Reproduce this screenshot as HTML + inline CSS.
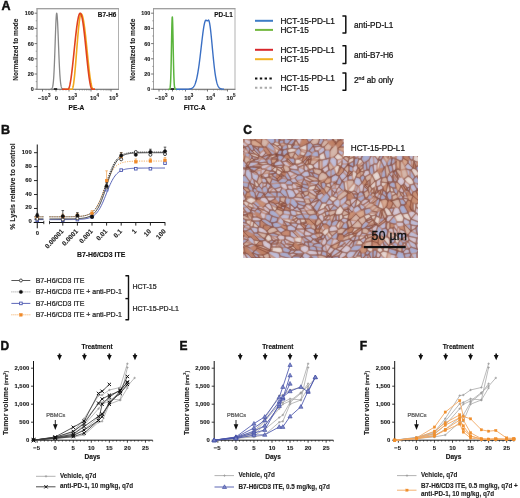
<!DOCTYPE html>
<html><head><meta charset="utf-8"><title>Figure</title>
<style>
html,body{margin:0;padding:0;background:#fff;}
body{width:520px;height:498px;overflow:hidden;}
svg{display:block;font-family:'Liberation Sans', sans-serif;}
</style></head>
<body>
<svg width="520" height="498" viewBox="0 0 520 498">
<rect width="520" height="498" fill="#fff"/>
<text x="1.5" y="10.3" font-size="12.5" font-weight="bold" text-anchor="start" fill="#111" stroke="#111" stroke-width="0.45">A</text>
<text x="1" y="133.8" font-size="12.5" font-weight="bold" text-anchor="start" fill="#111" stroke="#111" stroke-width="0.45">B</text>
<text x="243.3" y="133.6" font-size="12" font-weight="bold" text-anchor="start" fill="#111" stroke="#111" stroke-width="0.45">C</text>
<text x="0.4" y="350.2" font-size="12" font-weight="bold" text-anchor="start" fill="#111" stroke="#111" stroke-width="0.45">D</text>
<text x="179.4" y="350.2" font-size="12" font-weight="bold" text-anchor="start" fill="#111" stroke="#111" stroke-width="0.45">E</text>
<text x="359.8" y="350.2" font-size="12" font-weight="bold" text-anchor="start" fill="#111" stroke="#111" stroke-width="0.45">F</text>
<rect x="37" y="8.7" width="81.5" height="80.6" fill="none" stroke="#a8a8a8" stroke-width="0.9"/>
<line x1="36.6" y1="8.7" x2="118.9" y2="8.7" stroke="#a0a0a0" stroke-width="1.2" />
<line x1="37" y1="8.3" x2="37" y2="89.7" stroke="#999" stroke-width="0.8" />
<line x1="36.6" y1="89.3" x2="118.9" y2="89.3" stroke="#777" stroke-width="1.0" />
<line x1="34.6" y1="89.2" x2="37" y2="89.2" stroke="#555" stroke-width="0.8" />
<text x="33.8" y="91.15" font-size="5.4" font-weight="bold" text-anchor="end" fill="#222"  stroke="#222" stroke-width="0.12">0</text>
<line x1="34.6" y1="74" x2="37" y2="74" stroke="#555" stroke-width="0.8" />
<text x="33.8" y="75.95" font-size="5.4" font-weight="bold" text-anchor="end" fill="#222"  stroke="#222" stroke-width="0.12">20</text>
<line x1="34.6" y1="58.8" x2="37" y2="58.8" stroke="#555" stroke-width="0.8" />
<text x="33.8" y="60.75" font-size="5.4" font-weight="bold" text-anchor="end" fill="#222"  stroke="#222" stroke-width="0.12">40</text>
<line x1="34.6" y1="43.6" x2="37" y2="43.6" stroke="#555" stroke-width="0.8" />
<text x="33.8" y="45.55" font-size="5.4" font-weight="bold" text-anchor="end" fill="#222"  stroke="#222" stroke-width="0.12">60</text>
<line x1="34.6" y1="28.4" x2="37" y2="28.4" stroke="#555" stroke-width="0.8" />
<text x="33.8" y="30.35" font-size="5.4" font-weight="bold" text-anchor="end" fill="#222"  stroke="#222" stroke-width="0.12">80</text>
<line x1="34.6" y1="13.2" x2="37" y2="13.2" stroke="#555" stroke-width="0.8" />
<text x="33.8" y="15.15" font-size="5.4" font-weight="bold" text-anchor="end" fill="#222"  stroke="#222" stroke-width="0.12">100</text>
<line x1="35.7" y1="81.6" x2="37" y2="81.6" stroke="#777" stroke-width="0.6" />
<line x1="35.7" y1="66.4" x2="37" y2="66.4" stroke="#777" stroke-width="0.6" />
<line x1="35.7" y1="51.2" x2="37" y2="51.2" stroke="#777" stroke-width="0.6" />
<line x1="35.7" y1="36" x2="37" y2="36" stroke="#777" stroke-width="0.6" />
<line x1="35.7" y1="20.8" x2="37" y2="20.8" stroke="#777" stroke-width="0.6" />
<line x1="42.5" y1="89.3" x2="42.5" y2="91.5" stroke="#555" stroke-width="0.8" />
<line x1="56" y1="89.3" x2="56" y2="91.5" stroke="#555" stroke-width="0.8" />
<line x1="69" y1="89.3" x2="69" y2="91.5" stroke="#555" stroke-width="0.8" />
<line x1="91" y1="89.3" x2="91" y2="91.5" stroke="#555" stroke-width="0.8" />
<line x1="111" y1="89.3" x2="111" y2="91.5" stroke="#555" stroke-width="0.8" />
<line x1="46" y1="89.3" x2="46" y2="90.5" stroke="#777" stroke-width="0.6" />
<line x1="49" y1="89.3" x2="49" y2="90.5" stroke="#777" stroke-width="0.6" />
<line x1="52" y1="89.3" x2="52" y2="90.5" stroke="#777" stroke-width="0.6" />
<line x1="60" y1="89.3" x2="60" y2="90.5" stroke="#777" stroke-width="0.6" />
<line x1="63" y1="89.3" x2="63" y2="90.5" stroke="#777" stroke-width="0.6" />
<line x1="66" y1="89.3" x2="66" y2="90.5" stroke="#777" stroke-width="0.6" />
<line x1="75.6" y1="89.3" x2="75.6" y2="90.5" stroke="#777" stroke-width="0.6" />
<line x1="79.5" y1="89.3" x2="79.5" y2="90.5" stroke="#777" stroke-width="0.6" />
<line x1="82.3" y1="89.3" x2="82.3" y2="90.5" stroke="#777" stroke-width="0.6" />
<line x1="84.5" y1="89.3" x2="84.5" y2="90.5" stroke="#777" stroke-width="0.6" />
<line x1="86.5" y1="89.3" x2="86.5" y2="90.5" stroke="#777" stroke-width="0.6" />
<line x1="88.2" y1="89.3" x2="88.2" y2="90.5" stroke="#777" stroke-width="0.6" />
<line x1="89.7" y1="89.3" x2="89.7" y2="90.5" stroke="#777" stroke-width="0.6" />
<line x1="97" y1="89.3" x2="97" y2="90.5" stroke="#777" stroke-width="0.6" />
<line x1="101" y1="89.3" x2="101" y2="90.5" stroke="#777" stroke-width="0.6" />
<line x1="103.4" y1="89.3" x2="103.4" y2="90.5" stroke="#777" stroke-width="0.6" />
<line x1="105.2" y1="89.3" x2="105.2" y2="90.5" stroke="#777" stroke-width="0.6" />
<line x1="106.6" y1="89.3" x2="106.6" y2="90.5" stroke="#777" stroke-width="0.6" />
<line x1="107.9" y1="89.3" x2="107.9" y2="90.5" stroke="#777" stroke-width="0.6" />
<line x1="109" y1="89.3" x2="109" y2="90.5" stroke="#777" stroke-width="0.6" />
<line x1="110" y1="89.3" x2="110" y2="90.5" stroke="#777" stroke-width="0.6" />
<text x="37.9" y="99.7" font-size="5.9" font-weight="bold" fill="#222" stroke="#222" stroke-width="0.12">−10<tspan dy="-2.9" font-size="4.5">3</tspan></text>
<text x="56.3" y="99.7" font-size="5.9" font-weight="bold" text-anchor="middle" fill="#222"  stroke="#222" stroke-width="0.12">0</text>
<text x="67.9" y="99.7" font-size="5.9" font-weight="bold" fill="#222" stroke="#222" stroke-width="0.12">10<tspan dy="-2.9" font-size="4.5">3</tspan></text>
<text x="89.9" y="99.7" font-size="5.9" font-weight="bold" fill="#222" stroke="#222" stroke-width="0.12">10<tspan dy="-2.9" font-size="4.5">4</tspan></text>
<text x="109.1" y="99.7" font-size="5.9" font-weight="bold" fill="#222" stroke="#222" stroke-width="0.12">10<tspan dy="-2.9" font-size="4.5">5</tspan></text>
<text x="116.3" y="16.8" font-size="6.4" font-weight="bold" text-anchor="end" fill="#111"  stroke="#111" stroke-width="0.12">B7-H6</text>
<text transform="translate(17.9,49.6) rotate(-90)" font-size="6.5" font-weight="bold" text-anchor="middle" fill="#222" stroke="#222" stroke-width="0.12">Normalized to mode</text>
<text x="68.6" y="109.7" font-size="6.6" font-weight="bold" text-anchor="start" fill="#111"  stroke="#111" stroke-width="0.12">PE-A</text>
<rect x="153.5" y="8.7" width="81.5" height="80.6" fill="none" stroke="#a8a8a8" stroke-width="0.9"/>
<line x1="153.1" y1="8.7" x2="235.4" y2="8.7" stroke="#a0a0a0" stroke-width="1.2" />
<line x1="153.5" y1="8.3" x2="153.5" y2="89.7" stroke="#999" stroke-width="0.8" />
<line x1="153.1" y1="89.3" x2="235.4" y2="89.3" stroke="#777" stroke-width="1.0" />
<line x1="151.1" y1="89.2" x2="153.5" y2="89.2" stroke="#555" stroke-width="0.8" />
<text x="150.3" y="91.15" font-size="5.4" font-weight="bold" text-anchor="end" fill="#222"  stroke="#222" stroke-width="0.12">0</text>
<line x1="151.1" y1="74" x2="153.5" y2="74" stroke="#555" stroke-width="0.8" />
<text x="150.3" y="75.95" font-size="5.4" font-weight="bold" text-anchor="end" fill="#222"  stroke="#222" stroke-width="0.12">20</text>
<line x1="151.1" y1="58.8" x2="153.5" y2="58.8" stroke="#555" stroke-width="0.8" />
<text x="150.3" y="60.75" font-size="5.4" font-weight="bold" text-anchor="end" fill="#222"  stroke="#222" stroke-width="0.12">40</text>
<line x1="151.1" y1="43.6" x2="153.5" y2="43.6" stroke="#555" stroke-width="0.8" />
<text x="150.3" y="45.55" font-size="5.4" font-weight="bold" text-anchor="end" fill="#222"  stroke="#222" stroke-width="0.12">60</text>
<line x1="151.1" y1="28.4" x2="153.5" y2="28.4" stroke="#555" stroke-width="0.8" />
<text x="150.3" y="30.35" font-size="5.4" font-weight="bold" text-anchor="end" fill="#222"  stroke="#222" stroke-width="0.12">80</text>
<line x1="151.1" y1="13.2" x2="153.5" y2="13.2" stroke="#555" stroke-width="0.8" />
<text x="150.3" y="15.15" font-size="5.4" font-weight="bold" text-anchor="end" fill="#222"  stroke="#222" stroke-width="0.12">100</text>
<line x1="152.2" y1="81.6" x2="153.5" y2="81.6" stroke="#777" stroke-width="0.6" />
<line x1="152.2" y1="66.4" x2="153.5" y2="66.4" stroke="#777" stroke-width="0.6" />
<line x1="152.2" y1="51.2" x2="153.5" y2="51.2" stroke="#777" stroke-width="0.6" />
<line x1="152.2" y1="36" x2="153.5" y2="36" stroke="#777" stroke-width="0.6" />
<line x1="152.2" y1="20.8" x2="153.5" y2="20.8" stroke="#777" stroke-width="0.6" />
<line x1="159" y1="89.3" x2="159" y2="91.5" stroke="#555" stroke-width="0.8" />
<line x1="172.5" y1="89.3" x2="172.5" y2="91.5" stroke="#555" stroke-width="0.8" />
<line x1="185.5" y1="89.3" x2="185.5" y2="91.5" stroke="#555" stroke-width="0.8" />
<line x1="207.5" y1="89.3" x2="207.5" y2="91.5" stroke="#555" stroke-width="0.8" />
<line x1="227.5" y1="89.3" x2="227.5" y2="91.5" stroke="#555" stroke-width="0.8" />
<line x1="162.5" y1="89.3" x2="162.5" y2="90.5" stroke="#777" stroke-width="0.6" />
<line x1="165.5" y1="89.3" x2="165.5" y2="90.5" stroke="#777" stroke-width="0.6" />
<line x1="168.5" y1="89.3" x2="168.5" y2="90.5" stroke="#777" stroke-width="0.6" />
<line x1="176.5" y1="89.3" x2="176.5" y2="90.5" stroke="#777" stroke-width="0.6" />
<line x1="179.5" y1="89.3" x2="179.5" y2="90.5" stroke="#777" stroke-width="0.6" />
<line x1="182.5" y1="89.3" x2="182.5" y2="90.5" stroke="#777" stroke-width="0.6" />
<line x1="192.1" y1="89.3" x2="192.1" y2="90.5" stroke="#777" stroke-width="0.6" />
<line x1="196" y1="89.3" x2="196" y2="90.5" stroke="#777" stroke-width="0.6" />
<line x1="198.8" y1="89.3" x2="198.8" y2="90.5" stroke="#777" stroke-width="0.6" />
<line x1="201" y1="89.3" x2="201" y2="90.5" stroke="#777" stroke-width="0.6" />
<line x1="203" y1="89.3" x2="203" y2="90.5" stroke="#777" stroke-width="0.6" />
<line x1="204.7" y1="89.3" x2="204.7" y2="90.5" stroke="#777" stroke-width="0.6" />
<line x1="206.2" y1="89.3" x2="206.2" y2="90.5" stroke="#777" stroke-width="0.6" />
<line x1="213.5" y1="89.3" x2="213.5" y2="90.5" stroke="#777" stroke-width="0.6" />
<line x1="217.5" y1="89.3" x2="217.5" y2="90.5" stroke="#777" stroke-width="0.6" />
<line x1="219.9" y1="89.3" x2="219.9" y2="90.5" stroke="#777" stroke-width="0.6" />
<line x1="221.7" y1="89.3" x2="221.7" y2="90.5" stroke="#777" stroke-width="0.6" />
<line x1="223.1" y1="89.3" x2="223.1" y2="90.5" stroke="#777" stroke-width="0.6" />
<line x1="224.4" y1="89.3" x2="224.4" y2="90.5" stroke="#777" stroke-width="0.6" />
<line x1="225.5" y1="89.3" x2="225.5" y2="90.5" stroke="#777" stroke-width="0.6" />
<line x1="226.5" y1="89.3" x2="226.5" y2="90.5" stroke="#777" stroke-width="0.6" />
<text x="154.9" y="99.7" font-size="5.9" font-weight="bold" fill="#222" stroke="#222" stroke-width="0.12">−10<tspan dy="-2.9" font-size="4.5">3</tspan></text>
<text x="172.3" y="99.7" font-size="5.9" font-weight="bold" text-anchor="middle" fill="#222"  stroke="#222" stroke-width="0.12">0</text>
<text x="184.3" y="99.7" font-size="5.9" font-weight="bold" fill="#222" stroke="#222" stroke-width="0.12">10<tspan dy="-2.9" font-size="4.5">3</tspan></text>
<text x="206" y="99.7" font-size="5.9" font-weight="bold" fill="#222" stroke="#222" stroke-width="0.12">10<tspan dy="-2.9" font-size="4.5">4</tspan></text>
<text x="226.4" y="99.7" font-size="5.9" font-weight="bold" fill="#222" stroke="#222" stroke-width="0.12">10<tspan dy="-2.9" font-size="4.5">5</tspan></text>
<text x="232.8" y="16.8" font-size="6.4" font-weight="bold" text-anchor="end" fill="#111"  stroke="#111" stroke-width="0.12">PD-L1</text>
<text transform="translate(135.3,49.6) rotate(-90)" font-size="6.5" font-weight="bold" text-anchor="middle" fill="#222" stroke="#222" stroke-width="0.12">Normalized to mode</text>
<text x="183.8" y="109.7" font-size="6.6" font-weight="bold" text-anchor="start" fill="#111"  stroke="#111" stroke-width="0.12">FITC-A</text>
<line x1="53.8" y1="89" x2="57.2" y2="89" stroke="#111" stroke-width="1.6" />
<polyline points="50.5,89.17 50.59,89.17 50.67,89.16 50.76,89.15 50.85,89.14 50.94,89.12 51.02,89.11 51.11,89.09 51.2,89.06 51.29,89.03 51.38,88.99 51.46,88.95 51.55,88.9 51.64,88.83 51.73,88.76 51.81,88.67 51.9,88.57 51.99,88.45 52.08,88.31 52.16,88.15 52.25,87.97 52.34,87.75 52.42,87.51 52.51,87.22 52.6,86.9 52.69,86.54 52.77,86.12 52.86,85.65 52.95,85.13 53.04,84.54 53.12,83.88 53.21,83.15 53.3,82.35 53.39,81.45 53.48,80.48 53.56,79.4 53.65,78.23 53.74,76.97 53.83,75.59 53.91,74.12 54,72.53 54.09,70.84 54.17,69.04 54.26,67.13 54.35,65.12 54.44,63.01 54.52,60.81 54.61,58.51 54.7,56.14 54.79,53.7 54.88,51.2 54.96,48.65 55.05,46.07 55.14,43.48 55.23,40.87 55.31,38.29 55.4,35.74 55.49,33.23 55.58,30.8 55.66,28.45 55.75,26.21 55.84,24.1 55.92,22.13 56.01,20.32 56.1,18.69 56.19,17.24 56.27,16 56.36,14.98 56.45,14.18 56.54,13.62 56.62,13.29 56.71,13.2 56.8,13.32 56.89,13.63 56.98,14.13 57.06,14.81 57.15,15.67 57.24,16.7 57.33,17.9 57.41,19.25 57.5,20.74 57.59,22.37 57.67,24.13 57.76,25.99 57.85,27.96 57.94,30.01 58.02,32.14 58.11,34.33 58.2,36.56 58.29,38.84 58.38,41.13 58.46,43.43 58.55,45.73 58.64,48.02 58.73,50.29 58.81,52.52 58.9,54.71 58.99,56.86 59.08,58.94 59.16,60.96 59.25,62.91 59.34,64.79 59.42,66.59 59.51,68.31 59.6,69.95 59.69,71.5 59.77,72.97 59.86,74.35 59.95,75.65 60.04,76.87 60.12,78 60.21,79.06 60.3,80.04 60.39,80.95 60.48,81.78 60.56,82.55 60.65,83.25 60.74,83.89 60.83,84.48 60.91,85.01 61,85.49 61.09,85.92 61.17,86.31 61.26,86.66 61.35,86.97 61.44,87.25 61.52,87.5 61.61,87.72 61.7,87.92 61.79,88.09 61.88,88.24 61.96,88.37 62.05,88.49 62.14,88.59 62.23,88.68 62.31,88.76 62.4,88.82 62.49,88.88 62.58,88.93 62.66,88.97 62.75,89.01 62.84,89.04 62.92,89.06 63.01,89.09 63.1,89.11 63.19,89.12 63.27,89.13 63.36,89.15 63.45,89.16 63.54,89.16 63.62,89.17 63.71,89.18 63.8,89.18 63.89,89.18 63.98,89.19 64.06,89.19 64.15,89.19 64.24,89.19 64.33,89.19 64.41,89.2 64.5,89.2" fill="none" stroke="#888" stroke-width="1.3" stroke-linejoin="round" />
<polyline points="64,89.2 64.19,89.2 64.39,89.2 64.58,89.2 64.78,89.2 64.97,89.2 65.16,89.2 65.36,89.2 65.55,89.2 65.74,89.2 65.94,89.2 66.13,89.2 66.33,89.2 66.52,89.2 66.71,89.2 66.91,89.2 67.1,89.2 67.29,89.2 67.49,89.2 67.68,89.2 67.88,89.2 68.07,89.2 68.26,89.2 68.46,89.2 68.65,89.2 68.84,89.2 69.04,89.2 69.23,89.2 69.42,89.2 69.62,89.2 69.81,89.2 70.01,89.2 70.2,89.2 70.39,89.2 70.59,89.2 70.78,89.2 70.97,89.2 71.17,89.2 71.36,89.2 71.56,89.2 71.75,89.2 71.94,89.2 72.14,89.16 72.33,88.96 72.53,88.6 72.72,88.07 72.91,87.39 73.11,86.55 73.3,85.55 73.49,84.41 73.69,83.12 73.88,81.7 74.08,80.14 74.27,78.46 74.46,76.67 74.66,74.76 74.85,72.75 75.04,70.64 75.24,68.46 75.43,66.2 75.62,63.88 75.82,61.5 76.01,59.08 76.21,56.62 76.4,54.15 76.59,51.66 76.79,49.17 76.98,46.7 77.17,44.24 77.37,41.82 77.56,39.44 77.76,37.11 77.95,34.85 78.14,32.65 78.34,30.55 78.53,28.53 78.72,26.61 78.92,24.81 79.11,23.12 79.31,21.56 79.5,20.12 79.69,18.83 79.89,17.68 80.08,16.67 80.28,15.82 80.47,15.13 80.66,14.59 80.86,14.22 81.05,14.01 81.24,13.96 81.44,14.03 81.63,14.2 81.83,14.46 82.02,14.82 82.21,15.27 82.41,15.82 82.6,16.46 82.79,17.19 82.99,18 83.18,18.91 83.38,19.9 83.57,20.96 83.76,22.11 83.96,23.34 84.15,24.63 84.34,26 84.54,27.43 84.73,28.92 84.92,30.48 85.12,32.08 85.31,33.74 85.51,35.44 85.7,37.18 85.89,38.96 86.09,40.78 86.28,42.62 86.47,44.48 86.67,46.36 86.86,48.26 87.06,50.16 87.25,52.07 87.44,53.98 87.64,55.88 87.83,57.77 88.03,59.64 88.22,61.5 88.41,63.32 88.61,65.12 88.8,66.88 88.99,68.6 89.19,70.28 89.38,71.91 89.58,73.49 89.77,75.02 89.96,76.48 90.16,77.87 90.35,79.21 90.54,80.46 90.74,81.65 90.93,82.76 91.12,83.78 91.32,84.73 91.51,85.59 91.71,86.36 91.9,87.04 92.09,87.63 92.29,88.13 92.48,88.54 92.67,88.85 92.87,89.06 93.06,89.18 93.26,89.2 93.45,89.2 93.64,89.2 93.84,89.2 94.03,89.2 94.22,89.2 94.42,89.2 94.61,89.2 94.81,89.2 95,89.2" fill="none" stroke="#f2a81d" stroke-width="1.6" stroke-linejoin="round" />
<polyline points="62,89.2 62.21,89.2 62.41,89.2 62.62,89.2 62.83,89.2 63.03,89.2 63.24,89.2 63.44,89.2 63.65,89.2 63.86,89.2 64.06,89.2 64.27,89.2 64.47,89.2 64.68,89.2 64.89,89.2 65.09,89.2 65.3,89.2 65.51,89.2 65.71,89.2 65.92,89.2 66.12,89.2 66.33,89.2 66.54,89.2 66.74,89.2 66.95,89.2 67.16,89.2 67.36,89.2 67.57,89.2 67.78,89.2 67.98,89.2 68.19,89.16 68.39,89 68.6,88.75 68.81,88.38 69.01,87.92 69.22,87.34 69.42,86.67 69.63,85.9 69.84,85.02 70.04,84.06 70.25,83 70.46,81.85 70.66,80.61 70.87,79.29 71.08,77.9 71.28,76.42 71.49,74.88 71.69,73.27 71.9,71.59 72.11,69.86 72.31,68.08 72.52,66.25 72.72,64.38 72.93,62.46 73.14,60.52 73.34,58.55 73.55,56.56 73.76,54.56 73.96,52.55 74.17,50.53 74.38,48.51 74.58,46.5 74.79,44.51 74.99,42.53 75.2,40.58 75.41,38.66 75.61,36.77 75.82,34.93 76.03,33.13 76.23,31.38 76.44,29.68 76.64,28.05 76.85,26.48 77.06,24.99 77.26,23.56 77.47,22.22 77.67,20.95 77.88,19.78 78.09,18.69 78.29,17.69 78.5,16.78 78.71,15.98 78.91,15.27 79.12,14.66 79.33,14.16 79.53,13.76 79.74,13.47 79.94,13.28 80.15,13.2 80.36,13.23 80.56,13.37 80.77,13.62 80.97,13.98 81.18,14.45 81.39,15.02 81.59,15.7 81.8,16.49 82.01,17.37 82.21,18.35 82.42,19.43 82.62,20.6 82.83,21.87 83.04,23.21 83.24,24.64 83.45,26.14 83.66,27.72 83.86,29.37 84.07,31.08 84.28,32.85 84.48,34.67 84.69,36.54 84.89,38.46 85.1,40.41 85.31,42.39 85.51,44.4 85.72,46.42 85.92,48.47 86.13,50.52 86.34,52.57 86.54,54.62 86.75,56.65 86.96,58.67 87.16,60.67 87.37,62.65 87.58,64.59 87.78,66.49 87.99,68.34 88.19,70.15 88.4,71.9 88.61,73.59 88.81,75.21 89.02,76.77 89.22,78.25 89.43,79.65 89.64,80.96 89.84,82.2 90.05,83.34 90.26,84.39 90.46,85.34 90.67,86.19 90.88,86.94 91.08,87.58 91.29,88.12 91.49,88.55 91.7,88.87 91.91,89.09 92.11,89.19 92.32,89.2 92.53,89.2 92.73,89.2 92.94,89.2 93.14,89.2 93.35,89.2 93.56,89.2 93.76,89.2 93.97,89.2 94.17,89.2 94.38,89.2 94.59,89.2 94.79,89.2 95,89.2" fill="none" stroke="#e0421f" stroke-width="1.6" stroke-linejoin="round" />
<line x1="170.5" y1="89" x2="174" y2="89" stroke="#111" stroke-width="1.6" />
<polyline points="168.5,89.2 168.55,89.2 168.6,89.2 168.65,89.2 168.7,89.2 168.75,89.2 168.8,89.19 168.85,89.19 168.9,89.19 168.95,89.19 169,89.19 169.05,89.18 169.1,89.18 169.15,89.17 169.2,89.16 169.25,89.15 169.3,89.14 169.35,89.12 169.4,89.1 169.45,89.07 169.5,89.04 169.55,89 169.6,88.96 169.65,88.9 169.7,88.83 169.75,88.75 169.8,88.65 169.85,88.54 169.9,88.4 169.95,88.23 170,88.04 170.05,87.82 170.1,87.55 170.15,87.25 170.2,86.9 170.25,86.49 170.3,86.03 170.35,85.5 170.4,84.9 170.45,84.22 170.5,83.46 170.55,82.6 170.6,81.65 170.65,80.59 170.7,79.43 170.75,78.15 170.8,76.75 170.85,75.23 170.9,73.59 170.95,71.81 171,69.92 171.05,67.9 171.1,65.76 171.15,63.51 171.2,61.15 171.25,58.69 171.3,56.14 171.35,53.53 171.4,50.85 171.45,48.14 171.5,45.41 171.55,42.68 171.6,39.96 171.65,37.3 171.7,34.7 171.75,32.2 171.8,29.81 171.85,27.56 171.9,25.48 171.95,23.59 172,21.9 172.05,20.44 172.1,19.22 172.15,18.26 172.2,17.56 172.25,17.14 172.3,17 172.35,17.12 172.4,17.5 172.45,18.12 172.5,18.97 172.55,20.06 172.6,21.36 172.65,22.87 172.7,24.57 172.75,26.44 172.8,28.47 172.85,30.64 172.9,32.92 172.95,35.3 173,37.76 173.05,40.28 173.1,42.84 173.15,45.41 173.2,47.98 173.25,50.54 173.3,53.06 173.35,55.53 173.4,57.95 173.45,60.29 173.5,62.55 173.55,64.71 173.6,66.78 173.65,68.75 173.7,70.6 173.75,72.35 173.8,73.98 173.85,75.51 173.9,76.92 173.95,78.23 174,79.43 174.05,80.53 174.1,81.53 174.15,82.44 174.2,83.26 174.25,84 174.3,84.67 174.35,85.26 174.4,85.79 174.45,86.25 174.5,86.67 174.55,87.03 174.6,87.34 174.65,87.62 174.7,87.86 174.75,88.07 174.8,88.24 174.85,88.4 174.9,88.53 174.95,88.64 175,88.73 175.05,88.81 175.1,88.88 175.15,88.94 175.2,88.99 175.25,89.03 175.3,89.06 175.35,89.08 175.4,89.11 175.45,89.12 175.5,89.14 175.55,89.15 175.6,89.16 175.65,89.17 175.7,89.18 175.75,89.18 175.8,89.18 175.85,89.19 175.9,89.19 175.95,89.19 176,89.19 176.05,89.2 176.1,89.2 176.15,89.2 176.2,89.2 176.25,89.2 176.3,89.2 176.35,89.2 176.4,89.2 176.45,89.2 176.5,89.2" fill="none" stroke="#5ab43c" stroke-width="1.5" stroke-linejoin="round" />
<polyline points="176,89.2 176.24,89.2 176.48,89.2 176.72,89.2 176.96,89.2 177.2,89.2 177.44,89.2 177.68,89.2 177.92,89.2 178.16,89.2 178.4,89.2 178.64,89.2 178.88,89.2 179.12,89.2 179.36,89.2 179.6,89.2 179.84,89.2 180.08,89.2 180.32,89.2 180.56,89.2 180.8,89.2 181.04,89.2 181.28,89.2 181.52,89.2 181.76,89.2 182,89.2 182.24,89.2 182.48,89.2 182.72,89.2 182.96,89.2 183.2,89.2 183.44,89.2 183.68,89.2 183.92,89.2 184.16,89.2 184.4,89.2 184.64,89.2 184.88,89.2 185.12,89.19 185.36,89.19 185.6,89.19 185.84,89.19 186.08,89.19 186.32,89.18 186.56,89.18 186.8,89.18 187.04,89.17 187.28,89.17 187.52,89.16 187.76,89.15 188,89.14 188.24,89.13 188.48,89.11 188.72,89.09 188.96,89.07 189.2,89.05 189.44,89.02 189.68,88.99 189.92,88.95 190.16,88.9 190.4,88.85 190.64,88.79 190.88,88.72 191.12,88.63 191.36,88.54 191.6,88.43 191.84,88.31 192.08,88.17 192.32,88.01 192.56,87.83 192.8,87.62 193.04,87.39 193.28,87.13 193.52,86.85 193.76,86.52 194,86.16 194.24,85.76 194.48,85.32 194.72,84.83 194.96,84.29 195.2,83.7 195.44,83.05 195.68,82.34 195.92,81.58 196.16,80.74 196.4,79.84 196.64,78.87 196.88,77.82 197.12,76.71 197.36,75.51 197.6,74.24 197.84,72.9 198.08,71.47 198.32,69.97 198.56,68.4 198.8,66.75 199.04,65.03 199.28,63.24 199.52,61.4 199.76,59.49 200,57.54 200.24,55.54 200.48,53.5 200.72,51.43 200.96,49.35 201.2,47.25 201.44,45.16 201.68,43.07 201.92,41.01 202.16,38.98 202.4,37 202.64,35.07 202.88,33.21 203.12,31.43 203.36,29.75 203.6,28.17 203.84,26.7 204.08,25.36 204.32,24.15 204.56,23.08 204.8,22.17 205.04,21.41 205.28,20.81 205.52,20.38 205.76,20.13 206,20.04 206.24,20.27 206.48,20.49 206.72,20.65 206.96,20.76 207.2,20.8 207.44,20.76 207.68,20.65 207.92,20.49 208.16,20.27 208.4,20.04 208.64,20.17 208.88,20.56 209.12,21.21 209.36,22.1 209.6,23.24 209.84,24.6 210.08,26.17 210.32,27.93 210.56,29.87 210.8,31.97 211.04,34.2 211.28,36.55 211.52,38.98 211.76,41.48 212,44.03 212.24,46.61 212.48,49.19 212.72,51.75 212.96,54.29 213.2,56.77 213.44,59.19 213.68,61.54 213.92,63.8 214.16,65.96 214.4,68.02 214.64,69.97 214.88,71.81 215.12,73.53 215.36,75.13 215.6,76.62 215.84,77.99 216.08,79.25 216.32,80.4 216.56,81.45 216.8,82.4 217.04,83.26 217.28,84.02 217.52,84.71 217.76,85.32 218,85.86 218.24,86.33 218.48,86.75 218.72,87.11 218.96,87.43 219.2,87.71 219.44,87.94 219.68,88.14 219.92,88.32 220.16,88.47 220.4,88.59 220.64,88.7 220.88,88.79 221.12,88.86 221.36,88.92 221.6,88.97 221.84,89.02 222.08,89.05 222.32,89.08 222.56,89.11 222.8,89.12 223.04,89.14 223.28,89.15 223.52,89.16 223.76,89.17 224,89.18" fill="none" stroke="#3a6fc4" stroke-width="1.4" stroke-linejoin="round" />
<line x1="255" y1="20.8" x2="273" y2="20.8" stroke="#3d7cc6" stroke-width="2.0" />
<text x="280.4" y="23.6" font-size="8.25" font-weight="normal" text-anchor="start" fill="#111"  stroke="#111" stroke-width="0.22">HCT-15-PD-L1</text>
<line x1="255" y1="29.9" x2="273" y2="29.9" stroke="#74b840" stroke-width="2.0" />
<text x="280.4" y="32.7" font-size="8.25" font-weight="normal" text-anchor="start" fill="#111"  stroke="#111" stroke-width="0.22">HCT-15</text>
<line x1="255" y1="49.8" x2="273" y2="49.8" stroke="#d8262b" stroke-width="2.0" />
<text x="280.4" y="52.6" font-size="8.25" font-weight="normal" text-anchor="start" fill="#111"  stroke="#111" stroke-width="0.22">HCT-15-PD-L1</text>
<line x1="255" y1="59.2" x2="273" y2="59.2" stroke="#f2b322" stroke-width="2.0" />
<text x="280.4" y="62" font-size="8.25" font-weight="normal" text-anchor="start" fill="#111"  stroke="#111" stroke-width="0.22">HCT-15</text>
<line x1="255" y1="78.4" x2="273" y2="78.4" stroke="#111" stroke-width="2.0" stroke-dasharray="2.4 2.4"/>
<text x="280.4" y="81.2" font-size="8.25" font-weight="normal" text-anchor="start" fill="#111"  stroke="#111" stroke-width="0.22">HCT-15-PD-L1</text>
<line x1="255" y1="87.8" x2="273" y2="87.8" stroke="#aaa" stroke-width="2.0" stroke-dasharray="2.4 2.4"/>
<text x="280.4" y="90.6" font-size="8.25" font-weight="normal" text-anchor="start" fill="#111"  stroke="#111" stroke-width="0.22">HCT-15</text>
<polyline points="342.4,15.9 345.8,15.9 345.8,33 342.4,33" fill="none" stroke="#111" stroke-width="1.5" stroke-linejoin="round" stroke-linejoin="miter"/>
<polyline points="342.4,45.8 345.8,45.8 345.8,63.4 342.4,63.4" fill="none" stroke="#111" stroke-width="1.5" stroke-linejoin="round" stroke-linejoin="miter"/>
<polyline points="342.4,72.9 345.8,72.9 345.8,90.3 342.4,90.3" fill="none" stroke="#111" stroke-width="1.5" stroke-linejoin="round" stroke-linejoin="miter"/>
<text x="354" y="28.4" font-size="8.25" font-weight="normal" text-anchor="start" fill="#111"  stroke="#111" stroke-width="0.22">anti-PD-L1</text>
<text x="354" y="57.9" font-size="8.25" font-weight="normal" text-anchor="start" fill="#111"  stroke="#111" stroke-width="0.22">anti-B7-H6</text>
<text x="354" y="83.2" font-size="8.25" fill="#111" stroke="#111" stroke-width="0.22">2<tspan dy="-2.8" font-size="5.2">nd</tspan><tspan dy="2.8"> ab only</tspan></text>
<line x1="37.25" y1="144.5" x2="37.25" y2="228.3" stroke="#111" stroke-width="1.0" />
<line x1="33.7" y1="222.5" x2="43.8" y2="222.5" stroke="#111" stroke-width="1.0" />
<line x1="43.8" y1="220.8" x2="43.8" y2="224.2" stroke="#111" stroke-width="0.8" />
<line x1="49.5" y1="222.5" x2="165.2" y2="222.5" stroke="#111" stroke-width="1.0" />
<line x1="49.5" y1="220.8" x2="49.5" y2="224.2" stroke="#111" stroke-width="0.8" />
<line x1="62.8" y1="222.5" x2="62.8" y2="225.6" stroke="#111" stroke-width="0.9" />
<line x1="77.4" y1="222.5" x2="77.4" y2="225.6" stroke="#111" stroke-width="0.9" />
<line x1="92" y1="222.5" x2="92" y2="225.6" stroke="#111" stroke-width="0.9" />
<line x1="106.6" y1="222.5" x2="106.6" y2="225.6" stroke="#111" stroke-width="0.9" />
<line x1="121.2" y1="222.5" x2="121.2" y2="225.6" stroke="#111" stroke-width="0.9" />
<line x1="135.8" y1="222.5" x2="135.8" y2="225.6" stroke="#111" stroke-width="0.9" />
<line x1="150.4" y1="222.5" x2="150.4" y2="225.6" stroke="#111" stroke-width="0.9" />
<line x1="165" y1="222.5" x2="165" y2="225.6" stroke="#111" stroke-width="0.9" />
<line x1="34" y1="222.4" x2="37.25" y2="222.4" stroke="#111" stroke-width="0.9" />
<text x="31.7" y="223.4" font-size="5.9" font-weight="bold" text-anchor="end" fill="#222"  stroke="#222" stroke-width="0.12">0</text>
<line x1="34" y1="208.46" x2="37.25" y2="208.46" stroke="#111" stroke-width="0.9" />
<text x="31.7" y="209.46" font-size="5.9" font-weight="bold" text-anchor="end" fill="#222"  stroke="#222" stroke-width="0.12">20</text>
<line x1="34" y1="194.52" x2="37.25" y2="194.52" stroke="#111" stroke-width="0.9" />
<text x="31.7" y="195.52" font-size="5.9" font-weight="bold" text-anchor="end" fill="#222"  stroke="#222" stroke-width="0.12">40</text>
<line x1="34" y1="180.58" x2="37.25" y2="180.58" stroke="#111" stroke-width="0.9" />
<text x="31.7" y="181.58" font-size="5.9" font-weight="bold" text-anchor="end" fill="#222"  stroke="#222" stroke-width="0.12">60</text>
<line x1="34" y1="166.64" x2="37.25" y2="166.64" stroke="#111" stroke-width="0.9" />
<text x="31.7" y="167.64" font-size="5.9" font-weight="bold" text-anchor="end" fill="#222"  stroke="#222" stroke-width="0.12">80</text>
<line x1="34" y1="152.7" x2="37.25" y2="152.7" stroke="#111" stroke-width="0.9" />
<text x="31.7" y="153.7" font-size="5.9" font-weight="bold" text-anchor="end" fill="#222"  stroke="#222" stroke-width="0.12">100</text>
<text x="37.3" y="235" font-size="5.9" font-weight="bold" text-anchor="middle" fill="#222"  stroke="#222" stroke-width="0.12">0</text>
<text transform="translate(64,231.6) rotate(-47)" font-size="6.6" font-weight="bold" text-anchor="end" fill="#222" stroke="#222" stroke-width="0.12">0.00001</text>
<text transform="translate(78.6,231.6) rotate(-47)" font-size="6.6" font-weight="bold" text-anchor="end" fill="#222" stroke="#222" stroke-width="0.12">0.0001</text>
<text transform="translate(93.2,231.6) rotate(-47)" font-size="6.6" font-weight="bold" text-anchor="end" fill="#222" stroke="#222" stroke-width="0.12">0.001</text>
<text transform="translate(107.8,231.6) rotate(-47)" font-size="6.6" font-weight="bold" text-anchor="end" fill="#222" stroke="#222" stroke-width="0.12">0.01</text>
<text transform="translate(122.4,231.6) rotate(-47)" font-size="6.6" font-weight="bold" text-anchor="end" fill="#222" stroke="#222" stroke-width="0.12">0.1</text>
<text transform="translate(137,231.6) rotate(-47)" font-size="6.6" font-weight="bold" text-anchor="end" fill="#222" stroke="#222" stroke-width="0.12">1</text>
<text transform="translate(151.6,231.6) rotate(-47)" font-size="6.6" font-weight="bold" text-anchor="end" fill="#222" stroke="#222" stroke-width="0.12">10</text>
<text transform="translate(166.2,231.6) rotate(-47)" font-size="6.6" font-weight="bold" text-anchor="end" fill="#222" stroke="#222" stroke-width="0.12">100</text>
<text transform="translate(15.3,186.6) rotate(-90)" font-size="7" font-weight="bold" text-anchor="middle" fill="#222" stroke="#222" stroke-width="0.12">% Lysis relative to control</text>
<text x="77" y="256.6" font-size="6.9" font-weight="bold" text-anchor="start" fill="#111"  stroke="#111" stroke-width="0.12">B7-H6/CD3 ITE</text>
<polyline points="49.5,216.82 50.46,216.82 51.42,216.82 52.39,216.82 53.35,216.82 54.31,216.82 55.28,216.82 56.24,216.82 57.2,216.82 58.16,216.82 59.12,216.82 60.09,216.82 61.05,216.81 62.01,216.81 62.97,216.81 63.94,216.8 64.9,216.8 65.86,216.8 66.83,216.79 67.79,216.78 68.75,216.77 69.71,216.76 70.68,216.75 71.64,216.74 72.6,216.72 73.56,216.7 74.53,216.67 75.49,216.64 76.45,216.6 77.41,216.55 78.38,216.5 79.34,216.43 80.3,216.35 81.26,216.25 82.22,216.13 83.19,215.99 84.15,215.82 85.11,215.61 86.08,215.36 87.04,215.07 88,214.71 88.96,214.29 89.93,213.79 90.89,213.2 91.85,212.5 92.81,211.68 93.78,210.72 94.74,209.61 95.7,208.33 96.66,206.88 97.62,205.23 98.59,203.39 99.55,201.36 100.51,199.16 101.47,196.79 102.44,194.3 103.4,191.71 104.36,189.07 105.33,186.44 106.29,183.84 107.25,181.34 108.21,178.96 109.17,176.73 110.14,174.69 111.1,172.83 112.06,171.16 113.02,169.69 113.99,168.39 114.95,167.27 115.91,166.3 116.87,165.46 117.84,164.75 118.8,164.15 119.76,163.64 120.73,163.21 121.69,162.85 122.65,162.55 123.61,162.3 124.58,162.09 125.54,161.92 126.5,161.77 127.46,161.65 128.43,161.55 129.39,161.47 130.35,161.4 131.31,161.34 132.28,161.29 133.24,161.25 134.2,161.22 135.16,161.19 136.12,161.17 137.09,161.15 138.05,161.14 139.01,161.12 139.98,161.11 140.94,161.11 141.9,161.1 142.86,161.09 143.82,161.09 144.79,161.08 145.75,161.08 146.71,161.08 147.68,161.08 148.64,161.07 149.6,161.07 150.56,161.07 151.53,161.07 152.49,161.07 153.45,161.07 154.41,161.07 155.38,161.07 156.34,161.07 157.3,161.07 158.26,161.07 159.23,161.07 160.19,161.06 161.15,161.06 162.11,161.06 163.07,161.06 164.04,161.06 165,161.06" fill="none" stroke="#f0a04a" stroke-width="0.9" stroke-linejoin="round" stroke-dasharray="1.2 1.2"/>
<line x1="34.5" y1="216.82" x2="43.5" y2="216.82" stroke="#f0a04a" stroke-width="0.9" stroke-dasharray="1.2 1.2"/>
<polyline points="49.5,219.61 50.46,219.61 51.42,219.61 52.39,219.61 53.35,219.61 54.31,219.61 55.28,219.61 56.24,219.61 57.2,219.61 58.16,219.61 59.12,219.61 60.09,219.61 61.05,219.61 62.01,219.6 62.97,219.6 63.94,219.6 64.9,219.6 65.86,219.59 66.83,219.59 67.79,219.59 68.75,219.58 69.71,219.57 70.68,219.57 71.64,219.56 72.6,219.55 73.56,219.53 74.53,219.51 75.49,219.49 76.45,219.47 77.41,219.44 78.38,219.4 79.34,219.36 80.3,219.31 81.26,219.24 82.22,219.17 83.19,219.08 84.15,218.97 85.11,218.83 86.08,218.67 87.04,218.48 88,218.25 88.96,217.98 89.93,217.65 90.89,217.26 91.85,216.79 92.81,216.24 93.78,215.59 94.74,214.83 95.7,213.94 96.66,212.91 97.62,211.72 98.59,210.37 99.55,208.84 100.51,207.14 101.47,205.26 102.44,203.21 103.4,201.02 104.36,198.71 105.33,196.31 106.29,193.88 107.25,191.44 108.21,189.04 109.17,186.72 110.14,184.53 111.1,182.47 112.06,180.59 113.02,178.87 113.99,177.34 114.95,175.98 115.91,174.78 116.87,173.75 117.84,172.85 118.8,172.08 119.76,171.43 120.73,170.88 121.69,170.41 122.65,170.01 123.61,169.68 124.58,169.4 125.54,169.17 126.5,168.98 127.46,168.82 128.43,168.68 129.39,168.57 130.35,168.48 131.31,168.4 132.28,168.34 133.24,168.29 134.2,168.24 135.16,168.21 136.12,168.18 137.09,168.15 138.05,168.13 139.01,168.12 139.98,168.1 140.94,168.09 141.9,168.08 142.86,168.07 143.82,168.07 144.79,168.06 145.75,168.06 146.71,168.05 147.68,168.05 148.64,168.05 149.6,168.04 150.56,168.04 151.53,168.04 152.49,168.04 153.45,168.04 154.41,168.04 155.38,168.04 156.34,168.04 157.3,168.04 158.26,168.04 159.23,168.04 160.19,168.04 161.15,168.04 162.11,168.03 163.07,168.03 164.04,168.03 165,168.03" fill="none" stroke="#4a56b0" stroke-width="0.9" stroke-linejoin="round" />
<line x1="34.5" y1="219.61" x2="43.5" y2="219.61" stroke="#4a56b0" stroke-width="0.9" />
<polyline points="49.5,218.91 50.46,218.91 51.42,218.91 52.39,218.91 53.35,218.91 54.31,218.91 55.28,218.91 56.24,218.91 57.2,218.91 58.16,218.91 59.12,218.91 60.09,218.91 61.05,218.9 62.01,218.9 62.97,218.9 63.94,218.89 64.9,218.89 65.86,218.89 66.83,218.88 67.79,218.87 68.75,218.86 69.71,218.85 70.68,218.84 71.64,218.83 72.6,218.81 73.56,218.79 74.53,218.76 75.49,218.73 76.45,218.7 77.41,218.65 78.38,218.6 79.34,218.54 80.3,218.46 81.26,218.37 82.22,218.26 83.19,218.14 84.15,217.98 85.11,217.8 86.08,217.58 87.04,217.32 88,217.01 88.96,216.64 89.93,216.21 90.89,215.69 91.85,215.09 92.81,214.38 93.78,213.54 94.74,212.57 95.7,211.45 96.66,210.15 97.62,208.67 98.59,207 99.55,205.11 100.51,203.02 101.47,200.71 102.44,198.21 103.4,195.54 104.36,192.71 105.33,189.78 106.29,186.79 107.25,183.77 108.21,180.79 109.17,177.9 110.14,175.12 111.1,172.5 112.06,170.07 113.02,167.84 113.99,165.82 114.95,164.01 115.91,162.4 116.87,160.99 117.84,159.75 118.8,158.69 119.76,157.76 120.73,156.98 121.69,156.3 122.65,155.73 123.61,155.24 124.58,154.83 125.54,154.49 126.5,154.2 127.46,153.95 128.43,153.75 129.39,153.58 130.35,153.43 131.31,153.31 132.28,153.21 133.24,153.13 134.2,153.05 135.16,153 136.12,152.95 137.09,152.91 138.05,152.87 139.01,152.84 139.98,152.82 140.94,152.8 141.9,152.78 142.86,152.77 143.82,152.76 144.79,152.75 145.75,152.74 146.71,152.73 147.68,152.73 148.64,152.72 149.6,152.72 150.56,152.72 151.53,152.71 152.49,152.71 153.45,152.71 154.41,152.71 155.38,152.71 156.34,152.71 157.3,152.7 158.26,152.7 159.23,152.7 160.19,152.7 161.15,152.7 162.11,152.7 163.07,152.7 164.04,152.7 165,152.7" fill="none" stroke="#333" stroke-width="0.9" stroke-linejoin="round" />
<line x1="34.5" y1="218.91" x2="43.5" y2="218.91" stroke="#333" stroke-width="0.9" />
<polyline points="49.5,216.82 50.46,216.82 51.42,216.82 52.39,216.82 53.35,216.82 54.31,216.82 55.28,216.82 56.24,216.82 57.2,216.82 58.16,216.82 59.12,216.81 60.09,216.81 61.05,216.81 62.01,216.81 62.97,216.8 63.94,216.8 64.9,216.8 65.86,216.79 66.83,216.78 67.79,216.78 68.75,216.77 69.71,216.75 70.68,216.74 71.64,216.72 72.6,216.7 73.56,216.68 74.53,216.65 75.49,216.62 76.45,216.58 77.41,216.53 78.38,216.47 79.34,216.4 80.3,216.32 81.26,216.21 82.22,216.09 83.19,215.95 84.15,215.78 85.11,215.57 86.08,215.33 87.04,215.04 88,214.69 88.96,214.28 89.93,213.8 90.89,213.23 91.85,212.56 92.81,211.77 93.78,210.86 94.74,209.8 95.7,208.57 96.66,207.17 97.62,205.57 98.59,203.78 99.55,201.77 100.51,199.57 101.47,197.17 102.44,194.59 103.4,191.85 104.36,189.01 105.33,186.08 106.29,183.13 107.25,180.21 108.21,177.34 109.17,174.6 110.14,171.99 111.1,169.57 112.06,167.33 113.02,165.3 113.99,163.48 114.95,161.86 115.91,160.43 116.87,159.18 117.84,158.1 118.8,157.17 119.76,156.36 120.73,155.68 121.69,155.1 122.65,154.6 123.61,154.18 124.58,153.83 125.54,153.53 126.5,153.28 127.46,153.07 128.43,152.9 129.39,152.75 130.35,152.63 131.31,152.52 132.28,152.44 133.24,152.37 134.2,152.31 135.16,152.26 136.12,152.21 137.09,152.18 138.05,152.15 139.01,152.13 139.98,152.1 140.94,152.09 141.9,152.07 142.86,152.06 143.82,152.05 144.79,152.04 145.75,152.04 146.71,152.03 147.68,152.03 148.64,152.02 149.6,152.02 150.56,152.02 151.53,152.01 152.49,152.01 153.45,152.01 154.41,152.01 155.38,152.01 156.34,152.01 157.3,152.01 158.26,152.01 159.23,152.01 160.19,152.01 161.15,152 162.11,152 163.07,152 164.04,152 165,152" fill="none" stroke="#111" stroke-width="0.9" stroke-linejoin="round" stroke-dasharray="1 1"/>
<line x1="34.5" y1="216.82" x2="43.5" y2="216.82" stroke="#111" stroke-width="0.9" stroke-dasharray="1 1"/>
<line x1="37.25" y1="215.43" x2="37.25" y2="218.22" stroke="#f0a04a" stroke-width="0.7" />
<line x1="35.95" y1="215.43" x2="38.55" y2="215.43" stroke="#f0a04a" stroke-width="0.7" />
<line x1="37.25" y1="213.34" x2="37.25" y2="215.43" stroke="#222" stroke-width="0.7" />
<line x1="35.95" y1="213.34" x2="38.55" y2="213.34" stroke="#222" stroke-width="0.7" />
<line x1="62.8" y1="214.04" x2="62.8" y2="216.82" stroke="#f0a04a" stroke-width="0.7" />
<line x1="61.5" y1="214.04" x2="64.1" y2="214.04" stroke="#f0a04a" stroke-width="0.7" />
<line x1="62.8" y1="210.55" x2="62.8" y2="216.13" stroke="#222" stroke-width="0.7" />
<line x1="61.5" y1="210.55" x2="64.1" y2="210.55" stroke="#222" stroke-width="0.7" />
<line x1="77.4" y1="213.34" x2="77.4" y2="216.13" stroke="#f0a04a" stroke-width="0.7" />
<line x1="76.1" y1="213.34" x2="78.7" y2="213.34" stroke="#f0a04a" stroke-width="0.7" />
<line x1="77.4" y1="212.64" x2="77.4" y2="215.43" stroke="#222" stroke-width="0.7" />
<line x1="76.1" y1="212.64" x2="78.7" y2="212.64" stroke="#222" stroke-width="0.7" />
<line x1="92" y1="210.55" x2="92" y2="213.34" stroke="#f0a04a" stroke-width="0.7" />
<line x1="90.7" y1="210.55" x2="93.3" y2="210.55" stroke="#f0a04a" stroke-width="0.7" />
<line x1="92" y1="214.73" x2="92" y2="216.82" stroke="#222" stroke-width="0.7" />
<line x1="90.7" y1="214.73" x2="93.3" y2="214.73" stroke="#222" stroke-width="0.7" />
<line x1="106.6" y1="170.82" x2="106.6" y2="180.58" stroke="#f0a04a" stroke-width="0.7" />
<line x1="105.3" y1="170.82" x2="107.9" y2="170.82" stroke="#f0a04a" stroke-width="0.7" />
<line x1="106.6" y1="182.67" x2="106.6" y2="186.16" stroke="#222" stroke-width="0.7" />
<line x1="105.3" y1="182.67" x2="107.9" y2="182.67" stroke="#222" stroke-width="0.7" />
<line x1="121.2" y1="152.7" x2="121.2" y2="158.28" stroke="#f0a04a" stroke-width="0.7" />
<line x1="119.9" y1="152.7" x2="122.5" y2="152.7" stroke="#f0a04a" stroke-width="0.7" />
<line x1="121.2" y1="152.7" x2="121.2" y2="155.49" stroke="#222" stroke-width="0.7" />
<line x1="119.9" y1="152.7" x2="122.5" y2="152.7" stroke="#222" stroke-width="0.7" />
<line x1="135.8" y1="158.97" x2="135.8" y2="161.76" stroke="#f0a04a" stroke-width="0.7" />
<line x1="134.5" y1="158.97" x2="137.1" y2="158.97" stroke="#f0a04a" stroke-width="0.7" />
<line x1="135.8" y1="151.31" x2="135.8" y2="154.79" stroke="#222" stroke-width="0.7" />
<line x1="134.5" y1="151.31" x2="137.1" y2="151.31" stroke="#222" stroke-width="0.7" />
<line x1="150.4" y1="158.28" x2="150.4" y2="161.06" stroke="#f0a04a" stroke-width="0.7" />
<line x1="149.1" y1="158.28" x2="151.7" y2="158.28" stroke="#f0a04a" stroke-width="0.7" />
<line x1="150.4" y1="149.22" x2="150.4" y2="152" stroke="#222" stroke-width="0.7" />
<line x1="149.1" y1="149.22" x2="151.7" y2="149.22" stroke="#222" stroke-width="0.7" />
<line x1="165" y1="157.58" x2="165" y2="160.37" stroke="#f0a04a" stroke-width="0.7" />
<line x1="163.7" y1="157.58" x2="166.3" y2="157.58" stroke="#f0a04a" stroke-width="0.7" />
<line x1="165" y1="147.12" x2="165" y2="151.31" stroke="#222" stroke-width="0.7" />
<line x1="163.7" y1="147.12" x2="166.3" y2="147.12" stroke="#222" stroke-width="0.7" />
<rect x="35.95" y="219.01" width="2.6" height="2.6" fill="#fff" stroke="#4a56b0" stroke-width="0.9"/>
<rect x="61.5" y="219.01" width="2.6" height="2.6" fill="#fff" stroke="#4a56b0" stroke-width="0.9"/>
<rect x="76.1" y="218.31" width="2.6" height="2.6" fill="#fff" stroke="#4a56b0" stroke-width="0.9"/>
<rect x="90.7" y="215.52" width="2.6" height="2.6" fill="#fff" stroke="#4a56b0" stroke-width="0.9"/>
<rect x="105.3" y="188.34" width="2.6" height="2.6" fill="#fff" stroke="#4a56b0" stroke-width="0.9"/>
<rect x="119.9" y="168.82" width="2.6" height="2.6" fill="#fff" stroke="#4a56b0" stroke-width="0.9"/>
<rect x="134.5" y="167.43" width="2.6" height="2.6" fill="#fff" stroke="#4a56b0" stroke-width="0.9"/>
<rect x="149.1" y="167.43" width="2.6" height="2.6" fill="#fff" stroke="#4a56b0" stroke-width="0.9"/>
<rect x="163.7" y="161.85" width="2.6" height="2.6" fill="#fff" stroke="#4a56b0" stroke-width="0.9"/>
<rect x="35.85" y="216.82" width="2.8" height="2.8" fill="#f08a2a" stroke="#f08a2a" stroke-width="0.4"/>
<rect x="61.4" y="215.42" width="2.8" height="2.8" fill="#f08a2a" stroke="#f08a2a" stroke-width="0.4"/>
<rect x="76" y="214.73" width="2.8" height="2.8" fill="#f08a2a" stroke="#f08a2a" stroke-width="0.4"/>
<rect x="90.6" y="211.94" width="2.8" height="2.8" fill="#f08a2a" stroke="#f08a2a" stroke-width="0.4"/>
<rect x="105.2" y="179.18" width="2.8" height="2.8" fill="#f08a2a" stroke="#f08a2a" stroke-width="0.4"/>
<rect x="119.8" y="156.88" width="2.8" height="2.8" fill="#f08a2a" stroke="#f08a2a" stroke-width="0.4"/>
<rect x="134.4" y="160.36" width="2.8" height="2.8" fill="#f08a2a" stroke="#f08a2a" stroke-width="0.4"/>
<rect x="149" y="159.66" width="2.8" height="2.8" fill="#f08a2a" stroke="#f08a2a" stroke-width="0.4"/>
<rect x="163.6" y="158.97" width="2.8" height="2.8" fill="#f08a2a" stroke="#f08a2a" stroke-width="0.4"/>
<circle cx="37.25" cy="218.91" r="1.5" fill="#fff" stroke="#333" stroke-width="0.9"/>
<circle cx="62.8" cy="219.61" r="1.5" fill="#fff" stroke="#333" stroke-width="0.9"/>
<circle cx="77.4" cy="218.22" r="1.5" fill="#fff" stroke="#333" stroke-width="0.9"/>
<circle cx="92" cy="216.82" r="1.5" fill="#fff" stroke="#333" stroke-width="0.9"/>
<circle cx="106.6" cy="187.55" r="1.5" fill="#fff" stroke="#333" stroke-width="0.9"/>
<circle cx="121.2" cy="159.32" r="1.5" fill="#fff" stroke="#333" stroke-width="0.9"/>
<circle cx="135.8" cy="152" r="1.5" fill="#fff" stroke="#333" stroke-width="0.9"/>
<circle cx="150.4" cy="154.79" r="1.5" fill="#fff" stroke="#333" stroke-width="0.9"/>
<circle cx="165" cy="154.09" r="1.5" fill="#fff" stroke="#333" stroke-width="0.9"/>
<circle cx="37.25" cy="215.43" r="1.7" fill="#111" stroke="#111" stroke-width="0.4"/>
<circle cx="62.8" cy="216.13" r="1.7" fill="#111" stroke="#111" stroke-width="0.4"/>
<circle cx="77.4" cy="215.43" r="1.7" fill="#111" stroke="#111" stroke-width="0.4"/>
<circle cx="92" cy="216.82" r="1.7" fill="#111" stroke="#111" stroke-width="0.4"/>
<circle cx="106.6" cy="186.16" r="1.7" fill="#111" stroke="#111" stroke-width="0.4"/>
<circle cx="121.2" cy="155.49" r="1.7" fill="#111" stroke="#111" stroke-width="0.4"/>
<circle cx="135.8" cy="154.79" r="1.7" fill="#111" stroke="#111" stroke-width="0.4"/>
<circle cx="150.4" cy="152" r="1.7" fill="#111" stroke="#111" stroke-width="0.4"/>
<circle cx="165" cy="151.31" r="1.7" fill="#111" stroke="#111" stroke-width="0.4"/>
<line x1="11.4" y1="280.5" x2="30.3" y2="280.5" stroke="#444" stroke-width="0.9" />
<circle cx="20.9" cy="280.5" r="1.5" fill="#fff" stroke="#333" stroke-width="0.9"/>
<line x1="11.4" y1="291.9" x2="30.3" y2="291.9" stroke="#888" stroke-width="0.9" stroke-dasharray="1 1"/>
<circle cx="20.9" cy="291.9" r="1.7" fill="#111" stroke="#111" stroke-width="0.4"/>
<line x1="11.4" y1="303.4" x2="30.3" y2="303.4" stroke="#4a56b0" stroke-width="0.9" />
<rect x="19.6" y="302.1" width="2.6" height="2.6" fill="#fff" stroke="#4a56b0" stroke-width="0.9"/>
<line x1="11.4" y1="314.8" x2="30.3" y2="314.8" stroke="#f0a04a" stroke-width="0.9" stroke-dasharray="1 1"/>
<rect x="19.5" y="313.4" width="2.8" height="2.8" fill="#f08a2a" stroke="#f08a2a" stroke-width="0.4"/>
<text x="35.7" y="282.9" font-size="7.0" font-weight="normal" text-anchor="start" fill="#222"  stroke="#222" stroke-width="0.22">B7-H6/CD3 ITE</text>
<text x="35.7" y="294.3" font-size="7.0" font-weight="normal" text-anchor="start" fill="#222"  stroke="#222" stroke-width="0.22">B7-H6/CD3 ITE + anti-PD-1</text>
<text x="35.7" y="305.8" font-size="7.0" font-weight="normal" text-anchor="start" fill="#222"  stroke="#222" stroke-width="0.22">B7-H6/CD3 ITE</text>
<text x="35.7" y="317.2" font-size="7.0" font-weight="normal" text-anchor="start" fill="#222"  stroke="#222" stroke-width="0.22">B7-H6/CD3 ITE + anti-PD-1</text>
<polyline points="125.4,275.8 128.5,275.8 128.5,319.7 125.4,319.7" fill="none" stroke="#111" stroke-width="1.4" stroke-linejoin="round" stroke-linejoin="miter"/>
<line x1="125.4" y1="298.6" x2="128.5" y2="298.6" stroke="#111" stroke-width="1.4" />
<text x="132.5" y="288.8" font-size="7.0" font-weight="normal" text-anchor="start" fill="#222"  stroke="#222" stroke-width="0.22">HCT-15</text>
<text x="132.5" y="311.3" font-size="7.0" font-weight="normal" text-anchor="start" fill="#222"  stroke="#222" stroke-width="0.22">HCT-15-PD-L1</text>
<defs><filter id="cblur" x="-2%" y="-2%" width="104%" height="104%"><feGaussianBlur in="SourceGraphic" stdDeviation="0.8" result="b"/><feComposite in="SourceGraphic" in2="b" operator="arithmetic" k1="0" k2="0.5" k3="0.5" k4="0"/></filter></defs>
<clipPath id="cclip"><path d="M243,139 H343.8 V156 H418 V258 H243 Z"/></clipPath>
<g clip-path="url(#cclip)"><g filter="url(#cblur)">
<rect x="240.0" y="136.0" width="181.0" height="125.0" fill="#d0a48c"/>
<polygon points="391,141 392,144 389,146 388,146 388,141" fill="#d6b8ac"/>
<polygon points="364,171 367,170 366,162 364,163 363,165 363,168" fill="#aab0d4"/>
<polygon points="353,180 348,180 347,181 348,190 354,183 354,181" fill="#d6b8ac"/>
<polygon points="392,165 391,165 392,158 395,158 396,161 396,162" fill="#aab0d4"/>
<polygon points="395,147 397,149 399,148 400,146 402,142 397,138 397,139 395,144" fill="#e8dad6"/>
<polygon points="381,190 383,189 383,190 382,194 381,195 380,194" fill="#d6b8ac"/>
<polygon points="378,191 381,190 380,194 379,194 378,192" fill="#c88c74"/>
<polygon points="389,184 390,188 390,191 387,194 386,192 388,183 388,183" fill="#e8dad6"/>
<polygon points="356,192 354,191 356,185 358,186" fill="#aab0d4"/>
<polygon points="388,183 381,182 382,178 386,177 387,178" fill="#d6b8ac"/>
<polygon points="362,183 359,186 358,186 356,185 354,183 354,181 356,177 360,178" fill="#c0c0dc"/>
<polygon points="360,172 361,176 360,178 356,177 357,174" fill="#d8aa92"/>
<polygon points="370,186 375,181 372,175 372,176 370,180 370,186 370,186" fill="#d6b8ac"/>
<polygon points="373,154 374,164 377,164 379,160 378,160 373,154 373,154" fill="#c0c0dc"/>
<polygon points="389,152 391,156 391,158 389,159 388,158 389,152" fill="#d6b8ac"/>
<polygon points="357,165 357,165 354,166 354,161 354,158 357,158 359,159" fill="#aab0d4"/>
<polygon points="392,165 391,165 391,165 388,166 390,173 393,171" fill="#aab0d4"/>
<polygon points="363,193 368,190 364,186 363,192" fill="#c0c0dc"/>
<polygon points="392,158 391,158 389,159 387,163 387,165 388,166 391,165" fill="#aab0d4"/>
<polygon points="360,170 359,168 358,168 356,172 357,174 360,172 360,171" fill="#c88c74"/>
<polygon points="357,165 359,159 361,159 363,162 359,165" fill="#e8dad6"/>
<polygon points="384,168 384,167 381,161 379,169" fill="#aab0d4"/>
<polygon points="373,165 370,166 369,170 370,174 372,176 372,175 374,173" fill="#aab0d4"/>
<polygon points="391,136 391,136 392,134 398,136 397,138 397,139 391,137" fill="#aab0d4"/>
<polygon points="367,182 365,178 362,183 364,185 365,185" fill="#cc9478"/>
<polygon points="374,188 374,193 375,194 377,188 377,187 376,186" fill="#d6b8ac"/>
<polygon points="392,158 391,165 391,165 392,158" fill="#d6b8ac"/>
<polygon points="377,164 377,170 377,171 374,173 373,165 374,164" fill="#d6cad8"/>
<polygon points="386,152 389,148 390,150 389,152 389,152 386,152" fill="#d6cad8"/>
<polygon points="356,172 353,171 353,167 354,166 357,165 358,168" fill="#d6cad8"/>
<polygon points="379,173 377,171 377,170 379,169 384,168 382,172" fill="#c28468"/>
<polygon points="369,186 370,186 370,186 368,184 365,185" fill="#d8aa92"/>
<polygon points="368,181 370,180 372,176 370,174 365,177 365,178 367,182" fill="#d6b8ac"/>
<polygon points="352,192 354,191 356,185 354,183 348,190 348,191 351,192" fill="#e8dad6"/>
<polygon points="382,153 381,152 384,146 385,147 385,149 382,153" fill="#d6b8ac"/>
<polygon points="385,149 386,152 389,148 389,146 388,146 385,147" fill="#e8dad6"/>
<polygon points="348,176 348,180 347,181 344,182 342,181 347,176 347,176 348,176" fill="#c0c0dc"/>
<polygon points="347,181 348,190 348,191 347,192 345,191 344,182" fill="#e8dad6"/>
<polygon points="359,168 361,166 359,165 357,165 357,165 358,168" fill="#cc9478"/>
<polygon points="348,173 347,176 348,176 352,172 349,171" fill="#c28468"/>
<polygon points="378,191 377,188 377,187 381,185 383,187 383,189 381,190" fill="#d6cad8"/>
<polygon points="389,148 389,146 392,144 395,144 395,147 393,150 390,150" fill="#c28468"/>
<polygon points="368,188 368,190 369,193 371,191 372,189 370,186 370,186 369,186" fill="#d6b8ac"/>
<polygon points="371,191 372,193 374,193 374,188 372,189" fill="#d6b8ac"/>
<polygon points="352,172 352,175 348,176 348,176 352,172" fill="#aab0d4"/>
<polygon points="381,178 376,181 375,181 372,175 374,173 377,171 379,173" fill="#e8dad6"/>
<polygon points="391,136 387,138 387,140 388,141 391,141 391,137" fill="#d6cad8"/>
<polygon points="370,186 375,181 376,181 376,186 374,188 372,189" fill="#e8dad6"/>
<polygon points="365,185 365,185 367,182 368,181 368,184 365,185" fill="#cc9478"/>
<polygon points="347,176 342,181 342,181 339,176 343,172" fill="#c0c0dc"/>
<polygon points="388,183 388,183 388,183 383,187 381,185 381,182" fill="#e8dad6"/>
<polygon points="381,152 379,148 380,147 380,146 382,145 383,145 384,146" fill="#c88c74"/>
<polygon points="387,178 389,174 390,173 388,166 387,165 385,167 386,177" fill="#d6b8ac"/>
<polygon points="373,154 371,156 369,160 370,166 373,165 374,164 373,154" fill="#c0c0dc"/>
<polygon points="404,133 403,132 400,131 398,136 397,138 402,142 404,141" fill="#e8dad6"/>
<polygon points="381,178 379,173 382,172 381,177" fill="#aab0d4"/>
<polygon points="388,183 388,183 389,184 393,181 392,177 389,174 387,178" fill="#c0c0dc"/>
<polygon points="391,137 397,139 395,144 392,144 391,141" fill="#aab0d4"/>
<polygon points="357,195 356,192 358,186 359,186 360,192" fill="#c0c0dc"/>
<polygon points="381,177 382,178 386,177 385,167 384,167 384,168 382,172" fill="#aab0d4"/>
<polygon points="379,160 381,160 381,161 379,169 377,170 377,164" fill="#e8dad6"/>
<polygon points="348,173 347,176 347,176 343,172 344,170 344,169" fill="#c0c0dc"/>
<polygon points="363,162 364,163 366,162 369,160 371,156 364,151 361,159" fill="#aab0d4"/>
<polygon points="349,171 352,172 352,172 353,171 353,167 349,165" fill="#aab0d4"/>
<polygon points="348,176 348,180 353,180 352,175" fill="#c0c0dc"/>
<polygon points="368,188 368,190 368,190 364,186 364,185 365,185 365,185" fill="#c0c0dc"/>
<polygon points="373,154 373,154 375,153 379,148 380,147 377,144 376,144" fill="#c0c0dc"/>
<polygon points="364,194 363,193 368,190 368,190 369,193 369,195 367,198 365,198" fill="#d6b8ac"/>
<polygon points="348,164 348,165 349,165 349,171 348,173 344,169 348,164" fill="#d6b8ac"/>
<polygon points="392,158 395,158 397,153 397,149 395,147 393,150 391,156 391,158 392,158" fill="#e8dad6"/>
<polygon points="381,178 376,181 376,186 377,187 381,185 381,182 382,178 381,177" fill="#d6cad8"/>
<polygon points="360,170 363,168 363,165 361,166 359,168" fill="#d6b8ac"/>
<polygon points="366,162 369,160 370,166 369,170 367,170" fill="#aab0d4"/>
<polygon points="378,192 375,194 375,196 377,198 379,194" fill="#d6cad8"/>
<polygon points="368,181 370,180 370,186 368,184" fill="#aab0d4"/>
<polygon points="364,171 367,170 369,170 370,174 365,177 363,175 364,172" fill="#d6cad8"/>
<polygon points="394,172 393,171 390,173 389,174 392,177 393,175 394,172" fill="#c0c0dc"/>
<polygon points="383,190 386,192 388,183 383,187 383,189" fill="#cc9478"/>
<polygon points="359,165 361,166 363,165 364,163 363,162" fill="#d6cad8"/>
<polygon points="380,194 381,195 380,199 377,198 377,198 379,194" fill="#c0c0dc"/>
<polygon points="384,146 383,145 387,140 388,141 388,146 385,147" fill="#aab0d4"/>
<polygon points="378,191 377,188 375,194 375,194 378,192" fill="#aab0d4"/>
<polygon points="357,174 356,177 354,181 353,180 352,175 352,172 353,171 356,172" fill="#e8dad6"/>
<polygon points="360,170 363,168 364,171 364,172 360,171" fill="#e8dad6"/>
<polygon points="389,152 391,156 393,150 390,150" fill="#d6cad8"/>
<polygon points="383,190 386,192 387,194 386,197 382,194" fill="#aab0d4"/>
<polygon points="363,192 364,186 364,185 362,183 362,183 359,186 360,192" fill="#d6cad8"/>
<polygon points="369,193 369,195 371,195 372,193 371,191" fill="#aab0d4"/>
<polygon points="383,157 381,160 381,161 384,167 385,167 387,165 387,163" fill="#c0c0dc"/>
<polygon points="389,159 387,163 383,157 383,156 385,155 388,158" fill="#d6b8ac"/>
<polygon points="360,171 364,172 363,175 361,176 360,172" fill="#d6b8ac"/>
<polygon points="368,188 365,185 365,185 369,186" fill="#aab0d4"/>
<polygon points="386,152 385,155 388,158 389,152" fill="#d6cad8"/>
<polygon points="396,169 396,162 392,165 393,171 394,172" fill="#d6cad8"/>
<polygon points="382,153 381,154 375,153 379,148 381,152" fill="#c88c74"/>
<polygon points="362,183 365,178 365,177 363,175 361,176 360,178 362,183" fill="#aab0d4"/>
<polygon points="371,195 373,197 374,196 375,196 375,194 375,194 374,193 372,193" fill="#d6b8ac"/>
<polygon points="382,153 381,154 378,160 379,160 381,160 383,157 383,156 382,153" fill="#aab0d4"/>
<polygon points="382,153 383,156 385,155 386,152 386,152 385,149" fill="#d6b8ac"/>
<polygon points="375,153 373,154 378,160 381,154" fill="#e8dad6"/>
<polygon points="371,195 373,197 369,201 369,201 369,200 367,198 369,195" fill="#aab0d4"/>
<polygon points="382,194 386,197 386,199 381,200 380,200 380,199 381,195" fill="#aab0d4"/>
<polygon points="396,256 393,262 392,264 391,264 391,264 391,254 396,255" fill="#d6cad8"/>
<polygon points="372,238 372,241 372,241 378,243 379,237 375,234 373,235 373,237" fill="#c28468"/>
<polygon points="396,255 397,252 397,250 389,248 388,252 388,252 391,254" fill="#aab0d4"/>
<polygon points="370,260 367,265 363,261 364,260 368,258" fill="#aab0d4"/>
<polygon points="384,218 385,219 386,219 387,217 384,209 384,209 382,210 382,213" fill="#d6b8ac"/>
<polygon points="384,218 382,213 381,218" fill="#c0c0dc"/>
<polygon points="381,200 380,200 378,207 379,208 381,210 382,210 384,209" fill="#e8dad6"/>
<polygon points="386,269 387,264 387,262 391,264 391,264 390,268" fill="#aab0d4"/>
<polygon points="389,248 389,248 384,245 383,250 383,251 388,252" fill="#e8dad6"/>
<polygon points="382,229 379,226 378,226 378,226 375,234 379,237 382,236" fill="#aab0d4"/>
<polygon points="383,250 380,245 379,245 377,250 377,251 380,253 383,251" fill="#e8dad6"/>
<polygon points="363,261 367,265 367,266 361,277 361,262 362,261" fill="#e8dad6"/>
<polygon points="385,259 381,255 379,258 379,259 381,261" fill="#c0c0dc"/>
<polygon points="391,254 388,252 386,260 386,261 387,262 391,264" fill="#d6b8ac"/>
<polygon points="371,259 373,259 373,258 373,251 370,252 369,254" fill="#aab0d4"/>
<polygon points="374,225 373,226 372,227 373,234 373,235 375,234 378,226 375,224" fill="#d6cad8"/>
<polygon points="379,245 377,250 373,250 372,246 372,241 378,243" fill="#c88c74"/>
<polygon points="379,259 377,264 374,266 374,264 378,258 379,258" fill="#c0c0dc"/>
<polygon points="368,258 364,260 365,255 368,255" fill="#aab0d4"/>
<polygon points="372,241 372,241 372,246 366,247 364,245 366,242" fill="#d6b8ac"/>
<polygon points="384,218 385,219 379,224 380,218 381,218" fill="#aab0d4"/>
<polygon points="381,218 380,218 379,217 381,210 382,210 382,213" fill="#d6b8ac"/>
<polygon points="386,260 388,252 388,252 383,251 380,253 381,255 385,259" fill="#e8dad6"/>
<polygon points="372,227 373,234 369,229" fill="#c0c0dc"/>
<polygon points="371,259 373,259 374,264 374,266 374,268 367,266 367,266 367,265 370,260" fill="#aab0d4"/>
<polygon points="374,222 376,216 379,217 380,218 379,224 378,226 378,226 375,224" fill="#e8dad6"/>
<polygon points="386,228 382,229 382,236 384,238 387,236 388,231" fill="#aab0d4"/>
<polygon points="383,250 380,245 383,242 384,245" fill="#d6cad8"/>
<polygon points="377,198 377,198 375,205 376,206 378,207 380,200 380,199" fill="#aab0d4"/>
<polygon points="387,222 386,221 379,226 382,229 386,228" fill="#c0c0dc"/>
<polygon points="386,260 386,261 382,266 381,266 380,265 381,261 385,259" fill="#c0c0dc"/>
<polygon points="368,255 365,255 365,254 367,250 370,252 369,254" fill="#aab0d4"/>
<polygon points="379,258 378,258 376,257 377,251 380,253 381,255" fill="#d6cad8"/>
<polygon points="388,201 386,199 381,200 384,209 384,209 387,206" fill="#d8aa92"/>
<polygon points="376,214 379,208 381,210 379,217 376,216 376,215 376,214" fill="#c0c0dc"/>
<polygon points="378,258 374,264 373,259 373,258 376,257" fill="#d6b8ac"/>
<polygon points="379,224 378,226 379,226 386,221 386,219 385,219" fill="#d8aa92"/>
<polygon points="376,257 377,251 377,250 373,250 373,251 373,258" fill="#aab0d4"/>
<polygon points="387,264 387,262 386,261 382,266 383,269" fill="#c28468"/>
<polygon points="384,238 384,240 389,246 390,244 390,239 387,236" fill="#e8dad6"/>
<polygon points="380,265 377,264 379,259 381,261" fill="#aab0d4"/>
<polygon points="384,238 384,240 383,242 380,245 379,245 378,243 379,237 382,236" fill="#cc9478"/>
<polygon points="367,250 366,247 372,246 373,250 373,251 370,252" fill="#e8dad6"/>
<polygon points="371,259 369,254 368,255 368,258 370,260" fill="#d6cad8"/>
<polygon points="384,245 383,242 384,240 389,246 389,248" fill="#aab0d4"/>
<polygon points="329,136 326,140 328,141 333,140 333,138" fill="#aab0d4"/>
<polygon points="299,159 304,156 300,155 298,156 297,159" fill="#c28468"/>
<polygon points="303,162 303,162 302,161 299,159 297,159 295,160 294,164 297,165" fill="#e8dad6"/>
<polygon points="298,156 295,153 295,152 297,149 299,148 300,149 301,151 300,155" fill="#aab0d4"/>
<polygon points="288,149 292,148 297,149 295,152 288,153 288,153 287,149" fill="#e8dad6"/>
<polygon points="292,145 294,144 295,141 292,145" fill="#c0c0dc"/>
<polygon points="316,137 315,137 310,142 313,145 318,144 320,138" fill="#d6b8ac"/>
<polygon points="299,138 302,139 303,139 302,134 301,135" fill="#d6cad8"/>
<polygon points="299,159 302,161 304,156 304,156" fill="#d6cad8"/>
<polygon points="311,160 312,160 316,157 311,156 311,159" fill="#d6b8ac"/>
<polygon points="279,142 280,144 284,143 284,140 280,140" fill="#aab0d4"/>
<polygon points="293,139 295,140 296,140 299,138 301,135 294,135" fill="#c0c0dc"/>
<polygon points="301,151 306,153 307,151 300,149" fill="#d6cad8"/>
<polygon points="324,152 325,150 324,147 322,147 318,151 319,155" fill="#c0c0dc"/>
<polygon points="324,133 316,136 318,132 322,130" fill="#e8dad6"/>
<polygon points="313,145 310,142 309,143 307,144 307,151 309,151 313,146" fill="#aab0d4"/>
<polygon points="280,130 283,132 278,137 277,137 273,133 279,130" fill="#aab0d4"/>
<polygon points="303,139 306,138 309,143 307,144 300,147 300,145 302,139" fill="#c28468"/>
<polygon points="292,145 292,147 294,145 294,144" fill="#d6b8ac"/>
<polygon points="304,156 306,153 307,151 307,151 309,151 312,153 311,156 310,156 307,157" fill="#aab0d4"/>
<polygon points="305,164 307,160 307,158 303,162 303,162" fill="#aab0d4"/>
<polygon points="305,164 306,165 308,164 309,164 308,160 308,160 307,160 305,164" fill="#d6b8ac"/>
<polygon points="287,149 288,153 284,156 281,155 283,150" fill="#aab0d4"/>
<polygon points="288,139 289,136 293,134 294,135 294,135 293,139 291,140" fill="#c0c0dc"/>
<polygon points="300,149 299,148 300,147 307,144 307,151 307,151" fill="#e8dad6"/>
<polygon points="294,144 294,145 299,145 296,140 295,140 295,141" fill="#d6b8ac"/>
<polygon points="324,133 325,134 322,138 320,138 316,137 316,136" fill="#aab0d4"/>
<polygon points="284,143 286,144 282,147 280,145 280,144" fill="#d6b8ac"/>
<polygon points="290,132 287,130 286,129 283,132 286,135" fill="#d6b8ac"/>
<polygon points="293,134 292,132 293,131 298,130 300,131 300,131 294,135" fill="#d6b8ac"/>
<polygon points="314,168 313,165 319,160 319,169 315,169" fill="#d6cad8"/>
<polygon points="320,138 318,144 321,145 324,140 322,138" fill="#aab0d4"/>
<polygon points="322,169 322,160 326,159 330,158 329,163 328,165" fill="#c0c0dc"/>
<polygon points="309,164 308,164 308,170 309,170 314,168 313,165 310,164" fill="#e8dad6"/>
<polygon points="285,136 279,137 278,137 283,132 283,132 286,135" fill="#d6cad8"/>
<polygon points="304,156 304,156 304,156 306,153 301,151 300,155" fill="#e8dad6"/>
<polygon points="313,145 318,144 321,145 321,146 314,147 313,146" fill="#aab0d4"/>
<polygon points="303,139 306,138 306,137 305,132 303,132 302,134" fill="#aab0d4"/>
<polygon points="297,159 295,160 293,157 295,153 298,156" fill="#d6b8ac"/>
<polygon points="319,160 320,160 320,160 322,160 322,169 322,170 319,169" fill="#d6b8ac"/>
<polygon points="299,138 302,139 300,145 299,145 296,140" fill="#d6cad8"/>
<polygon points="333,147 335,145 336,142 333,140 328,141 328,143" fill="#c28468"/>
<polygon points="314,147 315,151 318,151 322,147 321,146" fill="#d6cad8"/>
<polygon points="280,140 279,137 285,136 285,137 285,138 284,140" fill="#d6cad8"/>
<polygon points="307,157 310,156 308,160 307,160 307,158" fill="#c0c0dc"/>
<polygon points="310,131 311,134 306,137 305,132 307,130" fill="#d6b8ac"/>
<polygon points="321,145 324,140 326,140 328,141 328,143 324,147 322,147 321,146" fill="#d6b8ac"/>
<polygon points="291,140 288,144 292,145 295,141 295,140 293,139" fill="#aab0d4"/>
<polygon points="309,164 308,160 311,159 311,160 310,164" fill="#cc9478"/>
<polygon points="304,156 302,161 303,162 307,158 307,157 304,156" fill="#c88c74"/>
<polygon points="313,146 309,151 312,153 315,151 314,147" fill="#aab0d4"/>
<polygon points="292,145 292,147 292,148 288,149 287,144 288,144 292,145" fill="#e8dad6"/>
<polygon points="311,159 311,156 311,156 310,156 308,160 308,160" fill="#c0c0dc"/>
<polygon points="292,147 294,145 299,145 300,145 300,147 299,148 297,149 292,148" fill="#aab0d4"/>
<polygon points="281,149 283,150 287,149 288,149 287,144 286,144 282,147" fill="#aab0d4"/>
<polygon points="294,135 300,131 303,132 302,134 301,135 294,135" fill="#c0c0dc"/>
<polygon points="329,170 328,165 322,169 322,170 322,172 325,173" fill="#d6cad8"/>
<polygon points="325,150 330,150 333,147 328,143 324,147" fill="#d6b8ac"/>
<polygon points="322,160 320,160 319,157 319,155 324,152 326,159" fill="#e8dad6"/>
<polygon points="315,137 311,134 306,137 306,138 309,143 310,142" fill="#aab0d4"/>
<polygon points="288,139 285,138 285,137 289,136" fill="#aab0d4"/>
<polygon points="310,164 313,165 319,160 320,160 312,160 311,160" fill="#d6b8ac"/>
<polygon points="325,134 328,132 329,134 329,136 326,140 324,140 322,138" fill="#d6cad8"/>
<polygon points="312,160 320,160 320,160 319,157 316,157" fill="#d6b8ac"/>
<polygon points="290,158 288,153 295,152 295,153 293,157" fill="#d6b8ac"/>
<polygon points="311,156 311,156 312,153 315,151 318,151 319,155 319,157 316,157" fill="#aab0d4"/>
<polygon points="288,139 285,138 284,140 284,143 286,144 287,144 288,144 291,140" fill="#aab0d4"/>
<polygon points="326,159 330,158 330,158 330,150 325,150 324,152" fill="#aab0d4"/>
<polygon points="316,136 316,137 315,137 311,134 310,131 312,130 316,130 318,132" fill="#cc9478"/>
<polygon points="293,134 292,132 290,132 286,135 285,136 285,137 289,136" fill="#aab0d4"/>
<polygon points="261,159 258,162 251,162 255,159 260,158" fill="#c0c0dc"/>
<polygon points="270,177 269,177 269,174 273,174 272,177" fill="#d6b8ac"/>
<polygon points="262,178 261,175 263,174 269,173 269,174 269,177 265,178 264,178" fill="#d6cad8"/>
<polygon points="272,159 277,159 278,161 272,164 271,159" fill="#d8aa92"/>
<polygon points="258,164 262,165 261,166 254,166" fill="#c0c0dc"/>
<polygon points="253,167 261,167 261,168 259,168" fill="#d6cad8"/>
<polygon points="253,172 261,170 261,175 255,174 253,172" fill="#c0c0dc"/>
<polygon points="261,168 262,169 265,169 271,165 271,165 268,164 262,165 261,166 261,167" fill="#d6cad8"/>
<polygon points="272,155 270,155 270,156 272,158 278,156 278,155 275,154" fill="#e8dad6"/>
<polygon points="266,170 270,171 269,173 263,174" fill="#d6b8ac"/>
<polygon points="261,175 261,170 262,169 265,169 266,170 263,174 261,175" fill="#d6cad8"/>
<polygon points="253,167 259,168 253,172 253,172 250,171 249,168 250,167" fill="#aab0d4"/>
<polygon points="259,168 261,168 262,169 261,170 253,172" fill="#e8dad6"/>
<polygon points="259,163 267,162 268,164 262,165 258,164" fill="#e8dad6"/>
<polygon points="266,159 267,159 267,162 259,163 258,162 261,159" fill="#c0c0dc"/>
<polygon points="271,159 272,164 271,165 268,164 267,162 267,159" fill="#aab0d4"/>
<polygon points="276,172 271,171 270,171 269,173 269,174 273,174 275,173" fill="#c0c0dc"/>
<polygon points="250,167 254,166 258,164 259,163 258,162 251,162 248,162 247,163 246,166 247,167 249,168" fill="#c0c0dc"/>
<polygon points="275,167 271,171 270,171 266,170 265,169 271,165 275,167" fill="#c0c0dc"/>
<polygon points="272,159 277,159 278,156 272,158" fill="#aab0d4"/>
<polygon points="253,167 261,167 261,166 254,166 250,167" fill="#aab0d4"/>
<polygon points="270,156 272,158 272,159 271,159 267,159 266,159" fill="#c0c0dc"/>
<polygon points="417,136 420,138 419,139 416,138 416,137" fill="#d6b8ac"/>
<polygon points="421,135 425,134 426,133 422,128 417,129 420,134" fill="#c0c0dc"/>
<polygon points="403,198 408,199 407,196 404,196 403,197" fill="#d6cad8"/>
<polygon points="408,150 413,145 411,143 408,143 407,144 408,150" fill="#c0c0dc"/>
<polygon points="412,167 411,160 413,160 414,161 413,168 413,168" fill="#d6b8ac"/>
<polygon points="410,188 410,187 410,185 414,184 417,189 417,190 416,191 413,192" fill="#c0c0dc"/>
<polygon points="410,159 411,160 412,167 408,163 408,161" fill="#c0c0dc"/>
<polygon points="400,192 403,193 404,196 403,197 401,195" fill="#d6b8ac"/>
<polygon points="421,148 420,144 418,143 416,144 414,147 415,150 420,149" fill="#aab0d4"/>
<polygon points="404,184 407,188 407,190 406,190 403,185" fill="#d6cad8"/>
<polygon points="389,186 390,191 391,192 394,192 393,188" fill="#e8dad6"/>
<polygon points="409,191 406,193 407,196 411,195" fill="#c28468"/>
<polygon points="409,157 405,156 403,156 403,158 408,161 410,159" fill="#c28468"/>
<polygon points="406,169 401,170 400,170 400,161 402,161 405,166" fill="#d6b8ac"/>
<polygon points="424,151 424,151 429,158 424,154" fill="#c0c0dc"/>
<polygon points="414,135 415,134 416,128 416,128 413,135" fill="#d8aa92"/>
<polygon points="410,177 413,180 414,183 414,184 410,185 405,181 404,179 408,176" fill="#e8dad6"/>
<polygon points="416,138 416,140 418,143 420,144 420,143 419,139" fill="#d6cad8"/>
<polygon points="416,137 414,135 413,135 411,135 413,139 416,140 416,138" fill="#c0c0dc"/>
<polygon points="403,156 402,155 403,153 404,150 406,150 408,150 408,150 408,151 405,156" fill="#d6b8ac"/>
<polygon points="425,200 421,199 423,195 425,195 427,197 428,199 428,199" fill="#c28468"/>
<polygon points="421,174 424,178 429,177 427,172 424,169" fill="#c0c0dc"/>
<polygon points="416,204 418,203 421,209 419,209 416,207" fill="#e8dad6"/>
<polygon points="406,169 408,176 404,179 402,177 401,170 406,169" fill="#d6b8ac"/>
<polygon points="409,139 408,143 411,143 412,141" fill="#e8dad6"/>
<polygon points="430,188 426,190 422,188 422,188 422,183 424,182 425,182 430,188" fill="#c0c0dc"/>
<polygon points="422,183 422,188 418,184 420,182" fill="#aab0d4"/>
<polygon points="416,140 418,143 416,144 412,140 413,139" fill="#aab0d4"/>
<polygon points="394,182 393,178 393,175 397,181 397,182 395,182" fill="#aab0d4"/>
<polygon points="407,190 409,191 410,188 410,187 407,188" fill="#aab0d4"/>
<polygon points="409,191 409,191 410,188 413,192 412,195 411,195" fill="#c0c0dc"/>
<polygon points="413,139 412,140 412,141 409,139 407,137 407,134 410,134 411,135" fill="#c0c0dc"/>
<polygon points="414,184 414,183 418,184 422,188 422,188 422,188 418,189 417,189" fill="#c0c0dc"/>
<polygon points="396,194 394,192 391,192 392,196" fill="#e8dad6"/>
<polygon points="396,159 400,161 400,170 398,169 395,164 395,159" fill="#d8aa92"/>
<polygon points="423,155 427,161 422,163 421,161 420,158 421,156" fill="#e8dad6"/>
<polygon points="406,169 408,176 410,177 410,170" fill="#c0c0dc"/>
<polygon points="403,198 403,199 406,203 408,200 408,199" fill="#d6cad8"/>
<polygon points="417,190 422,195 422,192 418,189 417,189" fill="#e8dad6"/>
<polygon points="398,191 396,188 393,188 394,192 396,194 397,195" fill="#aab0d4"/>
<polygon points="409,157 409,151 414,153 413,160 411,160 410,159" fill="#c0c0dc"/>
<polygon points="421,135 424,142 425,142 427,141 425,134 421,135" fill="#aab0d4"/>
<polygon points="417,162 417,166 423,167 423,166 422,163 421,161" fill="#d8aa92"/>
<polygon points="398,191 396,188 395,182 397,182 401,186 401,186 399,191" fill="#d8aa92"/>
<polygon points="414,153 414,153 413,160 414,161 414,161 417,162 421,161 420,158" fill="#e8dad6"/>
<polygon points="417,136 417,135 415,134 414,135 416,137" fill="#d6b8ac"/>
<polygon points="389,186 393,188 396,188 395,182 394,182 388,182 388,184" fill="#aab0d4"/>
<polygon points="411,170 415,177 413,180 410,177 410,170" fill="#aab0d4"/>
<polygon points="409,191 409,191 407,190 406,190 405,192 406,193" fill="#aab0d4"/>
<polygon points="402,155 397,151 396,149 396,147 399,147 403,153" fill="#c0c0dc"/>
<polygon points="426,190 422,188 422,188 422,192 425,191" fill="#aab0d4"/>
<polygon points="420,149 415,150 414,153 420,158 421,156" fill="#aab0d4"/>
<polygon points="411,201 408,200 408,199 407,196 407,196 411,195 412,195 413,196" fill="#d8aa92"/>
<polygon points="421,148 425,144 425,142 424,142 420,143 420,144 421,148" fill="#d6b8ac"/>
<polygon points="413,168 413,168 416,169 419,173 418,176 417,176 415,177 411,170" fill="#e8dad6"/>
<polygon points="404,150 399,147 399,147 403,153" fill="#e8dad6"/>
<polygon points="425,195 425,191 422,192 422,192 422,195 423,195" fill="#aab0d4"/>
<polygon points="418,176 424,182 425,182 424,178 421,174 419,173" fill="#d6b8ac"/>
<polygon points="406,150 403,146 401,145 399,147 404,150" fill="#aab0d4"/>
<polygon points="403,156 402,155 397,151 396,159 400,161 402,161 403,158" fill="#c0c0dc"/>
<polygon points="416,207 415,212 415,212 421,218 419,209" fill="#d6cad8"/>
<polygon points="403,158 402,161 405,166 408,163 408,161" fill="#d8aa92"/>
<polygon points="404,184 405,181 404,179 402,177 400,177 398,178 398,179 397,181 397,182 401,186 403,185" fill="#d6cad8"/>
<polygon points="412,140 416,144 414,147 413,145 411,143 412,141" fill="#d8aa92"/>
<polygon points="407,137 406,143 407,144 408,143 409,139" fill="#d6cad8"/>
<polygon points="398,198 398,198 392,201 392,201 392,196 396,194 397,195" fill="#d6b8ac"/>
<polygon points="396,171 396,170 394,171 393,172 398,179 398,178" fill="#aab0d4"/>
<polygon points="416,204 413,203 411,202 411,201 413,196 419,201 418,203" fill="#cc9478"/>
<polygon points="421,148 424,151 424,154 423,155 421,156 420,149 421,148" fill="#c0c0dc"/>
<polygon points="403,185 401,186 401,186 404,191 405,192 406,190" fill="#c28468"/>
<polygon points="404,196 403,193 404,191 405,192 406,193 407,196 407,196" fill="#c0c0dc"/>
<polygon points="408,151 409,151 414,153 414,153 415,150 414,147 413,145 408,150" fill="#e8dad6"/>
<polygon points="428,205 425,206 424,206 420,200 420,200 421,199 425,200" fill="#d6b8ac"/>
<polygon points="411,202 410,207 411,210 413,211 413,203" fill="#c28468"/>
<polygon points="409,157 409,151 408,151 405,156" fill="#aab0d4"/>
<polygon points="393,172 393,172 393,175 397,181 398,179" fill="#d6cad8"/>
<polygon points="396,171 400,177 398,178" fill="#aab0d4"/>
<polygon points="417,176 420,182 418,184 414,183 413,180 415,177" fill="#aab0d4"/>
<polygon points="398,191 397,195 398,198 401,195 400,192 399,191" fill="#d6b8ac"/>
<polygon points="417,136 417,135 420,134 421,135 421,135 420,138" fill="#aab0d4"/>
<polygon points="416,204 413,203 413,211 415,212 416,207" fill="#e8dad6"/>
<polygon points="406,169 410,170 411,170 413,168 412,167 408,163 405,166 406,169" fill="#c0c0dc"/>
<polygon points="399,191 401,186 404,191 403,193 400,192" fill="#d6cad8"/>
<polygon points="421,148 425,144 428,147 429,149 424,151 424,151" fill="#c0c0dc"/>
<polygon points="420,138 421,135 424,142 420,143 419,139" fill="#c88c74"/>
<polygon points="417,166 423,167 424,169 421,174 419,173 416,169 416,167" fill="#aab0d4"/>
<polygon points="408,150 407,144 406,143 405,142 404,142 403,146 406,150" fill="#aab0d4"/>
<polygon points="421,199 420,200 416,191 417,190 422,195 423,195" fill="#c88c74"/>
<polygon points="407,137 406,143 405,142 402,131 402,131 407,134" fill="#c0c0dc"/>
<polygon points="421,209 425,213 425,214 424,217 421,218 421,218 419,209" fill="#c88c74"/>
<polygon points="421,209 425,213 424,206 420,200 419,201 418,203" fill="#d6b8ac"/>
<polygon points="417,176 420,182 422,183 424,182 418,176" fill="#d6b8ac"/>
<polygon points="413,168 416,169 416,167 414,161 414,161" fill="#c28468"/>
<polygon points="413,196 412,195 413,192 416,191 420,200 420,200 419,201" fill="#cc9478"/>
<polygon points="401,195 403,197 403,198 403,199 399,199 398,198 398,198" fill="#c0c0dc"/>
<polygon points="420,134 417,129 416,128 415,134 417,135" fill="#aab0d4"/>
<polygon points="406,203 403,199 399,199 401,205 404,205 406,204" fill="#aab0d4"/>
<polygon points="404,184 405,181 410,185 410,187 407,188" fill="#d6cad8"/>
<polygon points="411,202 410,207 406,204 406,203 408,200 411,201" fill="#cc9478"/>
<polygon points="401,141 404,142 403,146 401,145" fill="#cc9478"/>
<polygon points="398,169 396,170 396,171 400,177 402,177 401,170 400,170" fill="#d6b8ac"/>
<polygon points="418,189 422,188 422,192 422,192" fill="#c28468"/>
<polygon points="414,161 416,167 417,166 417,162" fill="#d6cad8"/>
<polygon points="392,196 391,192 390,191 387,193 386,193 388,199 388,200 392,201" fill="#aab0d4"/>
<polygon points="306,253 304,253 300,250 300,247 305,245 309,247 309,247 309,250" fill="#d6cad8"/>
<polygon points="287,226 283,225 284,222 287,226" fill="#c0c0dc"/>
<polygon points="281,267 281,267 285,266 288,263 288,262 279,261 278,263 279,265" fill="#e8dad6"/>
<polygon points="296,222 293,220 292,220 291,220 291,223 296,223" fill="#d6cad8"/>
<polygon points="293,220 297,218 295,216 294,216 292,220" fill="#e8dad6"/>
<polygon points="312,266 315,266 319,265 319,265 311,262 310,262 308,263" fill="#c28468"/>
<polygon points="318,238 315,234 317,233 319,233 320,237 318,238" fill="#d6b8ac"/>
<polygon points="273,233 278,231 281,233 282,235 279,235" fill="#d6b8ac"/>
<polygon points="293,253 296,250 294,250 291,250 289,253 289,254" fill="#c0c0dc"/>
<polygon points="309,247 313,246 314,244 311,242 311,242 308,242 309,247" fill="#aab0d4"/>
<polygon points="327,257 321,255 322,251 323,251 328,253 331,255 331,255 330,257" fill="#aab0d4"/>
<polygon points="275,211 280,216 283,214 283,211 277,209" fill="#d6b8ac"/>
<polygon points="305,229 296,229 296,229 304,234 305,230 305,229 305,229" fill="#d6cad8"/>
<polygon points="291,220 291,223 290,223 284,221 282,219 289,219" fill="#e8dad6"/>
<polygon points="306,253 304,253 303,254 302,256 305,260 307,260 311,257 311,257 310,255" fill="#c0c0dc"/>
<polygon points="323,239 318,240 317,239 318,238 318,238 321,238 323,239" fill="#aab0d4"/>
<polygon points="320,263 311,257 311,257 311,262 319,265 321,265" fill="#d6cad8"/>
<polygon points="306,253 309,250 317,251 318,255 317,255 310,255" fill="#d6cad8"/>
<polygon points="288,248 285,247 282,248 283,252 289,253 291,250" fill="#aab0d4"/>
<polygon points="317,233 315,234 313,234 305,230 305,229 311,228 315,230" fill="#c0c0dc"/>
<polygon points="300,219 305,219 306,222 301,223" fill="#e8dad6"/>
<polygon points="317,255 321,263 327,257 321,255 318,255" fill="#d6b8ac"/>
<polygon points="301,223 306,222 306,223 303,224 301,225 301,224" fill="#c0c0dc"/>
<polygon points="303,244 301,243 302,238 305,242 304,245" fill="#c0c0dc"/>
<polygon points="287,244 291,242 285,239 284,240 286,244" fill="#d6cad8"/>
<polygon points="318,255 321,255 322,251 317,251 317,251" fill="#d6cad8"/>
<polygon points="300,250 297,250 293,246 293,245 294,243 295,243 298,245 300,247" fill="#c28468"/>
<polygon points="312,206 310,204 307,204 304,206 305,206 310,210 315,210" fill="#d6cad8"/>
<polygon points="316,211 317,213 317,213 316,214 310,215 308,214 306,211 306,211 310,210 315,210" fill="#d6b8ac"/>
<polygon points="305,219 308,219 310,215 308,214 302,214 302,214" fill="#aab0d4"/>
<polygon points="305,245 304,245 305,242 308,242 309,247" fill="#c0c0dc"/>
<polygon points="300,247 298,245 303,244 304,245 305,245" fill="#c88c74"/>
<polygon points="313,246 314,244 319,243 319,243 319,243 321,244 323,245 323,246 322,248 316,247" fill="#aab0d4"/>
<polygon points="277,244 277,244 280,247 282,248 279,243 278,243 277,243" fill="#aab0d4"/>
<polygon points="279,240 282,240 281,243 279,243 278,243 278,240" fill="#d6b8ac"/>
<polygon points="290,211 291,215 290,215 283,214 283,211 284,210 284,210" fill="#c0c0dc"/>
<polygon points="300,219 301,223 301,224 298,224 296,223 296,222 298,219" fill="#d6cad8"/>
<polygon points="310,236 305,236 304,234 305,230 313,234" fill="#d6cad8"/>
<polygon points="311,257 307,260 310,262 311,262" fill="#d6cad8"/>
<polygon points="292,231 298,237 301,237 295,231" fill="#d6b8ac"/>
<polygon points="268,253 269,252 270,251 279,253 280,256 279,261 269,254" fill="#c0c0dc"/>
<polygon points="302,256 297,261 298,262 304,261 305,260 302,256" fill="#aab0d4"/>
<polygon points="306,211 310,210 305,206 304,208" fill="#d6cad8"/>
<polygon points="271,244 277,244 277,243 275,241 271,244" fill="#aab0d4"/>
<polygon points="290,247 294,250 291,250 288,248 290,247" fill="#c0c0dc"/>
<polygon points="294,256 292,257 289,254 293,253 297,254" fill="#d6cad8"/>
<polygon points="300,250 297,250 296,250 293,253 297,254 303,254 304,253" fill="#c0c0dc"/>
<polygon points="268,234 273,233 278,231 276,228 273,227 270,228 267,231 268,234" fill="#d6b8ac"/>
<polygon points="302,256 294,256 297,254 303,254 302,256" fill="#aab0d4"/>
<polygon points="264,266 264,267 258,267 258,266 255,263 257,263" fill="#e8dad6"/>
<polygon points="291,210 293,210 296,211 297,215 295,216 294,216 291,215 290,211" fill="#c0c0dc"/>
<polygon points="293,246 297,250 296,250 294,250 290,247" fill="#e8dad6"/>
<polygon points="300,219 305,219 305,219 302,214 297,215 295,216 297,218 298,219" fill="#aab0d4"/>
<polygon points="299,263 293,266 290,265 288,263 288,262 291,259 292,259 297,261 298,262" fill="#c28468"/>
<polygon points="271,236 272,240 268,242 265,240 265,238 268,234 271,236" fill="#e8dad6"/>
<polygon points="317,251 322,251 323,251 322,248 316,247" fill="#aab0d4"/>
<polygon points="290,209 290,205 290,204 295,208 293,210 291,210" fill="#d6cad8"/>
<polygon points="301,243 295,242 294,238 298,237 301,237 302,237 302,238" fill="#e8dad6"/>
<polygon points="301,211 306,211 306,211 304,208 299,209" fill="#c0c0dc"/>
<polygon points="278,207 281,208 284,210 283,211 277,209 277,207" fill="#c28468"/>
<polygon points="270,258 274,262 268,263 268,263 266,259" fill="#aab0d4"/>
<polygon points="280,217 282,219 284,221 284,222 283,225 282,225 277,222" fill="#c0c0dc"/>
<polygon points="301,224 301,225 305,229 296,229 296,228 298,224" fill="#d6cad8"/>
<polygon points="284,221 284,222 287,226 291,225 290,223" fill="#c0c0dc"/>
<polygon points="301,225 305,229 305,229 306,226 303,224" fill="#c28468"/>
<polygon points="279,261 280,256 291,259 288,262 279,261" fill="#d6cad8"/>
<polygon points="287,226 287,230 286,230 281,227 282,225 283,225" fill="#cc9478"/>
<polygon points="286,244 284,245 281,243 282,240 284,240" fill="#c0c0dc"/>
<polygon points="260,259 260,262 265,263 265,263 262,259" fill="#c0c0dc"/>
<polygon points="321,238 321,237 320,237 318,238" fill="#e8dad6"/>
<polygon points="305,229 305,229 311,228 311,225 308,224 306,226" fill="#aab0d4"/>
<polygon points="276,240 274,241 272,240 271,236" fill="#d6cad8"/>
<polygon points="303,224 306,226 308,224 306,223" fill="#c0c0dc"/>
<polygon points="285,239 285,236 290,236 294,238 295,242 295,243 294,243 291,242" fill="#d6cad8"/>
<polygon points="262,259 265,263 268,263 266,259 264,258" fill="#aab0d4"/>
<polygon points="316,220 309,219 314,224 315,225" fill="#c28468"/>
<polygon points="278,240 278,243 277,243 275,241 274,241 276,240" fill="#c0c0dc"/>
<polygon points="321,233 323,235 321,237 320,237 319,233" fill="#d6cad8"/>
<polygon points="302,256 297,261 292,259 292,257 294,256" fill="#aab0d4"/>
<polygon points="277,237 279,235 273,233 268,234 268,234 271,236" fill="#aab0d4"/>
<polygon points="323,239 321,244 319,243 318,240" fill="#aab0d4"/>
<polygon points="279,240 277,237 271,236 271,236 276,240 278,240" fill="#d6cad8"/>
<polygon points="293,245 287,244 290,247 290,247 293,246" fill="#aab0d4"/>
<polygon points="315,239 317,239 318,238 315,234 313,234 310,236 313,239" fill="#c0c0dc"/>
<polygon points="310,255 311,257 320,263 321,263 317,255" fill="#aab0d4"/>
<polygon points="296,223 291,223 290,223 291,225 296,228 298,224" fill="#c0c0dc"/>
<polygon points="279,240 282,240 284,240 285,239 285,236 282,235 279,235 277,237" fill="#d6cad8"/>
<polygon points="315,239 319,243 319,243 313,239 313,239" fill="#c0c0dc"/>
<polygon points="293,245 294,243 291,242 287,244 287,244" fill="#d6b8ac"/>
<polygon points="265,263 260,262 259,262 257,263 264,266" fill="#d6b8ac"/>
<polygon points="296,211 297,215 302,214 302,214 301,212" fill="#e8dad6"/>
<polygon points="308,263 304,261 305,260 307,260 310,262 308,263" fill="#c0c0dc"/>
<polygon points="316,220 309,219 308,219 310,215 316,214 319,219" fill="#aab0d4"/>
<polygon points="309,250 309,247 313,246 316,247 317,251 317,251" fill="#aab0d4"/>
<polygon points="284,210 284,210 281,208 282,206 285,207" fill="#c0c0dc"/>
<polygon points="271,244 268,242 272,240 274,241 275,241" fill="#aab0d4"/>
<polygon points="290,209 285,206 285,207 284,210 290,211 291,210" fill="#c28468"/>
<polygon points="292,231 290,231 290,236 294,238 298,237" fill="#c0c0dc"/>
<polygon points="301,265 299,263 298,262 304,261 308,263 306,265" fill="#e8dad6"/>
<polygon points="271,244 271,247 276,247 277,244 277,244" fill="#d6cad8"/>
<polygon points="292,231 290,231 287,230 287,226 287,226 291,225 296,228 296,229 296,229 295,231" fill="#c0c0dc"/>
<polygon points="316,228 315,225 315,225 314,224 311,225 311,228 315,230" fill="#d6b8ac"/>
<polygon points="311,242 304,237 305,236 310,236 313,239 313,239 311,242" fill="#c0c0dc"/>
<polygon points="279,243 282,248 282,248 285,247 284,245 281,243" fill="#aab0d4"/>
<polygon points="305,242 308,242 311,242 304,237 302,237 302,238" fill="#aab0d4"/>
<polygon points="275,267 279,265 278,263 274,262 268,263 269,265" fill="#d6b8ac"/>
<polygon points="315,239 317,239 318,240 319,243 319,243" fill="#c0c0dc"/>
<polygon points="264,258 264,258 266,259 270,258 269,254 268,253 263,255" fill="#d6b8ac"/>
<polygon points="303,244 298,245 295,243 295,242 301,243" fill="#e8dad6"/>
<polygon points="281,233 286,230 281,227 276,228 278,231" fill="#c0c0dc"/>
<polygon points="285,266 288,263 290,265 289,267" fill="#c88c74"/>
<polygon points="311,242 313,239 319,243 314,244" fill="#c0c0dc"/>
<polygon points="290,231 287,230 286,230 281,233 282,235 285,236 290,236" fill="#c88c74"/>
<polygon points="270,272 264,267 264,266 265,263 265,263 268,263 268,263 269,265" fill="#c88c74"/>
<polygon points="290,247 288,248 285,247 284,245 286,244 287,244 287,244" fill="#d6cad8"/>
<polygon points="298,219 297,218 293,220 296,222" fill="#e8dad6"/>
<polygon points="301,211 306,211 308,214 302,214 301,212" fill="#c0c0dc"/>
<polygon points="306,265 308,263 308,263 312,266 310,267" fill="#d6cad8"/>
<polygon points="277,244 280,247 276,247" fill="#d6cad8"/>
<polygon points="271,247 270,250 270,251 279,253 283,252 282,248 282,248 280,247 276,247" fill="#e8dad6"/>
<polygon points="291,220 292,220 294,216 291,215 290,215 289,219" fill="#aab0d4"/>
<polygon points="293,210 295,208 297,207 299,209 301,211 301,212 296,211" fill="#c0c0dc"/>
<polygon points="306,222 305,219 305,219 308,219 309,219 314,224 311,225 308,224 306,223" fill="#cc9478"/>
<polygon points="273,227 272,223 277,222 282,225 281,227 276,228 273,227" fill="#aab0d4"/>
<polygon points="292,257 292,259 291,259 280,256 279,253 283,252 289,253 289,254" fill="#aab0d4"/>
<polygon points="280,217 282,219 289,219 290,215 283,214 280,216 280,217" fill="#c0c0dc"/>
<polygon points="269,254 279,261 279,261 278,263 274,262 270,258" fill="#d6b8ac"/>
<polygon points="295,231 296,229 304,234 305,236 304,237 302,237 301,237" fill="#c0c0dc"/>
<polygon points="263,193 264,194 260,199 257,199 256,199 256,198 259,192" fill="#aab0d4"/>
<polygon points="257,191 259,192 256,198 255,193" fill="#c0c0dc"/>
<polygon points="239,197 237,194 235,191 229,193 233,197 239,197" fill="#c88c74"/>
<polygon points="256,189 257,187 255,186 254,185 254,188" fill="#c0c0dc"/>
<polygon points="257,191 259,192 263,193 262,189 259,186 257,187 256,189" fill="#aab0d4"/>
<polygon points="235,169 235,171 237,172 239,171 239,170 237,168 236,169" fill="#d6cad8"/>
<polygon points="257,187 255,186 254,180 257,182 259,185 259,186" fill="#e8dad6"/>
<polygon points="243,188 243,187 248,188 250,191 249,192 247,192" fill="#d8aa92"/>
<polygon points="235,169 235,167 235,165 236,169" fill="#d6b8ac"/>
<polygon points="242,190 243,188 243,187 242,184 237,184 237,188 241,190" fill="#c0c0dc"/>
<polygon points="241,190 237,188 236,188 235,191 237,194" fill="#c0c0dc"/>
<polygon points="253,189 250,183 250,182 249,183 248,188 250,191 253,191" fill="#aab0d4"/>
<polygon points="236,169 237,168 236,162 236,161 235,161 235,165" fill="#cc9478"/>
<polygon points="253,191 250,191 249,192 251,197 255,199 256,199 256,198 255,193" fill="#aab0d4"/>
<polygon points="267,183 267,182 271,185 268,190 266,186" fill="#c0c0dc"/>
<polygon points="239,197 233,197 234,198 239,201 240,200" fill="#d6b8ac"/>
<polygon points="254,180 252,178 251,170 252,170 257,173 259,176 257,182" fill="#c0c0dc"/>
<polygon points="257,191 255,193 253,191 253,189 254,188 256,189" fill="#aab0d4"/>
<polygon points="239,197 237,194 241,190 242,190 243,193" fill="#c0c0dc"/>
<polygon points="236,162 237,168 239,170 242,168" fill="#d6cad8"/>
<polygon points="249,183 250,182 250,182 245,175 242,176 241,179 242,182" fill="#aab0d4"/>
<polygon points="249,183 242,182 242,184 243,187 248,188" fill="#aab0d4"/>
<polygon points="245,197 247,192 249,192 251,197 247,199 246,199" fill="#cc9478"/>
<polygon points="254,185 255,186 254,180 252,178 250,182 250,182 250,183" fill="#c0c0dc"/>
<polygon points="241,179 238,177 237,172 239,171 242,176" fill="#c0c0dc"/>
<polygon points="234,179 234,178 238,177 241,179 242,182 242,184 237,184" fill="#aab0d4"/>
<polygon points="263,183 262,182 261,177 263,176 264,177 266,179 267,182 267,183" fill="#c0c0dc"/>
<polygon points="263,193 264,194 265,195 268,192 268,190 266,186 263,187 262,189" fill="#aab0d4"/>
<polygon points="245,197 247,192 243,188 242,190 243,193" fill="#aab0d4"/>
<polygon points="254,188 254,185 250,183 253,189" fill="#d6cad8"/>
<polygon points="250,182 252,178 251,170 249,168 247,167 246,168 245,175" fill="#c0c0dc"/>
<polygon points="263,183 267,183 266,186 263,187" fill="#d6cad8"/>
<polygon points="257,182 259,176 261,177 262,182 259,185" fill="#d6b8ac"/>
<polygon points="234,198 236,203 239,203 239,201" fill="#d6cad8"/>
<polygon points="262,189 263,187 263,183 262,182 259,185 259,186" fill="#c0c0dc"/>
<polygon points="239,197 243,193 245,197 246,199 244,201 240,200 239,197" fill="#d6cad8"/>
<polygon points="245,175 246,168 242,168 239,170 239,171 242,176" fill="#d6cad8"/>
<polygon points="341,167 341,167 344,169 344,170 343,172 339,176 337,175 338,173" fill="#cc9478"/>
<polygon points="342,156 338,153 338,149 344,152 344,153" fill="#c0c0dc"/>
<polygon points="347,148 346,147 348,143 350,142 350,144 351,148" fill="#c0c0dc"/>
<polygon points="343,132 341,134 342,137 345,137 346,136 344,133" fill="#c0c0dc"/>
<polygon points="329,170 326,173 328,177 331,177 331,177 331,170" fill="#aab0d4"/>
<polygon points="351,136 351,139 354,139 354,133 353,133 351,135" fill="#e8dad6"/>
<polygon points="352,150 354,157 354,157 349,159 349,158 350,152" fill="#d6b8ac"/>
<polygon points="376,139 376,143 376,143 376,144 376,144 379,142 380,139 377,138" fill="#c0c0dc"/>
<polygon points="341,134 338,135 338,141 340,140 342,137" fill="#c0c0dc"/>
<polygon points="346,147 344,152 338,149 338,148 340,147 345,147" fill="#d8aa92"/>
<polygon points="328,164 329,170 331,170 334,168 329,161" fill="#d6b8ac"/>
<polygon points="380,146 376,144 379,142 381,146" fill="#c0c0dc"/>
<polygon points="347,153 346,156 343,158 342,156 344,153 346,153" fill="#e8dad6"/>
<polygon points="349,158 349,159 348,162 343,158 343,158 346,156" fill="#d6b8ac"/>
<polygon points="336,144 338,148 340,147 343,143 342,140 340,140 338,141 336,144" fill="#c28468"/>
<polygon points="386,134 383,134 381,139 381,139 386,137" fill="#d6cad8"/>
<polygon points="368,136 365,140 363,139 362,137 363,135" fill="#c88c74"/>
<polygon points="373,133 373,131 379,132 377,136" fill="#e8dad6"/>
<polygon points="369,135 370,138 370,138 367,140 365,140 365,140 368,136" fill="#d6b8ac"/>
<polygon points="354,139 355,139 356,139 358,133 357,131 355,131 354,133" fill="#e8dad6"/>
<polygon points="348,165 348,164 354,161 354,166 353,167 348,165" fill="#aab0d4"/>
<polygon points="334,168 334,168 336,174 331,177 331,170" fill="#aab0d4"/>
<polygon points="358,133 356,139 361,136" fill="#d6b8ac"/>
<polygon points="330,158 334,157 338,153 338,149 338,148 336,144 332,147 330,151" fill="#d6b8ac"/>
<polygon points="346,147 346,147 348,143 347,142 345,143 345,143 345,147" fill="#c0c0dc"/>
<polygon points="352,150 354,157 357,152 354,148 353,148 352,149" fill="#d6cad8"/>
<polygon points="381,146 379,142 380,139 381,139 381,139 383,145" fill="#c0c0dc"/>
<polygon points="351,139 354,139 355,139 355,141 350,144 350,142 350,140" fill="#aab0d4"/>
<polygon points="375,139 373,134 373,133 377,136 377,138 376,139" fill="#aab0d4"/>
<polygon points="342,164 348,164 348,162 343,158 342,159 342,161" fill="#c0c0dc"/>
<polygon points="345,143 345,139 342,140 343,143 345,143" fill="#d6cad8"/>
<polygon points="349,136 349,139 348,139 346,138 345,137 346,136 348,134 349,135" fill="#d6cad8"/>
<polygon points="349,132 349,130 353,127 355,131 354,133 353,133" fill="#c0c0dc"/>
<polygon points="338,173 337,175 336,174 334,168 337,165 337,165 340,166" fill="#e8dad6"/>
<polygon points="342,156 338,153 334,157 337,160 342,159 343,158 343,158" fill="#e8dad6"/>
<polygon points="376,143 371,147 370,145 371,144 376,143" fill="#aab0d4"/>
<polygon points="354,157 355,158 354,161 348,164 348,164 348,162 349,159" fill="#e8dad6"/>
<polygon points="387,140 387,138 386,137 381,139 383,145 383,145" fill="#d6cad8"/>
<polygon points="377,138 380,139 381,139 383,134 380,130 379,132 377,136" fill="#d6cad8"/>
<polygon points="352,150 350,152 347,153 346,153 347,148 351,148 352,149" fill="#d6cad8"/>
<polygon points="345,143 345,139 346,138 348,139 347,142" fill="#c0c0dc"/>
<polygon points="347,153 346,156 349,158 350,152" fill="#d6b8ac"/>
<polygon points="349,132 349,130 348,130 344,133 346,136 348,134" fill="#e8dad6"/>
<polygon points="343,132 341,134 338,135 338,134 340,129 343,132" fill="#aab0d4"/>
<polygon points="354,157 355,158 358,158 358,152 357,152 354,157" fill="#c0c0dc"/>
<polygon points="341,167 341,167 342,164 342,161 337,165 340,166" fill="#e8dad6"/>
<polygon points="359,159 361,159 364,152 364,150 362,150 358,152 358,158" fill="#d6cad8"/>
<polygon points="349,135 348,134 349,132 353,133 351,135" fill="#e8dad6"/>
<polygon points="349,136 349,139 350,140 351,139 351,136" fill="#d6b8ac"/>
<polygon points="364,152 371,155 373,155 373,155 373,153 373,153 371,147 370,145 368,146 366,146 364,149 364,150" fill="#aab0d4"/>
<polygon points="370,138 371,139 371,144 370,145 368,146 367,140" fill="#aab0d4"/>
<polygon points="345,147 340,147 343,143 345,143" fill="#aab0d4"/>
<polygon points="393,131 393,130 389,130 388,131 389,132" fill="#aab0d4"/>
<polygon points="389,132 388,131 387,131 386,134 386,137 387,138 391,137 391,135" fill="#e8dad6"/>
<polygon points="362,150 360,148 358,143 362,141 364,149 364,150" fill="#cc9478"/>
<polygon points="329,159 329,161 334,168 334,168 337,165 337,160 334,157 330,158" fill="#c0c0dc"/>
<polygon points="369,135 368,136 363,135 365,131 367,131 369,135" fill="#c0c0dc"/>
<polygon points="358,152 357,152 354,148 360,148 362,150" fill="#d6b8ac"/>
<polygon points="365,140 366,146 364,149 362,141 363,139 365,140" fill="#d6b8ac"/>
<polygon points="341,167 340,166 338,173" fill="#e8dad6"/>
<polygon points="341,167 342,164 348,164 348,164 348,165 344,169" fill="#c0c0dc"/>
<polygon points="336,144 338,141 338,135 338,134 336,133 336,134 333,139 333,140" fill="#d6b8ac"/>
<polygon points="393,131 393,130 398,125 400,132 398,136 392,134" fill="#e8dad6"/>
<polygon points="347,148 346,147 346,147 344,152 344,153 346,153" fill="#c0c0dc"/>
<polygon points="345,139 342,140 340,140 342,137 345,137 346,138" fill="#c0c0dc"/>
<polygon points="352,149 353,148 356,143 355,141 350,144 351,148" fill="#c28468"/>
<polygon points="350,140 350,142 348,143 347,142 348,139 349,139" fill="#c0c0dc"/>
<polygon points="367,140 368,146 366,146 365,140" fill="#aab0d4"/>
<polygon points="329,134 333,139 336,134 329,134" fill="#aab0d4"/>
<polygon points="361,136 362,137 363,139 362,141 358,143 356,143 355,141 355,139 356,139" fill="#c0c0dc"/>
<polygon points="365,131 365,129 358,131 357,131 358,133 361,136 362,137 363,135" fill="#aab0d4"/>
<polygon points="373,153 371,147 376,143 376,144" fill="#aab0d4"/>
<polygon points="354,148 353,148 356,143 358,143 360,148" fill="#d8aa92"/>
<polygon points="393,131 389,132 391,135 392,134" fill="#aab0d4"/>
<polygon points="369,135 371,131 367,131" fill="#aab0d4"/>
<polygon points="375,139 371,139 371,144 376,143 376,139" fill="#e8dad6"/>
<polygon points="337,165 337,165 337,160 342,159 342,161" fill="#d6cad8"/>
<polygon points="349,136 351,136 351,135 349,135" fill="#aab0d4"/>
<polygon points="387,131 386,130 381,128 380,130 383,134 386,134" fill="#d6b8ac"/>
<polygon points="370,138 373,134 375,139 371,139 370,138" fill="#aab0d4"/>
<polygon points="369,135 370,138 373,134 373,133 373,131 373,130 371,131 369,135" fill="#aab0d4"/>
<polygon points="394,208 396,207 399,208 401,213 394,216 394,216 393,215 392,214" fill="#d6cad8"/>
<polygon points="405,258 404,254 403,252 402,252 398,251 396,255 397,258 400,260 403,260 405,260" fill="#aab0d4"/>
<polygon points="417,257 422,258 422,261 419,261 417,259" fill="#d6b8ac"/>
<polygon points="402,252 402,246 398,245 397,248 398,251 398,251" fill="#d6b8ac"/>
<polygon points="386,223 387,222 389,222 390,223 390,228 388,230 386,228" fill="#d6b8ac"/>
<polygon points="408,235 408,235 408,236 417,238 420,236 420,236 417,234 411,231 411,231" fill="#c0c0dc"/>
<polygon points="420,236 420,236 420,234 424,232 426,234 421,237" fill="#d6b8ac"/>
<polygon points="388,230 388,231 394,234 393,228 390,228" fill="#d6cad8"/>
<polygon points="411,261 410,262 415,261 415,260 413,260" fill="#d6cad8"/>
<polygon points="394,227 393,228 394,234 396,235 397,234 397,231" fill="#d6cad8"/>
<polygon points="390,223 394,224 396,224 397,222 394,216 394,216 389,222" fill="#aab0d4"/>
<polygon points="406,243 408,242 402,239 400,239 400,240 403,243" fill="#aab0d4"/>
<polygon points="403,252 406,249 409,249 409,249 410,253 404,254" fill="#c0c0dc"/>
<polygon points="408,241 411,247 417,249 416,244 416,244 409,240" fill="#c0c0dc"/>
<polygon points="420,236 417,238 416,244 416,244 423,241 424,241 421,237 421,237" fill="#c0c0dc"/>
<polygon points="413,211 414,211 416,213 411,219 408,213 408,212 412,211" fill="#d6cad8"/>
<polygon points="422,218 420,216 416,213 411,219 411,219 421,223" fill="#d6cad8"/>
<polygon points="391,208 393,203 391,201 391,200 388,200 388,201 386,207 389,209" fill="#c88c74"/>
<polygon points="411,259 410,257 405,258 405,260 410,262 410,262 411,261" fill="#c0c0dc"/>
<polygon points="399,262 400,260 397,258 392,262 397,263" fill="#aab0d4"/>
<polygon points="393,203 391,201 398,199 399,199 401,205 399,208 396,207" fill="#d6b8ac"/>
<polygon points="423,224 421,223 421,224 425,230 428,231 431,229" fill="#d6b8ac"/>
<polygon points="399,233 406,234 405,231 400,229" fill="#d6cad8"/>
<polygon points="417,226 419,225 420,234 420,236 417,234 416,228" fill="#aab0d4"/>
<polygon points="390,223 394,224 394,227 393,228 390,228" fill="#cc9478"/>
<polygon points="405,204 404,205 408,212 412,211 410,207" fill="#c28468"/>
<polygon points="420,234 419,225 421,224 425,230 424,232" fill="#aab0d4"/>
<polygon points="406,245 404,246 403,246 403,243 406,243" fill="#e8dad6"/>
<polygon points="410,262 415,261 415,265 411,265 410,262" fill="#c0c0dc"/>
<polygon points="411,259 410,257 411,255 415,260 415,260 413,260" fill="#aab0d4"/>
<polygon points="424,241 426,242 434,247 424,252 424,252 423,251 423,241" fill="#aab0d4"/>
<polygon points="406,245 409,249 409,249 411,247 408,241 408,242 406,243" fill="#c0c0dc"/>
<polygon points="415,260 415,260 415,261 415,265 417,267 418,266 419,261 417,259" fill="#aab0d4"/>
<polygon points="398,245 397,248 391,244 391,244 395,242 398,244" fill="#aab0d4"/>
<polygon points="406,245 409,249 406,249 404,246" fill="#aab0d4"/>
<polygon points="411,254 410,253 409,249 411,247 417,249 419,250 417,253" fill="#aab0d4"/>
<polygon points="437,226 423,217 422,218 421,223 421,223 423,224" fill="#aab0d4"/>
<polygon points="403,243 400,240 398,244 398,245 402,246 403,246" fill="#aab0d4"/>
<polygon points="421,237 424,241 426,242 428,238 428,236" fill="#d6b8ac"/>
<polygon points="399,208 401,213 402,214 408,213 408,212 404,205 401,205" fill="#aab0d4"/>
<polygon points="394,216 401,213 402,214 404,218 403,222 397,222" fill="#e8dad6"/>
<polygon points="390,245 391,244 397,248 398,251 389,248 389,247" fill="#e8dad6"/>
<polygon points="411,255 415,260 417,259 417,257 417,253 411,254" fill="#c0c0dc"/>
<polygon points="417,226 411,225 411,231 416,228" fill="#d6cad8"/>
<polygon points="396,224 398,227 397,231 394,227 394,224" fill="#d6cad8"/>
<polygon points="402,214 408,213 411,219 411,219 410,221 404,218" fill="#e8dad6"/>
<polygon points="419,261 422,261 425,264 420,266 418,266" fill="#e8dad6"/>
<polygon points="416,228 417,234 411,231 411,231" fill="#c0c0dc"/>
<polygon points="406,234 405,231 404,226 404,224 405,225 411,231 408,235" fill="#d6b8ac"/>
<polygon points="394,208 391,208 389,209 392,214" fill="#c0c0dc"/>
<polygon points="408,242 402,239 408,235 408,236 409,240 408,241" fill="#d6cad8"/>
<polygon points="411,255 410,257 405,258 404,254 410,253 411,254" fill="#aab0d4"/>
<polygon points="416,244 423,241 423,251 419,250 417,249" fill="#d6cad8"/>
<polygon points="404,224 403,222 404,218 410,221 410,224 405,225" fill="#c0c0dc"/>
<polygon points="399,227 404,226 405,231 400,229" fill="#cc9478"/>
<polygon points="396,224 397,222 403,222 404,224 404,226 399,227 398,227" fill="#d6cad8"/>
<polygon points="421,237 421,237 428,236 428,235 428,235 426,234" fill="#d6b8ac"/>
<polygon points="411,259 413,260 411,261" fill="#c0c0dc"/>
<polygon points="398,244 395,242 394,237 396,235 400,239 400,240" fill="#e8dad6"/>
<polygon points="399,233 406,234 408,235 408,235 402,239 400,239 396,235 396,235 397,234" fill="#aab0d4"/>
<polygon points="398,227 399,227 400,229 399,233 397,234 397,231" fill="#d6cad8"/>
<polygon points="396,235 394,237 389,238 387,237 388,231 394,234 396,235" fill="#d6b8ac"/>
<polygon points="392,214 393,215 387,216 383,209 385,208 386,207 389,209" fill="#e8dad6"/>
<polygon points="397,263 392,262 392,262 391,264 392,265 394,267 396,265" fill="#aab0d4"/>
<polygon points="399,262 400,260 403,260 405,266 403,268 401,267 400,266" fill="#e8dad6"/>
<polygon points="417,253 419,250 423,251 424,252 422,258 417,257" fill="#aab0d4"/>
<polygon points="399,262 397,263 396,265 400,266" fill="#e8dad6"/>
<polygon points="410,267 411,265 410,262 405,260 403,260 405,266 408,267 408,268" fill="#e8dad6"/>
<polygon points="421,223 411,219 410,221 410,224 411,225 417,226 419,225 421,224 421,223" fill="#c0c0dc"/>
<polygon points="394,208 396,207 393,203 391,208" fill="#d6b8ac"/>
<polygon points="386,219 386,218 387,216 393,215 394,216 389,222 387,222 386,220" fill="#d6cad8"/>
<polygon points="404,246 406,249 403,252 402,252 402,246 403,246" fill="#aab0d4"/>
<polygon points="409,240 416,244 417,238 408,236" fill="#d6cad8"/>
<polygon points="405,225 410,224 411,225 411,231 411,231 411,231" fill="#aab0d4"/>
<polygon points="425,264 422,261 422,258 424,252 424,252 427,256 426,264" fill="#c0c0dc"/>
<polygon points="394,237 395,242 391,244 389,238" fill="#aab0d4"/>
<polygon points="253,258 252,258 252,261 254,262 256,259" fill="#aab0d4"/>
<polygon points="247,207 247,207 244,204 240,204 242,207 243,208" fill="#aab0d4"/>
<polygon points="279,203 274,203 278,207 278,207 279,204" fill="#d6cad8"/>
<polygon points="258,209 258,208 258,207 253,203 252,204 254,208 257,209" fill="#c0c0dc"/>
<polygon points="248,206 249,203 246,201 243,201 244,204 247,207" fill="#e8dad6"/>
<polygon points="270,251 256,246 256,245 256,245 263,246 270,250" fill="#e8dad6"/>
<polygon points="264,210 261,211 261,212 266,214 269,214 269,213 264,210" fill="#d6cad8"/>
<polygon points="263,246 262,241 260,241 260,241 256,245" fill="#c88c74"/>
<polygon points="236,217 240,219 239,222 238,222 232,217 234,216" fill="#e8dad6"/>
<polygon points="240,258 238,262 239,265 241,265 246,265 244,261" fill="#d6b8ac"/>
<polygon points="259,258 260,258 262,259 264,258 259,257" fill="#aab0d4"/>
<polygon points="248,240 248,240 248,238 244,236 243,237 244,239" fill="#c0c0dc"/>
<polygon points="256,245 256,245 255,245 254,240 260,241 256,245" fill="#e8dad6"/>
<polygon points="252,258 248,254 245,253 244,253 244,253 249,261 252,261" fill="#c0c0dc"/>
<polygon points="235,214 233,210 233,209 239,212 238,213 236,214" fill="#e8dad6"/>
<polygon points="246,212 242,212 239,211 239,208 242,207 243,208" fill="#d6b8ac"/>
<polygon points="250,248 256,245 255,245 252,244 252,244 246,246" fill="#c0c0dc"/>
<polygon points="252,253 248,254 245,253 244,247 245,246" fill="#c28468"/>
<polygon points="256,258 257,258 259,258 259,257 258,255 253,253 253,253 253,254" fill="#aab0d4"/>
<polygon points="257,259 259,262 258,263 255,263 254,263 254,262 256,259" fill="#d6cad8"/>
<polygon points="244,215 243,215 239,212 239,211 242,212 244,215" fill="#c0c0dc"/>
<polygon points="236,217 240,219 242,218 242,218 239,216" fill="#c0c0dc"/>
<polygon points="242,217 243,215 244,215 248,217 250,220 246,220 242,218 242,218" fill="#d6b8ac"/>
<polygon points="265,239 267,234 258,232 257,233 263,238" fill="#d6b8ac"/>
<polygon points="240,222 246,223 246,220 242,218 240,219 239,222" fill="#aab0d4"/>
<polygon points="238,234 233,232 233,230 235,230 240,231 240,233" fill="#c0c0dc"/>
<polygon points="243,231 243,229 237,225 235,226 240,231" fill="#c28468"/>
<polygon points="251,229 250,227 250,226 249,225 244,226 244,227 250,229" fill="#c0c0dc"/>
<polygon points="257,217 256,215 252,213 253,217" fill="#d6cad8"/>
<polygon points="266,214 265,219 262,219 260,214 261,212" fill="#d6cad8"/>
<polygon points="270,251 268,252 268,253 257,248 256,246" fill="#c88c74"/>
<polygon points="265,197 269,201 269,203 266,204 257,199 257,198" fill="#d6cad8"/>
<polygon points="254,233 257,233 258,232 258,228 253,227 250,227 251,229" fill="#c0c0dc"/>
<polygon points="274,203 278,207 277,208 271,205 269,203 269,201 269,201" fill="#aab0d4"/>
<polygon points="240,201 239,203 240,204 244,204 243,201 241,200" fill="#d6cad8"/>
<polygon points="261,220 260,221 253,221 252,221 252,217 253,217 257,217 262,219" fill="#d6cad8"/>
<polygon points="267,225 263,222 261,220 262,219 262,219 265,219 270,222 272,223 273,227 272,227" fill="#aab0d4"/>
<polygon points="240,242 235,242 235,245 235,246 238,247 244,247 245,246 245,246 243,244" fill="#d6cad8"/>
<polygon points="269,214 272,216 270,222 265,219 266,214" fill="#aab0d4"/>
<polygon points="253,268 258,266 255,263 254,263 253,264" fill="#d6b8ac"/>
<polygon points="265,225 264,225 263,228 267,231 270,228" fill="#c28468"/>
<polygon points="267,225 263,222 264,225 265,225" fill="#e8dad6"/>
<polygon points="252,244 246,242 248,240 248,240 252,244" fill="#aab0d4"/>
<polygon points="265,239 266,240 262,241 260,241 255,236 263,238" fill="#aab0d4"/>
<polygon points="259,257 264,258 264,258 263,255 262,255 258,255" fill="#e8dad6"/>
<polygon points="254,235 254,235 255,236 263,238 257,233 254,233" fill="#aab0d4"/>
<polygon points="254,235 246,231 250,229 251,229 254,233" fill="#aab0d4"/>
<polygon points="239,208 234,206 235,203 237,203 239,203 240,204 242,207" fill="#aab0d4"/>
<polygon points="250,229 244,227 243,229 243,231 243,231 246,231" fill="#c0c0dc"/>
<polygon points="252,217 248,214 247,214 248,217 250,220 251,220 252,221" fill="#d6b8ac"/>
<polygon points="247,207 247,207 248,206 252,208 251,210 251,211" fill="#d6b8ac"/>
<polygon points="258,209 261,211 264,210 258,208" fill="#e8dad6"/>
<polygon points="244,253 244,253 240,255 239,254 234,249 234,249 241,251" fill="#cc9478"/>
<polygon points="238,237 238,234 240,233 244,236 243,237 238,237" fill="#cc9478"/>
<polygon points="240,242 243,244 246,242 248,240 244,239 240,241" fill="#aab0d4"/>
<polygon points="273,210 271,205 277,208 277,209 275,211" fill="#e8dad6"/>
<polygon points="261,220 263,222 264,225 263,228 260,227 260,221" fill="#c88c74"/>
<polygon points="240,222 244,226 249,225 246,223" fill="#c0c0dc"/>
<polygon points="240,255 240,258 240,258 244,261 249,261 244,253" fill="#d6cad8"/>
<polygon points="248,213 248,214 252,217 253,217 252,213 250,213" fill="#c28468"/>
<polygon points="261,206 256,201 256,199 257,199 266,204 265,206 263,207" fill="#cc9478"/>
<polygon points="254,208 252,208 248,206 249,203 252,204" fill="#e8dad6"/>
<polygon points="269,214 272,216 278,218 280,217 280,216 275,211 273,210 270,210 269,213" fill="#aab0d4"/>
<polygon points="255,245 254,240 251,237 249,237 248,238 248,240 252,244" fill="#c0c0dc"/>
<polygon points="240,258 232,256 237,262 238,262 240,258" fill="#aab0d4"/>
<polygon points="272,216 270,222 272,223 277,222 278,218" fill="#aab0d4"/>
<polygon points="243,231 243,231 240,231 240,231 240,233 244,236 248,238 249,237" fill="#c88c74"/>
<polygon points="240,242 235,242 223,234 238,237 238,237 240,241" fill="#e8dad6"/>
<polygon points="250,213 252,213 256,215 255,212 255,211 251,210 251,211" fill="#c0c0dc"/>
<polygon points="257,209 255,211 251,210 252,208 254,208" fill="#c0c0dc"/>
<polygon points="254,235 254,235 251,237 249,237 243,231 246,231" fill="#c88c74"/>
<polygon points="240,241 238,237 243,237 244,239" fill="#d6b8ac"/>
<polygon points="246,212 242,212 244,215 247,214 248,214 248,213" fill="#d6cad8"/>
<polygon points="236,214 238,213 242,217 242,218 239,216" fill="#d6cad8"/>
<polygon points="254,222 259,227 258,228 253,227" fill="#e8dad6"/>
<polygon points="246,220 250,220 251,220 250,226 249,225 246,223" fill="#e8dad6"/>
<polygon points="253,203 256,201 256,199 252,197 247,197 246,201 249,203 252,204" fill="#e8dad6"/>
<polygon points="258,208 264,210 264,210 263,207 261,206 258,207" fill="#d6cad8"/>
<polygon points="246,212 243,208 247,207 251,211 250,213 248,213" fill="#c0c0dc"/>
<polygon points="236,217 239,216 236,214 235,214 234,214 234,216" fill="#d6cad8"/>
<polygon points="256,246 257,248 256,250 254,251 250,248 256,245 256,245" fill="#c88c74"/>
<polygon points="257,258 259,258 260,258 261,262 259,262 257,259" fill="#aab0d4"/>
<polygon points="256,258 257,258 257,259 256,259 253,258 253,258" fill="#d6cad8"/>
<polygon points="254,262 254,263 253,264 248,266 246,265 244,261 249,261 252,261" fill="#d6cad8"/>
<polygon points="256,258 253,254 253,258" fill="#aab0d4"/>
<polygon points="270,250 272,250 272,246 271,244 269,242 266,240 262,241 263,246" fill="#d6cad8"/>
<polygon points="244,215 248,217 247,214 244,215" fill="#c0c0dc"/>
<polygon points="273,210 270,210 265,206 266,204 269,203 271,205" fill="#d6cad8"/>
<polygon points="238,213 239,212 239,212 243,215 242,217" fill="#c0c0dc"/>
<polygon points="267,225 265,225 270,228 272,227" fill="#e8dad6"/>
<polygon points="241,251 234,249 235,246 238,247" fill="#d6cad8"/>
<polygon points="254,235 255,236 260,241 260,241 254,240 251,237" fill="#c28468"/>
<polygon points="252,221 251,220 250,226 250,227 253,227 254,222 253,221" fill="#e8dad6"/>
<polygon points="258,207 261,206 256,201 253,203" fill="#aab0d4"/>
<polygon points="240,222 244,226 244,227 243,229 237,225 237,223 238,222 239,222" fill="#d6cad8"/>
<polygon points="264,210 269,213 270,210 265,206 263,207" fill="#d6cad8"/>
<polygon points="262,219 262,219 260,214 255,212 256,215 257,217" fill="#c28468"/>
<polygon points="260,221 260,227 259,227 254,222 253,221" fill="#aab0d4"/>
<polygon points="253,258 253,258 252,258 248,254 252,253 253,253 253,254" fill="#c28468"/>
<polygon points="268,253 268,253 263,255 262,255 256,250 257,248" fill="#c28468"/>
<polygon points="253,253 254,251 256,250 262,255 258,255" fill="#aab0d4"/>
<polygon points="244,253 241,251 238,247 244,247 245,253" fill="#d6b8ac"/>
<polygon points="239,212 233,209 232,206 234,206 239,208 239,211 239,212" fill="#d6b8ac"/>
<polygon points="240,231 235,226 232,226 235,230 240,231" fill="#c0c0dc"/>
<polygon points="250,248 254,251 253,253 253,253 252,253 245,246 245,246 246,246" fill="#aab0d4"/>
<polygon points="246,246 245,246 243,244 246,242 252,244" fill="#d6b8ac"/>
<polygon points="268,233 267,231 263,228 260,227 259,227 258,228 258,232 267,234 268,234" fill="#d6cad8"/>
<polygon points="258,209 261,211 261,212 260,214 255,212 255,211 257,209" fill="#aab0d4"/>
<polygon points="260,153 258,150 259,147 263,147 263,147 264,150" fill="#aab0d4"/>
<polygon points="238,156 233,152 231,149 235,150 238,153" fill="#aab0d4"/>
<polygon points="248,146 250,149 249,153 249,153 246,149 245,147" fill="#aab0d4"/>
<polygon points="243,135 244,138 238,138 237,135 237,133 240,133" fill="#aab0d4"/>
<polygon points="263,147 266,147 266,147 269,142 266,139 262,138 261,144 263,147" fill="#d6b8ac"/>
<polygon points="251,161 250,160 252,158 254,160 254,161" fill="#e8dad6"/>
<polygon points="242,148 245,147 240,144 242,149" fill="#d6b8ac"/>
<polygon points="241,150 241,150 236,149 235,150 238,153 240,153" fill="#e8dad6"/>
<polygon points="259,156 259,156 258,158 252,156 250,154 249,153 255,154" fill="#e8dad6"/>
<polygon points="242,149 240,144 240,144 237,145 241,150 241,150 241,150" fill="#cc9478"/>
<polygon points="256,136 255,140 261,144 262,138" fill="#c88c74"/>
<polygon points="263,131 265,127 273,133 273,134 266,135" fill="#d6b8ac"/>
<polygon points="235,147 236,149 241,150 237,145 235,144 235,144" fill="#aab0d4"/>
<polygon points="248,146 248,145 244,142 239,140 240,144 240,144 245,147 245,147" fill="#d6cad8"/>
<polygon points="238,156 233,152 234,157 235,159 240,159 240,157" fill="#d6b8ac"/>
<polygon points="269,142 266,147 276,153 274,147 271,144" fill="#aab0d4"/>
<polygon points="256,136 253,132 246,135 251,140 255,140" fill="#d6b8ac"/>
<polygon points="256,136 253,132 252,128 266,137 266,139 262,138" fill="#aab0d4"/>
<polygon points="254,150 253,146 253,146 251,144 248,145 248,146 250,149 252,151" fill="#aab0d4"/>
<polygon points="240,153 238,153 238,156 240,157 243,154" fill="#c0c0dc"/>
<polygon points="262,157 268,155 268,155 269,158 266,160 262,157" fill="#aab0d4"/>
<polygon points="246,135 246,135 243,135 244,138 244,138 251,141 251,140" fill="#d6cad8"/>
<polygon points="242,148 245,149 244,152 241,150 242,149" fill="#d6cad8"/>
<polygon points="250,154 249,158 245,156 245,155 245,153 249,153 249,153 249,153" fill="#aab0d4"/>
<polygon points="259,156 259,156 262,157 262,157 266,153 264,150 260,153 259,155" fill="#d6cad8"/>
<polygon points="262,157 268,155 266,153" fill="#c0c0dc"/>
<polygon points="255,154 249,153 249,153 250,149 252,151" fill="#aab0d4"/>
<polygon points="266,137 266,139 269,142 271,144 273,144 275,142 275,135 273,134 266,135" fill="#aab0d4"/>
<polygon points="259,156 255,154 252,151 254,150 259,155" fill="#e8dad6"/>
<polygon points="252,156 252,158 250,160 249,158 250,154" fill="#aab0d4"/>
<polygon points="248,166 244,161 240,159 235,159 235,160 234,162 244,169 247,169 250,169 249,167" fill="#c0c0dc"/>
<polygon points="245,155 243,154 240,153 241,150 241,150 244,152 245,153" fill="#c0c0dc"/>
<polygon points="248,145 244,142 244,138 251,141 251,144" fill="#d6cad8"/>
<polygon points="283,156 277,154 279,150 281,150 282,150" fill="#aab0d4"/>
<polygon points="259,155 260,153 258,150 253,146 254,150" fill="#aab0d4"/>
<polygon points="276,156 276,154 276,153 266,147 266,147 272,155" fill="#aab0d4"/>
<polygon points="244,138 238,138 238,139 239,140 244,142 244,138" fill="#d6b8ac"/>
<polygon points="266,153 268,155 268,155 270,155 272,155 266,147 263,147 264,150" fill="#c88c74"/>
<polygon points="248,166 244,161 245,156 249,158 250,160 251,161" fill="#d6b8ac"/>
<polygon points="279,143 275,142 273,144 277,146 280,145" fill="#e8dad6"/>
<polygon points="279,138 279,143 279,143 275,142 275,135 277,136" fill="#aab0d4"/>
<polygon points="274,147 279,150 277,154 276,154 276,153" fill="#e8dad6"/>
<polygon points="235,144 232,139 238,139 239,140 240,144 237,145" fill="#aab0d4"/>
<polygon points="245,156 244,161 240,159 240,157 243,154 245,155" fill="#d8aa92"/>
<polygon points="281,150 279,150 274,147 271,144 273,144 277,146" fill="#e8dad6"/>
<polygon points="282,150 281,150 277,146 280,145 282,146 282,150" fill="#d6cad8"/>
<polygon points="258,150 259,147 253,146 253,146" fill="#aab0d4"/>
<polygon points="245,147 245,147 242,148 245,149 246,149" fill="#aab0d4"/>
<polygon points="249,153 245,153 244,152 245,149 246,149" fill="#d6cad8"/>
<polygon points="263,147 261,144 255,140 251,140 251,141 251,144 253,146 259,147" fill="#d8aa92"/>
<polygon points="258,158 258,159 254,160 252,158 252,156" fill="#aab0d4"/>
<polygon points="349,233 349,235 349,235 353,234 353,233 352,232" fill="#c0c0dc"/>
<polygon points="361,260 362,261 361,262 356,265 353,265 352,262 356,260" fill="#d6b8ac"/>
<polygon points="365,236 360,236 362,233 367,234 367,235" fill="#c0c0dc"/>
<polygon points="332,259 332,257 332,257 328,256 328,256 320,264 322,266 325,266" fill="#aab0d4"/>
<polygon points="365,228 362,229 362,233 367,234 369,231 368,229" fill="#d6b8ac"/>
<polygon points="366,227 377,224 377,224 372,228 368,229 365,228" fill="#aab0d4"/>
<polygon points="365,207 365,209 370,208 374,205 373,203 371,203 370,203" fill="#d6b8ac"/>
<polygon points="364,216 366,220 366,221 362,225 358,220 360,218" fill="#d6b8ac"/>
<polygon points="374,234 375,232 372,231 369,231 367,234 367,235 367,235" fill="#c0c0dc"/>
<polygon points="355,258 353,257 348,259 348,260 349,262 352,262 356,260" fill="#e8dad6"/>
<polygon points="355,258 356,260 361,260 362,259 361,256 357,256" fill="#e8dad6"/>
<polygon points="339,265 340,263 348,260 349,262 346,264 341,266" fill="#d6b8ac"/>
<polygon points="346,245 346,245 344,247 342,246 341,246 345,243" fill="#c0c0dc"/>
<polygon points="335,260 331,268 328,269 325,266 332,259" fill="#d6cad8"/>
<polygon points="339,256 332,257 332,259 335,260 339,260 339,260" fill="#aab0d4"/>
<polygon points="373,220 372,219 371,217 371,216 376,215 377,216" fill="#e8dad6"/>
<polygon points="346,245 346,245 349,246 353,241 351,240" fill="#d6cad8"/>
<polygon points="369,223 366,221 372,219 373,220 373,220" fill="#d6cad8"/>
<polygon points="362,259 366,255 365,253 361,253 361,256" fill="#aab0d4"/>
<polygon points="333,268 331,268 335,260 339,260 340,263 339,265" fill="#aab0d4"/>
<polygon points="350,220 349,220 347,222 349,228 351,227 352,226 350,220" fill="#d6b8ac"/>
<polygon points="365,236 360,236 359,236 359,240 360,240 365,237" fill="#e8dad6"/>
<polygon points="364,216 365,215 369,214 371,216 371,217 366,220" fill="#e8dad6"/>
<polygon points="376,197 378,198 378,199 373,203 371,203" fill="#d6b8ac"/>
<polygon points="372,211 370,208 374,205 377,206 377,207 372,211" fill="#d6b8ac"/>
<polygon points="360,218 356,214 350,220 350,220 357,221 358,220" fill="#d6b8ac"/>
<polygon points="340,241 342,241 343,241 345,243 341,246 338,246 340,242" fill="#c0c0dc"/>
<polygon points="331,246 331,247 335,249 336,249 337,248 338,246 340,242" fill="#d8aa92"/>
<polygon points="369,201 369,200 375,197 375,197 376,197 371,203 370,203" fill="#d6cad8"/>
<polygon points="362,245 356,245 358,240 359,240 360,240 363,243" fill="#e8dad6"/>
<polygon points="366,221 366,221 369,223 368,225 366,227 365,228 362,229 362,229 361,228 362,225" fill="#aab0d4"/>
<polygon points="355,258 353,257 357,251 359,250 360,251 357,256" fill="#c0c0dc"/>
<polygon points="363,205 361,204 362,201 365,199 369,200 369,201" fill="#d6cad8"/>
<polygon points="357,256 360,251 361,253 361,256" fill="#aab0d4"/>
<polygon points="362,247 359,250 360,251 361,253 365,253 367,251 367,247" fill="#cc9478"/>
<polygon points="362,245 356,245 353,246 351,248 350,251 357,251 359,250 362,247" fill="#aab0d4"/>
<polygon points="337,239 340,241 342,241 344,237 344,236 342,234 339,234" fill="#c28468"/>
<polygon points="346,245 351,240 350,239 349,239 343,241 345,243" fill="#c0c0dc"/>
<polygon points="374,236 368,238 367,235 374,234 374,236" fill="#d6b8ac"/>
<polygon points="368,225 366,227 377,224 377,224 376,223 376,223" fill="#aab0d4"/>
<polygon points="353,234 353,234 354,236 350,239 349,239 349,235" fill="#e8dad6"/>
<polygon points="372,211 370,213 377,213 377,212 372,211" fill="#c0c0dc"/>
<polygon points="349,233 349,235 344,237 344,236 348,233" fill="#d6cad8"/>
<polygon points="363,205 369,201 370,203 365,207" fill="#d6cad8"/>
<polygon points="341,251 332,257 332,257 339,256 342,252" fill="#d6cad8"/>
<polygon points="347,229 342,234 344,236 348,233" fill="#aab0d4"/>
<polygon points="366,239 364,243 363,243 360,240 365,237" fill="#c0c0dc"/>
<polygon points="347,253 346,256 348,259 353,257 357,251 350,251" fill="#c0c0dc"/>
<polygon points="361,228 362,229 357,233 353,234 353,234 353,233 360,228" fill="#c28468"/>
<polygon points="354,228 352,232 353,233 360,228" fill="#e8dad6"/>
<polygon points="358,220 357,221 352,226 351,227 354,228 360,228 361,228 362,225" fill="#d6b8ac"/>
<polygon points="342,246 337,248 338,246 341,246" fill="#c0c0dc"/>
<polygon points="342,252 339,256 339,260 346,256 347,253" fill="#d6cad8"/>
<polygon points="368,225 376,223 373,220 369,223" fill="#d6b8ac"/>
<polygon points="346,245 349,246 351,248 350,251 347,253 342,252 341,251 340,251 344,247" fill="#d6cad8"/>
<polygon points="374,236 372,240 364,243 366,239 368,238" fill="#d6b8ac"/>
<polygon points="368,238 366,239 365,237 365,236 367,235 367,235" fill="#e8dad6"/>
<polygon points="372,211 377,207 382,209 377,212" fill="#d6b8ac"/>
<polygon points="341,251 332,257 328,256 335,249 336,249 340,251" fill="#c0c0dc"/>
<polygon points="366,221 366,221 372,219 371,217 366,220" fill="#aab0d4"/>
<polygon points="344,237 342,241 343,241 349,239 349,235 349,235" fill="#d6b8ac"/>
<polygon points="354,241 354,241 353,241 349,246 351,248 353,246" fill="#c0c0dc"/>
<polygon points="346,256 348,259 348,260 340,263 339,260 339,260" fill="#cc9478"/>
<polygon points="360,236 362,233 362,229 362,229 357,233 355,236 356,236 359,236" fill="#d6cad8"/>
<polygon points="350,220 357,221 352,226" fill="#d6cad8"/>
<polygon points="355,236 354,236 350,239 351,240 353,241 354,241 356,236" fill="#c0c0dc"/>
<polygon points="352,262 353,265 348,269 346,264 349,262" fill="#c0c0dc"/>
<polygon points="372,211 370,208 365,209 364,209 365,215 369,214 370,213" fill="#aab0d4"/>
<polygon points="370,213 369,214 371,216 376,215 377,213" fill="#e8dad6"/>
<polygon points="363,205 361,204 358,206 362,210 364,209 365,209 365,207" fill="#c0c0dc"/>
<polygon points="358,240 354,241 353,246 356,245" fill="#aab0d4"/>
<polygon points="359,236 359,240 358,240 354,241 354,241 356,236" fill="#c0c0dc"/>
<polygon points="355,236 354,236 353,234 357,233" fill="#cc9478"/>
<polygon points="344,247 342,246 337,248 336,249 340,251" fill="#d6cad8"/>
<polygon points="351,227 354,228 352,232 349,233 348,233 347,229 348,228 349,228" fill="#c28468"/>
<polygon points="364,216 365,215 364,209 362,210 356,213 356,214 360,218" fill="#d8aa92"/>
<polygon points="335,214 330,216 330,219 332,222 332,222" fill="#d6b8ac"/>
<polygon points="333,196 337,198 337,199 333,202 329,199 330,197 332,196" fill="#e8dad6"/>
<polygon points="321,183 322,188 324,189 326,186 326,184 324,182" fill="#aab0d4"/>
<polygon points="318,217 319,215 322,214 324,217 324,220 322,222" fill="#d6cad8"/>
<polygon points="323,239 325,237 327,241 326,244 325,245 323,246 322,245 321,243" fill="#d6cad8"/>
<polygon points="352,212 353,211 355,213 351,219 351,219 348,220 348,219 349,214 349,213" fill="#cc9478"/>
<polygon points="327,234 330,239 331,238 332,236 329,232" fill="#e8dad6"/>
<polygon points="339,221 336,226 338,229 339,229 341,221 341,220" fill="#e8dad6"/>
<polygon points="333,239 331,246 326,244 327,241 330,239 331,238" fill="#aab0d4"/>
<polygon points="347,195 348,193 347,191 345,190 344,191 338,196 337,198 337,199 340,200" fill="#d6b8ac"/>
<polygon points="335,193 336,192 337,189 335,188 330,189 330,189 332,190" fill="#c0c0dc"/>
<polygon points="353,194 358,194 356,192 354,191 351,192" fill="#d6cad8"/>
<polygon points="357,198 355,198 353,194 358,194 358,194" fill="#aab0d4"/>
<polygon points="338,196 337,198 333,196 335,193 336,192 337,193" fill="#c0c0dc"/>
<polygon points="338,208 336,210 329,211 330,210 334,205" fill="#aab0d4"/>
<polygon points="344,191 338,196 337,193 342,190" fill="#aab0d4"/>
<polygon points="317,226 315,224 318,218 318,217 322,222 322,223 321,223" fill="#d6b8ac"/>
<polygon points="335,214 330,216 329,215 329,215 329,211 329,211 336,210 335,214" fill="#d6b8ac"/>
<polygon points="357,198 355,198 353,198 350,200 351,205 357,199 357,199 357,198" fill="#d6cad8"/>
<polygon points="319,228 321,227 323,225 323,224 322,223 321,223" fill="#aab0d4"/>
<polygon points="327,252 331,246 332,246 334,250 330,256 327,256 327,252" fill="#d6cad8"/>
<polygon points="330,177 328,177 324,182 326,184 330,183 331,182 331,177" fill="#d8aa92"/>
<polygon points="330,219 332,222 331,226 330,227 326,224 328,220" fill="#aab0d4"/>
<polygon points="349,209 352,212 353,211 354,208 351,205 351,205" fill="#c0c0dc"/>
<polygon points="332,186 336,184 336,184 337,181 334,184" fill="#e8dad6"/>
<polygon points="322,222 324,220 325,220 328,220 326,224 323,224 322,223" fill="#c0c0dc"/>
<polygon points="332,222 332,222 331,226 336,226 339,221 339,221 336,220" fill="#aab0d4"/>
<polygon points="348,209 349,209 352,212 349,213 349,213" fill="#c0c0dc"/>
<polygon points="347,195 340,200 340,206 341,206 345,203 347,200" fill="#c0c0dc"/>
<polygon points="330,183 331,187 332,186 334,184 334,182 331,182" fill="#c0c0dc"/>
<polygon points="348,209 344,210 344,210 349,213 348,209" fill="#aab0d4"/>
<polygon points="326,244 325,245 327,252 331,246 331,246" fill="#d6cad8"/>
<polygon points="339,241 332,246 331,246 331,246 333,239 337,239" fill="#d6cad8"/>
<polygon points="325,245 327,252 327,252 323,251 322,249 323,246" fill="#c0c0dc"/>
<polygon points="322,233 323,231 325,229 329,228 329,232 329,232 327,234 325,236 323,234" fill="#e8dad6"/>
<polygon points="321,239 323,239 325,237 325,236 323,234 321,237 320,238" fill="#aab0d4"/>
<polygon points="343,216 343,218 348,219 349,214" fill="#e8dad6"/>
<polygon points="326,216 325,212 325,212 328,211 329,211 329,215" fill="#c0c0dc"/>
<polygon points="322,193 324,195 320,200 319,200 316,198 316,197 316,196 317,195" fill="#c0c0dc"/>
<polygon points="337,189 339,187 340,185 336,184 336,184 335,188" fill="#d6cad8"/>
<polygon points="329,232 337,231 337,232 332,236 329,232" fill="#d6b8ac"/>
<polygon points="357,199 351,205 351,205 354,208 355,207" fill="#c0c0dc"/>
<polygon points="344,223 341,228 339,229 341,221" fill="#d6b8ac"/>
<polygon points="330,189 331,188 326,186 324,189 326,193 327,193 330,189" fill="#d6b8ac"/>
<polygon points="333,204 328,205 330,210 334,205" fill="#d6cad8"/>
<polygon points="356,213 361,210 359,205 355,207 354,208 353,211 355,213" fill="#c0c0dc"/>
<polygon points="325,212 325,208 318,211 317,212 319,215 322,214 325,212" fill="#d6cad8"/>
<polygon points="344,191 345,190 344,182 342,182 340,185 339,187 342,190" fill="#aab0d4"/>
<polygon points="319,229 320,229 319,233 317,234 315,233 315,230 316,229" fill="#cc9478"/>
<polygon points="325,212 325,208 325,207 328,211" fill="#d6b8ac"/>
<polygon points="329,211 329,211 330,210 328,205 327,205 325,207 328,211" fill="#d6cad8"/>
<polygon points="331,177 331,182 334,182 337,181 339,177 339,176 336,175 336,174" fill="#c0c0dc"/>
<polygon points="319,200 313,208 312,208 310,204 316,198" fill="#d6cad8"/>
<polygon points="336,215 339,215 339,221 336,220" fill="#c0c0dc"/>
<polygon points="330,216 330,219 328,220 325,220 329,215" fill="#d6cad8"/>
<polygon points="353,198 350,193 351,192 353,194 355,198" fill="#d6b8ac"/>
<polygon points="342,190 339,187 337,189 336,192 337,193" fill="#d6cad8"/>
<polygon points="348,209 348,207 350,206 351,205 349,209 348,209" fill="#aab0d4"/>
<polygon points="347,222 344,223 341,228 346,229 348,229 348,228" fill="#aab0d4"/>
<polygon points="347,195 348,193 350,193 353,198 350,200 347,200" fill="#c28468"/>
<polygon points="338,229 337,231 329,232 329,228 330,227 331,226 336,226" fill="#d6cad8"/>
<polygon points="329,199 326,203 322,203 320,200 324,195 326,193 327,193 330,197" fill="#aab0d4"/>
<polygon points="322,233 323,231 321,228 320,229 319,233 321,233" fill="#d6b8ac"/>
<polygon points="348,220 348,219 343,218 341,220 341,221 344,223 347,222" fill="#c0c0dc"/>
<polygon points="322,193 317,195 320,191" fill="#d6cad8"/>
<polygon points="323,224 323,225 325,229 329,228 330,227 326,224" fill="#c88c74"/>
<polygon points="348,209 348,207 343,209 344,210" fill="#d6cad8"/>
<polygon points="334,182 337,181 337,181 334,184" fill="#cc9478"/>
<polygon points="342,182 340,185 336,184 337,181 337,181 339,177 342,180" fill="#aab0d4"/>
<polygon points="340,206 338,208 334,205 333,204 333,202 337,199 340,200" fill="#c0c0dc"/>
<polygon points="319,228 321,223 317,226 316,229 319,229" fill="#c0c0dc"/>
<polygon points="329,215 329,215 326,216 324,217 324,220 325,220" fill="#d6cad8"/>
<polygon points="330,189 331,188 331,187 332,186 336,184 335,188" fill="#c0c0dc"/>
<polygon points="344,210 343,209 341,206 340,206 338,208 336,210 335,214 336,215 339,215 342,214 344,210" fill="#e8dad6"/>
<polygon points="335,193 333,196 332,196 332,190" fill="#d6cad8"/>
<polygon points="330,183 326,184 326,186 331,188 331,187" fill="#e8dad6"/>
<polygon points="343,216 343,218 341,220 339,221 339,221 339,215 342,214" fill="#e8dad6"/>
<polygon points="350,206 345,203 341,206 343,209 348,207" fill="#c0c0dc"/>
<polygon points="322,193 324,195 326,193 324,189 322,188 320,191 320,191" fill="#c28468"/>
<polygon points="319,200 320,200 322,203 318,211 317,212 315,212 313,208" fill="#aab0d4"/>
<polygon points="325,207 327,205 326,203 322,203 318,211 325,208" fill="#e8dad6"/>
<polygon points="332,190 330,189 327,193 330,197 332,196" fill="#c0c0dc"/>
<polygon points="357,199 355,207 359,205 361,202 361,202 357,199" fill="#e8dad6"/>
<polygon points="338,234 337,232 332,236 331,238 333,239 337,239" fill="#aab0d4"/>
<polygon points="357,198 357,199 361,202 365,198 364,195" fill="#aab0d4"/>
<polygon points="342,234 338,234 337,232 337,231 338,229 339,229 341,228 346,229" fill="#d6b8ac"/>
<polygon points="325,236 325,237 327,241 330,239 327,234" fill="#c0c0dc"/>
<polygon points="323,225 325,229 323,231 321,228 321,227" fill="#d6cad8"/>
<polygon points="326,216 324,217 322,214 325,212" fill="#e8dad6"/>
<polygon points="350,206 345,203 347,200 350,200 351,205 351,205 351,205" fill="#d6b8ac"/>
<polygon points="333,202 329,199 326,203 327,205 328,205 333,204" fill="#c0c0dc"/>
<polygon points="344,210 342,214 343,216 349,214 349,213 349,213" fill="#d6b8ac"/>
<polygon points="319,228 321,227 321,228 320,229 319,229" fill="#d6b8ac"/>
<polygon points="335,214 332,222 336,220 336,215 335,214" fill="#c0c0dc"/>
<polygon points="357,198 358,194 360,192 363,192 363,192 364,195 357,198" fill="#aab0d4"/>
<polygon points="270,193 268,192 264,193 264,193 265,196 266,197 275,197" fill="#aab0d4"/>
<polygon points="272,179 278,181 279,183 270,184" fill="#aab0d4"/>
<polygon points="270,178 272,179 270,184 270,184 269,184 265,178 270,177" fill="#d6b8ac"/>
<polygon points="285,206 285,206 287,205 290,204 290,209" fill="#c0c0dc"/>
<polygon points="278,160 281,161 284,157 284,156 282,155 277,155 276,155 277,156" fill="#aab0d4"/>
<polygon points="302,187 302,186 296,183 294,183 297,186" fill="#e8dad6"/>
<polygon points="278,160 281,161 282,162 284,165 274,166 274,166 274,164 277,160" fill="#c0c0dc"/>
<polygon points="277,192 280,192 282,188 281,187 275,189" fill="#d6cad8"/>
<polygon points="297,186 294,183 293,183 292,185 293,189 297,189" fill="#d6cad8"/>
<polygon points="301,194 303,198 295,197 296,195 299,193" fill="#d6b8ac"/>
<polygon points="284,176 281,176 282,178 287,179 285,176" fill="#aab0d4"/>
<polygon points="282,162 284,165 284,165 289,167 291,166 286,161" fill="#d6cad8"/>
<polygon points="322,170 314,168 313,169 314,173 319,175 323,171 323,171" fill="#d6b8ac"/>
<polygon points="275,197 275,197 266,197 269,202 269,202 275,199" fill="#d6cad8"/>
<polygon points="281,168 276,167 277,169 282,172 284,172" fill="#e8dad6"/>
<polygon points="270,192 273,188 275,189 277,192 277,192" fill="#d6cad8"/>
<polygon points="301,174 305,171 308,171 309,172 310,176 306,177 304,177 301,175" fill="#c0c0dc"/>
<polygon points="309,192 317,197 318,199 311,198 308,195" fill="#d6b8ac"/>
<polygon points="302,184 302,183 304,179 305,180 307,183 308,185" fill="#aab0d4"/>
<polygon points="298,182 296,183 294,183 293,183 290,180 291,179 295,178 297,181" fill="#c0c0dc"/>
<polygon points="310,182 305,180 304,179 304,179 304,177 306,177 313,181" fill="#d6cad8"/>
<polygon points="321,181 319,181 318,179 319,175 323,171 329,177 329,178" fill="#d6b8ac"/>
<polygon points="313,190 315,189 320,191 320,191 315,192" fill="#aab0d4"/>
<polygon points="309,192 317,197 317,194 315,192 313,190 309,190 308,191" fill="#d6cad8"/>
<polygon points="299,191 299,193 296,195 293,190 293,189 297,189 297,189" fill="#d6cad8"/>
<polygon points="308,191 309,190 308,189 302,187 301,188 302,192 303,192" fill="#aab0d4"/>
<polygon points="310,183 310,183 310,186 316,185" fill="#c0c0dc"/>
<polygon points="287,185 292,185 293,183 290,180 288,180 285,183" fill="#aab0d4"/>
<polygon points="285,206 283,203 284,203 286,204 287,205" fill="#c88c74"/>
<polygon points="290,171 296,174 290,177 287,172" fill="#d6cad8"/>
<polygon points="273,176 276,178 277,174 276,173 272,174" fill="#aab0d4"/>
<polygon points="309,192 308,195 305,196 303,193 303,192 308,191" fill="#d6b8ac"/>
<polygon points="302,187 302,186 302,184 308,185 309,187 308,189 302,187" fill="#aab0d4"/>
<polygon points="281,168 276,167 274,166 284,165 284,165 283,167" fill="#d6cad8"/>
<polygon points="290,177 296,174 298,175 295,178 291,179" fill="#d6cad8"/>
<polygon points="279,203 275,204 269,202 275,199" fill="#c88c74"/>
<polygon points="284,176 281,174 279,175 280,176 281,176" fill="#aab0d4"/>
<polygon points="277,197 275,197 275,199 279,203 279,203 280,201 280,197" fill="#aab0d4"/>
<polygon points="277,197 277,192 277,192 280,192 285,197 280,197" fill="#aab0d4"/>
<polygon points="287,159 288,159 291,158 287,154 284,156 284,157" fill="#c28468"/>
<polygon points="283,167 284,165 289,167 290,169 290,171 287,172 286,172 285,172" fill="#d6b8ac"/>
<polygon points="285,176 286,172 287,172 290,177 291,179 290,180 288,180 287,179" fill="#aab0d4"/>
<polygon points="298,182 302,183 304,179 304,179 297,181" fill="#c0c0dc"/>
<polygon points="282,188 286,190 288,189 287,185 285,183 280,183 281,187" fill="#d6cad8"/>
<polygon points="279,203 279,203 281,204 283,203 284,203 284,203 280,201" fill="#e8dad6"/>
<polygon points="277,197 277,192 270,192 270,193 275,197 275,197" fill="#aab0d4"/>
<polygon points="280,197 285,197 286,197 285,201 284,203 280,201" fill="#d6b8ac"/>
<polygon points="289,198 291,198 293,198 295,197 296,195 293,190 288,189 286,190" fill="#c0c0dc"/>
<polygon points="304,165 299,167 304,169" fill="#e8dad6"/>
<polygon points="302,186 296,183 298,182 302,183 302,184" fill="#d6b8ac"/>
<polygon points="293,164 288,159 291,158 293,158 295,159 295,164 295,164" fill="#aab0d4"/>
<polygon points="320,191 320,191 315,192 317,194 318,193" fill="#c0c0dc"/>
<polygon points="280,176 277,179 276,178 277,174 279,175" fill="#c28468"/>
<polygon points="270,192 273,188 272,187 268,189 268,192 270,193" fill="#d6cad8"/>
<polygon points="306,204 305,202 304,199 309,199 311,203 310,205" fill="#d6b8ac"/>
<polygon points="277,169 276,173 276,173 277,174 279,175 281,174 282,172" fill="#e8dad6"/>
<polygon points="287,205 286,204 285,201 286,197 289,198 291,198 290,204 290,204" fill="#aab0d4"/>
<polygon points="286,161 291,166 293,165 287,161" fill="#d8aa92"/>
<polygon points="286,204 284,203 284,203 285,201" fill="#aab0d4"/>
<polygon points="277,169 276,173 272,170 272,166 274,166 274,166 276,167" fill="#e8dad6"/>
<polygon points="303,193 301,194 299,193 299,191 302,192 303,192" fill="#c0c0dc"/>
<polygon points="296,201 293,198 291,198 290,204 295,208 297,207 298,204" fill="#aab0d4"/>
<polygon points="284,172 282,172 281,174 284,176 285,176 286,172 285,172" fill="#c28468"/>
<polygon points="289,167 291,166 293,165 293,164 295,164 298,167 298,170 290,169" fill="#d6cad8"/>
<polygon points="316,185 316,185 315,189 313,190 309,190 308,189 309,187 310,186 316,185" fill="#e8dad6"/>
<polygon points="316,185 315,189 320,191 320,190" fill="#d6b8ac"/>
<polygon points="309,172 312,173 314,177 310,176" fill="#aab0d4"/>
<polygon points="281,176 280,176 277,179 278,181 282,178" fill="#c28468"/>
<polygon points="278,207 281,208 282,206 279,204" fill="#c28468"/>
<polygon points="270,178 272,179 278,181 278,181 277,179 276,178 273,176" fill="#aab0d4"/>
<polygon points="301,174 298,170 290,169 290,171 296,174 298,175 301,175" fill="#aab0d4"/>
<polygon points="287,179 288,180 285,183 280,183 279,183 278,181 278,181 282,178" fill="#aab0d4"/>
<polygon points="308,171 310,170 313,169 314,173 312,173 309,172" fill="#aab0d4"/>
<polygon points="303,193 301,194 303,198 303,198 305,196" fill="#c0c0dc"/>
<polygon points="275,189 273,188 272,187 270,184 270,184 279,183 280,183 281,187" fill="#aab0d4"/>
<polygon points="314,177 312,173 314,173 319,175 318,179" fill="#aab0d4"/>
<polygon points="305,202 304,199 303,198 303,198 295,197 293,198 296,201" fill="#d6cad8"/>
<polygon points="305,206 304,206 298,204 296,201 305,202 306,204" fill="#aab0d4"/>
<polygon points="305,164 305,164 305,164 304,165 299,167 298,167 295,164 295,164 304,163" fill="#d6cad8"/>
<polygon points="313,181 306,177 310,176 314,177 318,179 319,181 319,181" fill="#d6b8ac"/>
<polygon points="308,171 310,170 305,164 304,165 304,169 305,171" fill="#d6cad8"/>
<polygon points="285,206 285,206 283,203 281,204 285,206" fill="#aab0d4"/>
<polygon points="297,189 297,189 297,186 302,187 302,187 301,188" fill="#c0c0dc"/>
<polygon points="301,174 298,170 298,167 299,167 304,169 305,171" fill="#c0c0dc"/>
<polygon points="280,192 285,197 286,197 289,198 286,190 282,188" fill="#aab0d4"/>
<polygon points="299,191 297,189 301,188 302,192" fill="#d6cad8"/>
<polygon points="281,161 284,157 287,159 287,161 286,161 282,162" fill="#c0c0dc"/>
<polygon points="285,206 281,204 279,203 279,204 282,206 285,207" fill="#aab0d4"/>
<polygon points="309,199 311,203 319,200 318,199 311,198" fill="#aab0d4"/>
<polygon points="308,195 311,198 309,199 304,199 303,198 305,196" fill="#c0c0dc"/>
<polygon points="310,183 310,183 307,183 305,180 310,182" fill="#d6cad8"/>
<polygon points="281,168 284,172 285,172 283,167" fill="#e8dad6"/>
<polygon points="310,183 307,183 308,185 309,187 310,186" fill="#d6b8ac"/>
<polygon points="288,189 293,190 293,189 292,185 287,185" fill="#d6cad8"/>
<polygon points="287,161 293,165 293,164 288,159 287,159" fill="#d6b8ac"/>
<polygon points="298,204 297,207 300,209 304,208 304,206" fill="#c0c0dc"/>
<polygon points="297,181 295,178 298,175 301,175 304,177 304,179" fill="#aab0d4"/>
<polygon points="318,184 323,189 320,190 316,185 316,185" fill="#aab0d4"/>
<polygon points="310,183 316,185 316,185 318,184 319,181 313,181 310,182" fill="#c0c0dc"/>
<path d="M348,191L351,192M348,191L348,190M354,183L348,190M354,183L356,185M356,185L354,191M354,191L352,192M351,192L352,192M356,185L358,186M354,191L356,192M358,186L356,192M402,142L400,146M402,142L404,141M402,142L397,138M398,136L397,138M404,141L404,133M400,146L399,148M397,139L397,138M397,139L395,144M399,148L397,149M397,149L395,147M395,144L395,147M348,191L347,192M347,192L345,191M348,190L347,181M345,191L344,182M344,182L347,181M354,183L354,181M347,181L348,180M348,180L353,180M354,181L353,180M387,165L387,163M387,165L385,167M384,167L385,167M384,167L381,161M381,161L381,160M381,160L383,157M387,163L383,157M387,163L389,159M385,155L383,156M385,155L388,158M383,157L383,156M388,158L389,159M370,166L373,165M370,166L369,170M372,176L370,174M372,176L372,175M372,175L374,173M369,170L370,174M374,173L373,165M384,167L384,168M381,161L379,169M379,169L384,168M381,200L380,200M380,200L380,199M380,199L377,198M377,198L375,196M377,198L377,198M374,196L375,196M369,201L373,197M373,197L374,196M377,188L377,187M377,188L375,194M377,187L376,186M375,194L374,193M374,193L374,188M376,186L374,188M374,173L377,171M373,165L374,164M377,170L377,171M377,170L377,164M374,164L377,164M381,160L379,160M379,169L377,170M377,164L379,160M397,153L397,149M373,154L378,160M373,154L375,153M378,160L381,154M381,154L375,153M365,178L365,177M365,178L362,183M365,177L363,175M363,175L361,176M361,176L360,178M360,178L362,183M362,183L362,183M359,186L358,186M359,186L362,183M356,177L354,181M356,177L360,178M342,181L342,181M342,181L339,176M339,176L343,172M342,181L347,176M343,172L347,176M352,175L352,172M352,175L348,176M348,176L348,176M348,176L352,172M352,172L352,172M348,180L348,176M353,180L352,175M344,182L342,181M347,176L347,176M347,176L348,176M353,167L349,165M353,167L353,171M353,171L352,172M352,172L349,171M349,165L349,171M343,172L344,170M344,170L344,169M347,176L348,173M344,169L348,173M349,171L348,173M353,167L354,166M354,166L354,161M349,165L348,165M381,200L386,199M390,188L389,184M390,188L390,191M390,191L387,194M386,192L387,194M386,192L388,183M388,183L388,183M388,183L389,184M393,181L389,184M393,181L392,177M393,175L392,177M373,197L371,195M375,194L375,196M375,194L375,194M374,193L372,193M372,193L371,195M369,200L367,198M369,200L369,201M369,201L369,201M367,198L369,195M369,195L371,195M386,199L386,197M380,199L381,195M386,197L382,194M381,195L382,194M386,192L383,190M386,197L387,194M382,194L383,190M383,187L388,183M383,187L383,189M383,189L383,190M382,178L386,177M382,178L381,182M381,182L388,183M386,177L387,178M387,178L388,183M383,187L381,185M381,185L381,182M388,183L388,183M387,165L388,166M385,167L386,177M388,166L390,173M390,173L389,174M389,174L387,178M392,177L389,174M382,172L379,173M382,172L381,177M379,173L381,178M381,177L381,178M384,168L382,172M377,171L379,173M382,178L381,177M372,175L375,181M375,181L376,181M376,181L381,178M377,187L381,185M376,186L376,181M364,185L365,185M364,185L362,183M365,178L367,182M365,185L367,182M370,186L368,184M370,186L370,180M370,180L368,181M368,184L368,181M372,176L370,180M370,174L365,177M367,182L368,181M359,186L360,192M356,192L357,195M360,192L357,195M364,185L364,186M364,186L363,192M360,192L363,192M364,186L368,190M368,190L363,193M363,192L363,193M391,136L392,134M398,136L392,134M387,140L387,138M387,140L388,141M387,138L391,136M388,141L391,141M391,141L391,137M391,137L391,136M391,136L391,136M392,144L389,146M392,144L391,141M388,146L389,146M388,146L388,141M397,139L391,137M395,144L392,144M370,166L369,160M369,170L367,170M369,160L366,162M367,170L366,162M359,159L357,165M359,159L361,159M361,159L363,162M363,162L359,165M359,165L357,165M354,166L357,165M357,158L354,158M357,158L359,159M354,161L354,158M357,165L357,165M369,160L371,156M364,151L371,156M364,151L361,159M366,162L364,163M364,163L363,162M363,165L364,163M363,165L361,166M361,166L359,165M397,153L395,158M396,161L395,158M390,150L389,148M390,150L389,152M389,148L386,152M389,152L389,152M389,152L386,152M386,152L386,152M393,150L390,150M393,150L395,147M389,146L389,148M393,150L391,156M391,156L389,152M391,156L391,158M391,158L389,159M388,158L389,152M385,155L386,152M387,140L383,145M382,145L383,145M348,165L348,164M344,169L348,164M348,164L348,164M391,165L391,165M391,165L392,158M391,165L392,158M392,158L392,158M388,166L391,165M391,158L392,158M395,158L392,158M390,173L393,171M391,165L392,165M393,171L392,165M396,161L396,162M396,162L392,165M375,181L370,186M374,188L372,189M372,189L370,186M372,193L371,191M372,189L371,191M369,195L369,193M371,191L369,193M370,186L370,186M370,186L370,186M379,194L378,192M379,194L380,194M380,194L381,190M381,190L378,191M378,192L378,191M377,198L379,194M375,194L378,192M381,195L380,194M383,189L381,190M377,188L378,191M365,185L365,185M365,185L369,186M365,185L368,188M369,186L368,188M365,185L365,185M368,184L365,185M370,186L369,186M368,190L368,190M368,190L368,188M368,190L369,193M365,198L364,194M363,193L364,194M367,198L365,198M367,170L364,171M363,165L363,168M363,168L364,171M363,175L364,172M364,172L364,171M358,168L359,168M358,168L356,172M359,168L360,170M356,172L357,174M357,174L360,172M360,172L360,171M360,171L360,170M361,166L359,168M357,165L358,168M353,171L356,172M363,168L360,170M356,177L357,174M361,176L360,172M364,172L360,171M385,147L385,149M385,147L384,146M384,146L381,152M385,149L382,153M381,152L382,153M382,153L382,153M388,146L385,147M386,152L385,149M383,145L384,146M382,145L380,146M379,148L381,152M379,148L380,147M380,147L380,146M383,156L382,153M381,154L382,153M375,153L379,148M379,160L378,160M394,172L394,172M394,172L396,169M393,175L394,172M393,171L394,172M396,162L396,169M380,147L377,144M376,144L373,154M373,154L373,154M373,154L373,154M377,144L376,144M373,154L373,154M371,156L373,154M374,164L373,154M379,208L381,210M379,208L376,214M379,217L381,210M379,217L376,216M376,215L376,216M376,215L376,214M376,214L376,214M378,226L379,224M378,226L379,226M386,221L379,226M386,221L386,219M386,219L385,219M385,219L379,224M379,208L378,207M378,207L380,200M381,210L382,210M382,210L384,209M380,200L381,200M384,209L381,200M361,262L362,261M362,261L363,261M373,251L370,252M373,251L373,250M373,250L372,246M372,246L366,247M366,247L367,250M370,252L367,250M366,247L364,245M367,250L365,254M373,259L373,258M373,259L374,264M374,264L378,258M373,258L376,257M376,257L378,258M373,251L373,258M373,250L377,250M377,250L377,251M377,251L376,257M377,250L379,245M372,246L372,241M372,241L378,243M378,243L379,245M376,206L375,205M378,207L376,206M382,213L384,218M382,213L381,218M381,218L384,218M386,219L387,217M387,217L384,209M382,210L382,213M385,219L384,218M384,209L384,209M379,217L380,218M380,218L381,218M379,224L380,218M384,209L387,206M386,199L381,200M386,199L388,201M387,206L388,201M372,241L372,241M364,245L366,242M366,242L372,241M363,261L364,260M365,254L365,255M364,260L365,255M373,234L372,227M373,234L369,229M369,229L372,227M373,226L372,227M389,246L389,248M389,246L384,240M384,240L383,242M383,242L384,245M389,248L384,245M380,245L383,242M380,245L383,250M384,245L383,250M377,251L380,253M379,245L380,245M380,253L383,251M383,251L383,250M378,258L379,258M380,253L381,255M381,255L379,258M379,258L379,259M375,205L377,198M380,199L377,198M380,200L380,199M377,198L377,198M373,237L372,238M373,235L373,234M373,235L373,237M375,234L373,235M375,234L379,237M378,243L379,237M372,241L372,238M369,254L368,255M369,254L371,259M368,255L368,258M368,258L370,260M370,260L371,259M370,252L369,254M365,255L368,255M373,259L371,259M364,260L368,258M375,224L374,225M375,224L374,222M378,226L375,224M378,226L375,234M373,226L374,225M378,226L378,226M376,216L374,222M390,244L389,246M390,244L390,239M384,240L384,238M390,239L387,236M387,236L384,238M379,237L382,236M382,236L384,238M379,226L382,229M382,236L382,229M389,248L389,248M383,251L388,252M388,252L389,248M389,248L397,250M387,236L388,231M382,229L386,228M388,231L386,228M386,221L387,222M386,228L387,222M397,252L397,250M381,261L385,259M386,261L386,260M385,259L386,260M381,255L385,259M379,259L381,261M388,252L388,252M388,252L386,260M386,261L387,262M393,262L396,256M391,254L396,255M396,255L396,256M388,252L391,254M397,252L396,255M335,145L336,142M335,145L333,147M336,142L333,140M333,140L328,141M328,141L328,143M328,143L333,147M330,158L330,150M333,147L330,150M333,138L329,136M329,136L329,134M333,140L333,138M328,141L326,140M326,140L329,136M328,143L324,147M330,150L325,150M324,147L325,150M330,158L330,158M330,158L329,163M306,137L311,134M306,137L306,138M306,138L303,139M302,134L303,139M306,138L309,143M309,143L307,144M307,144L300,147M300,145L300,147M300,145L302,139M302,139L303,139M319,155L324,152M319,155L319,157M324,152L326,159M319,157L320,160M320,160L322,160M326,159L322,160M324,147L322,147M322,147L318,151M325,150L324,152M318,151L319,155M330,158L326,159M311,134L315,137M309,143L310,142M310,142L315,137M328,165L329,170M328,165L322,169M322,169L322,170M322,170L322,172M322,172L325,173M325,173L329,170M329,163L328,165M322,160L322,169M320,160L320,160M322,170L319,169M320,160L319,160M319,169L319,160M277,137L273,133M299,145L296,140M299,145L300,145M302,139L299,138M296,140L299,138M302,134L301,135M301,135L299,138M315,169L314,168M314,168L309,170M319,169L315,169M319,160L313,165M313,165L314,168M319,157L316,157M320,160L312,160M316,157L312,160M318,151L315,151M312,153L315,151M312,153L311,156M311,156L311,156M316,157L311,156M307,151L306,153M307,151L300,149M306,153L301,151M300,149L301,151M299,148L300,147M299,148L300,149M307,151L307,151M307,151L307,144M318,144L313,145M318,144L321,145M321,146L314,147M321,146L321,145M314,147L313,146M313,146L313,145M322,147L321,146M315,151L314,147M326,140L324,140M324,140L321,145M312,153L309,151M309,151L313,146M307,151L309,151M310,142L313,145M324,140L322,138M318,144L320,138M322,138L320,138M322,138L325,134M315,137L316,137M320,138L316,137M295,153L293,157M295,153L295,152M295,152L288,153M288,153L290,158M293,157L290,158M308,160L309,164M308,160L311,159M311,159L311,160M311,160L310,164M310,164L309,164M311,156L310,156M311,156L311,159M310,156L308,160M308,160L308,160M312,160L311,160M313,165L310,164M309,170L308,170M308,170L308,164M308,164L309,164M303,162L302,161M303,162L307,158M302,161L304,156M307,158L307,157M307,157L304,156M304,156L304,156M310,156L307,157M307,160L308,160M307,160L307,158M306,153L304,156M300,155L304,156M300,155L298,156M304,156L299,159M298,156L297,159M297,159L299,159M301,151L300,155M304,156L304,156M299,148L297,149M295,153L298,156M297,149L295,152M302,161L299,159M293,157L295,160M295,160L297,159M316,136L324,133M316,137L316,136M325,134L324,133M277,137L278,137M284,156L281,155M278,137L279,137M279,137L285,136M286,135L285,136M299,145L294,145M297,149L292,148M294,145L292,147M292,148L292,147M308,164L306,165M284,156L288,153M288,153L287,149M281,155L283,150M283,150L287,149M288,153L288,153M292,148L288,149M287,149L288,149M295,160L294,164M280,145L282,147M282,147L281,149M283,150L281,149M288,149L287,144M286,144L282,147M286,144L287,144M280,144L279,142M280,144L284,143M284,140L280,140M284,140L284,143M280,140L279,142M280,145L280,144M286,144L284,143M279,137L280,140M285,136L285,137M285,138L285,137M285,138L284,140M295,141L292,145M295,141L294,144M294,144L292,145M292,145L292,145M296,140L295,140M295,140L295,141M294,145L294,144M292,147L292,145M288,144L292,145M288,144L287,144M297,165L303,162M303,162L305,164M305,164L305,164M294,164L297,165M306,165L305,164M303,162L303,162M307,160L305,164M289,136L288,139M289,136L293,134M294,135L293,139M294,135L294,135M293,139L291,140M294,135L293,134M291,140L288,139M285,138L288,139M285,137L289,136M301,135L294,135M295,140L293,139M288,144L291,140M261,166L262,165M261,166L254,166M262,165L258,164M254,166L258,164M267,162L259,163M267,162L268,164M262,165L268,164M258,164L259,163M246,166L247,167M246,166L247,163M263,174L266,170M263,174L261,175M261,170L262,169M261,170L261,175M262,169L265,169M266,170L265,169M261,175L261,175M270,171L269,173M270,171L266,170M269,173L263,174M272,177L270,177M265,178L269,177M269,177L270,177M273,174L269,174M273,174L272,177M269,174L269,177M247,163L248,162M255,159L251,162M251,162L248,162M267,162L267,159M268,164L271,165M272,164L271,165M272,164L271,159M267,159L271,159M277,159L278,156M277,159L272,159M278,156L272,158M272,158L272,159M272,164L278,161M278,161L277,159M271,159L272,159M261,166L261,167M271,165L271,165M271,165L265,169M262,169L261,168M261,167L261,168M253,172L253,172M253,172L250,171M253,172L259,168M250,171L249,168M259,168L253,167M249,168L250,167M250,167L253,167M255,174L261,175M255,174L253,172M261,170L253,172M261,168L259,168M247,167L249,168M261,167L253,167M254,166L250,167M259,163L258,162M258,162L251,162M271,165L275,167M270,171L271,171M271,171L275,167M275,167L275,167M273,174L275,173M269,173L269,174M271,171L276,172M275,173L276,172M278,155L278,156M264,178L262,178M265,178L264,178M261,175L262,178M258,162L261,159M255,159L260,158M260,158L261,159M267,159L266,159M261,159L266,159M272,158L270,156M266,159L270,156M275,154L272,155M278,155L275,154M270,156L270,155M270,155L272,155M422,192L422,188M422,188L422,188M418,184L422,188M418,184L420,182M422,188L422,183M420,182L422,183M393,175L397,181M393,175L393,172M393,172L393,172M397,181L398,179M398,179L393,172M393,178L393,175M422,192L422,192M422,188L418,189M422,192L418,189M422,192L422,195M422,195L417,190M418,189L417,189M417,189L417,190M414,183L418,184M414,183L414,184M422,188L422,188M417,189L414,184M416,191L417,190M416,191L413,192M410,187L410,185M410,187L410,188M414,184L410,185M413,192L410,188M424,182L422,183M393,172L394,171M395,182L394,182M395,182L396,188M394,182L388,182M396,188L393,188M393,188L389,186M388,182L388,184M388,184L389,186M397,182L395,182M397,182L397,181M393,178L394,182M390,191L389,186M390,191L391,192M391,192L394,192M394,192L393,188M388,200L388,199M400,177L396,171M400,177L398,178M398,178L396,171M398,179L398,178M394,171L396,170M396,170L396,171M422,195L423,195M420,200L421,199M420,200L416,191M423,195L421,199M407,188L404,184M407,188L407,190M406,190L407,190M406,190L403,185M403,185L404,184M405,181L410,185M405,181L404,184M410,187L407,188M410,188L409,191M409,191L407,190M401,186L401,186M401,186L403,185M401,186L404,191M404,191L405,192M405,192L406,190M397,182L401,186M404,179L402,177M404,179L405,181M402,177L400,177M423,166L422,163M423,166L423,167M424,169L423,167M424,169L421,174M414,183L413,180M404,179L408,176M413,180L410,177M408,176L410,177M400,170L398,169M400,170L400,161M398,169L395,164M395,164L395,159M400,161L396,159M395,159L396,159M402,177L401,170M401,170L400,170M396,170L398,169M387,193L386,193M388,199L386,193M390,191L387,193M388,200L392,201M392,201L392,201M391,192L392,196M392,201L392,196M394,192L396,194M392,196L396,194M407,196L406,193M407,196L411,195M406,193L409,191M411,195L409,191M405,192L406,193M409,191L409,191M412,195L413,192M412,195L411,195M420,200L420,200M414,147L413,145M414,147L416,144M416,144L412,140M411,143L413,145M411,143L412,141M412,141L412,140M411,143L408,143M408,143L409,139M412,141L409,139M410,134L407,134M406,143L407,137M406,143L407,144M408,143L407,144M409,139L407,137M406,143L405,142M407,134L407,137M424,182L418,176M421,174L419,173M419,173L418,176M420,182L417,176M413,180L415,177M415,177L417,176M418,176L417,176M396,147L399,147M401,145L401,141M401,145L399,147M399,147L399,147M403,146L401,145M403,146L404,142M404,142L401,141M405,142L404,142M423,167L417,166M416,169L419,173M416,169L416,167M416,167L417,166M422,163L421,161M417,166L417,162M421,161L417,162M416,167L414,161M417,162L414,161M415,212L421,218M421,218L421,218M401,205L404,205M401,205L399,199M399,199L403,199M403,199L406,203M404,205L406,204M406,204L406,203M392,201L398,198M398,198L399,199M410,207L411,210M410,207L406,204M407,196L404,196M407,196L408,199M408,199L403,198M404,196L403,197M403,197L403,198M403,193L404,191M403,193L404,196M407,196L407,196M408,200L406,203M408,200L408,199M403,199L403,198M412,195L413,196M420,200L419,201M419,201L413,196M408,200L411,201M413,196L411,201M410,207L411,202M411,210L413,211M413,211L413,203M413,203L411,202M411,201L411,202M413,211L415,212M415,212L415,212M396,149L396,147M412,140L413,139M410,134L411,135M411,135L413,139M411,135L413,135M415,134L414,135M413,135L414,135M416,144L418,143M418,143L416,140M413,139L416,140M397,151L396,149M397,151L396,159M416,169L413,168M414,161L414,161M414,161L413,168M410,170L406,169M410,170L411,170M411,170L413,168M408,163L412,167M408,163L405,166M413,168L412,167M405,166L406,169M406,169L406,169M408,176L406,169M410,177L410,170M415,177L411,170M413,168L413,168M411,160L412,167M411,160L413,160M414,161L413,160M401,170L406,169M402,161L405,166M402,161L400,161M421,161L420,158M414,153L413,160M414,153L414,153M420,158L414,153M397,151L402,155M399,147L403,153M403,153L402,155M399,147L404,150M403,153L404,150M403,146L406,150M404,150L406,150M407,144L408,150M406,150L408,150M413,145L408,150M408,150L408,150M414,147L415,150M414,153L409,151M409,151L408,151M415,150L414,153M408,150L408,151M397,195L398,198M397,195L398,191M398,198L401,195M401,195L400,192M400,192L399,191M399,191L398,191M396,194L397,195M398,198L398,198M396,188L398,191M403,197L401,195M403,193L400,192M401,186L399,191M418,203L416,204M418,203L421,209M419,209L421,209M419,209L416,207M416,207L416,204M419,201L418,203M413,203L416,204M421,218L419,209M415,212L416,207M415,134L417,135M417,135L420,134M420,134L421,135M421,135L421,135M421,156L420,149M421,156L423,155M424,154L423,155M420,149L421,148M421,148L421,148M420,158L421,156M415,150L420,149M418,143L420,144M420,144L421,148M420,143L420,144M405,156L403,156M405,156L409,157M408,161L410,159M408,161L403,158M403,158L403,156M410,159L409,157M402,155L403,156M408,151L405,156M409,151L409,157M411,160L410,159M408,163L408,161M402,161L403,158M419,139L420,138M419,139L416,138M420,138L417,136M416,138L416,137M416,137L417,136M420,143L419,139M421,135L420,138M416,140L416,138M417,135L417,136M414,135L416,137M280,256L279,261M280,256L291,259M291,259L288,262M288,262L279,261M279,261L279,261M284,222L283,225M284,222L287,226M283,225L287,226M287,226L287,226M281,227L286,230M281,227L282,225M287,230L286,230M287,230L287,226M282,225L283,225M307,260L310,262M307,260L311,257M310,262L311,262M311,262L311,257M282,248L279,243M282,248L282,248M284,245L281,243M284,245L285,247M285,247L282,248M281,243L279,243M310,215L308,219M310,215L308,214M308,214L302,214M302,214L302,214M308,219L305,219M302,214L305,219M307,204L310,204M285,247L288,248M282,248L283,252M289,253L291,250M289,253L283,252M291,250L288,248M291,259L292,259M288,262L288,263M292,259L297,261M297,261L298,262M298,262L299,263M283,211L277,209M283,211L283,214M280,216L283,214M280,216L275,211M277,209L275,211M310,210L305,206M310,210L306,211M305,206L304,208M304,208L306,211M277,209L277,207M284,210L283,211M284,210L281,208M281,208L278,207M277,207L278,207M281,208L282,206M281,227L276,228M286,230L281,233M276,228L278,231M278,231L281,233M296,250L293,253M296,250L294,250M289,253L289,254M294,250L291,250M289,254L293,253M280,256L279,253M279,253L283,252M292,259L292,257M289,254L292,257M287,230L290,231M285,236L290,236M285,236L282,235M281,233L282,235M290,236L290,231M304,234L305,230M304,234L305,236M305,236L310,236M305,230L313,234M313,234L310,236M328,253L323,251M323,246L322,248M322,248L323,251M314,224L309,219M314,224L315,225M309,219L316,220M315,225L316,220M316,214L319,219M316,214L317,213M316,214L310,215M309,219L308,219M319,219L316,220M311,228L315,230M311,228L311,225M311,225L314,224M315,225L315,225M315,225L316,228M315,230L316,228M305,229L305,230M305,229L311,228M315,234L313,234M315,234L317,233M315,230L317,233M323,235L321,237M323,235L321,233M320,237L321,237M320,237L319,233M319,233L321,233M294,216L295,216M294,216L292,220M295,216L297,218M297,218L293,220M292,220L293,220M290,223L291,223M290,223L284,221M291,223L291,220M284,221L282,219M282,219L289,219M289,219L291,220M291,225L290,223M291,225L287,226M284,222L284,221M291,215L294,216M291,215L290,215M290,215L289,219M292,220L291,220M317,213L317,213M330,257L327,257M327,257L321,263M321,263L320,263M321,255L327,257M321,255L322,251M328,253L331,255M331,255L331,255M331,255L330,257M322,251L323,251M311,257L320,263M311,257L311,257M279,261L278,263M268,263L268,263M268,263L266,259M268,263L274,262M274,262L270,258M266,259L270,258M279,261L269,254M278,263L274,262M270,258L269,254M279,253L270,251M270,251L269,252M269,252L268,253M269,254L268,253M257,263L259,262M259,262L260,262M260,262L265,263M255,263L257,263M307,260L305,260M310,262L308,263M305,260L304,261M304,261L308,263M308,263L308,263M278,231L273,233M282,235L279,235M279,235L273,233M272,223L277,222M277,222L280,217M280,217L280,217M282,225L277,222M282,219L280,217M280,216L280,217M290,215L283,214M276,228L273,227M272,223L273,227M273,227L273,227M267,231L268,234M267,231L270,228M273,233L268,234M270,228L273,227M268,234L268,234M270,251L270,250M268,234L268,234M268,234L265,238M297,254L294,256M297,254L303,254M294,256L302,256M303,254L302,256M302,256L302,256M292,257L294,256M293,253L297,254M297,261L302,256M305,260L302,256M304,261L298,262M301,237L298,237M301,237L295,231M298,237L292,231M295,231L292,231M296,229L304,234M296,229L295,231M305,236L304,237M304,237L302,237M302,237L301,237M290,236L294,238M294,238L298,237M290,231L292,231M296,229L296,229M296,229L296,228M291,225L296,228M317,239L318,238M317,239L318,240M318,240L323,239M318,238L321,238M318,238L318,238M321,238L323,239M323,239L323,239M321,244L319,243M321,244L323,239M319,243L318,240M320,237L318,238M321,237L321,238M315,234L318,238M317,233L319,233M323,245L321,244M319,243L319,243M319,243L315,239M319,243L313,239M313,239L313,239M313,239L315,239M319,243L319,243M317,239L315,239M310,236L313,239M319,243L314,244M313,239L311,242M314,244L311,242M304,237L311,242M311,242L311,242M291,242L287,244M291,242L285,239M284,240L286,244M284,240L285,239M286,244L287,244M285,236L285,239M294,238L295,242M295,242L295,243M295,243L294,243M294,243L291,242M284,245L286,244M281,243L282,240M282,240L284,240M287,244L293,245M287,244L290,247M290,247L290,247M290,247L293,246M293,246L293,245M294,243L293,245M287,244L287,244M288,248L290,247M294,250L290,247M296,250L297,250M297,250L293,246M305,229L305,229M311,225L308,224M308,224L306,226M306,226L305,229M296,229L305,229M305,229L305,229M315,210L312,206M315,210L316,211M310,210L315,210M307,204L304,206M310,204L312,206M304,206L305,206M308,214L306,211M306,211L306,211M317,213L316,211M323,245L323,246M268,263L265,263M265,263L265,263M280,247L282,248M280,247L276,247M270,250L271,247M276,247L271,247M280,247L277,244M276,247L277,244M265,263L262,259M266,259L264,258M264,258L262,259M260,262L260,259M262,259L260,259M263,255L264,258M268,253L263,255M264,258L264,258M290,205L290,204M299,209L301,211M299,209L297,207M297,207L295,208M295,208L293,210M301,212L301,211M301,212L296,211M296,211L293,210M304,208L299,209M306,211L301,211M290,204L295,208M302,214L301,212M302,214L297,215M297,215L296,211M265,240L265,238M302,238L305,242M302,238L301,243M305,242L304,245M301,243L303,244M304,245L303,244M302,237L302,238M308,242L311,242M308,242L305,242M295,242L301,243M295,243L298,245M298,245L303,244M322,248L316,247M322,251L317,251M316,247L317,251M314,244L313,246M316,247L313,246M308,224L306,223M306,226L303,224M306,223L303,224M305,219L305,219M305,219L306,222M306,223L306,222M305,229L301,225M303,224L301,225M275,241L271,244M275,241L277,243M277,243L277,244M277,244L271,244M271,244L271,244M268,242L271,244M268,242L272,240M274,241L272,240M274,241L275,241M278,243L279,243M278,243L277,243M277,244L277,244M271,247L271,244M268,242L265,240M285,207L285,206M285,207L284,210M285,206L290,209M284,210L290,211M290,211L291,210M291,210L290,209M282,206L285,207M284,210L284,210M290,205L290,209M291,215L290,211M297,215L295,216M293,210L291,210M271,236L277,237M271,236L271,236M271,236L276,240M277,237L279,240M276,240L278,240M278,240L279,240M279,235L277,237M268,234L271,236M272,240L271,236M274,241L276,240M282,240L279,240M278,243L278,240M308,242L309,247M313,246L309,247M309,247L309,247M304,245L305,245M309,247L305,245M298,245L300,247M305,245L300,247M297,250L300,250M303,254L304,253M304,253L300,250M300,247L300,250M317,251L309,250M317,251L318,255M318,255L317,255M317,255L310,255M309,250L306,253M310,255L306,253M317,251L317,251M309,247L309,250M321,255L318,255M321,263L317,255M311,257L310,255M304,253L306,253M298,224L296,223M298,224L301,224M301,224L301,223M301,223L300,219M296,223L296,222M296,222L298,219M298,219L300,219M296,228L298,224M291,223L296,223M301,225L301,224M306,222L301,223M305,219L300,219M293,220L296,222M297,218L298,219M239,170L237,168M239,170L242,168M239,171L239,170M239,171L242,176M238,177L241,179M242,176L241,179M242,168L246,168M246,168L245,175M242,176L245,175M249,168L247,167M249,168L251,170M246,168L247,167M251,170L252,178M252,178L250,182M245,175L250,182M259,176L257,182M259,176L261,177M262,182L261,177M262,182L259,185M259,185L257,182M251,170L252,170M259,176L257,173M252,178L254,180M252,170L257,173M257,182L254,180M250,182L250,182M250,182L250,183M255,186L254,180M255,186L254,185M250,183L254,185M242,182L249,183M242,182L242,184M243,187L242,184M243,187L248,188M248,188L249,183M241,179L242,182M250,182L249,183M239,203L239,201M255,199L251,197M251,197L247,199M261,177L263,176M266,186L267,183M266,186L263,187M267,183L263,183M263,187L263,183M271,185L268,190M271,185L267,182M268,190L266,186M267,182L267,183M267,182L266,179M266,179L264,177M262,182L263,183M264,177L263,176M268,190L268,192M256,199L257,199M256,199L255,199M260,199L264,194M264,194L265,195M257,199L260,199M268,192L265,195M255,186L257,187M259,185L259,186M259,186L257,187M263,187L262,189M259,186L262,189M256,199L256,198M256,198L259,192M264,194L263,193M259,192L263,193M262,189L263,193M255,193L257,191M255,193L253,191M253,191L253,189M253,189L254,188M254,188L256,189M256,189L257,191M256,198L255,193M259,192L257,191M250,191L253,191M250,191L249,192M249,192L251,197M250,191L248,188M250,183L253,189M254,185L254,188M257,187L256,189M249,192L247,192M243,187L243,188M247,192L243,188M237,194L241,190M243,188L242,190M241,190L242,190M243,193L239,197M243,193L245,197M246,199L245,197M246,199L244,201M244,201L240,200M240,200L239,197M239,197L239,197M237,194L239,197M242,190L243,193M247,192L245,197M247,199L246,199M239,201L240,200M371,144L376,143M371,144L370,145M370,145L371,147M371,147L376,143M376,143L376,143M371,147L373,153M376,143L376,144M376,144L373,153M336,133L338,134M356,143L358,143M356,143L353,148M353,148L354,148M358,143L360,148M360,148L354,148M377,136L377,138M377,136L373,133M377,138L376,139M373,133L373,134M373,134L375,139M376,139L375,139M381,139L380,139M381,139L383,134M380,139L377,138M379,142L380,139M379,142L376,144M376,143L376,139M376,144L376,144M371,144L371,139M371,139L375,139M381,139L381,139M381,139L383,145M379,142L381,146M383,145L381,146M376,144L380,146M373,153L373,153M381,146L380,146M381,139L386,137M383,134L386,134M386,137L386,134M356,139L361,136M356,143L355,141M358,143L362,141M362,141L363,139M363,139L362,137M355,141L355,139M355,139L356,139M362,137L361,136M340,140L342,137M340,140L338,141M338,141L338,135M338,135L341,134M342,137L341,134M345,137L342,137M345,137L346,136M338,135L338,134M340,140L342,140M342,140L345,139M345,137L346,138M346,138L345,139M336,133L336,134M336,134L329,134M336,134L333,139M333,139L329,134M329,134L329,134M344,152L344,153M344,152L338,149M338,153L338,149M338,153L342,156M344,153L342,156M337,160L342,159M337,160L334,157M334,157L338,153M343,158L342,159M343,158L343,158M343,158L342,156M364,150L364,152M364,150L362,150M362,150L358,152M364,152L361,159M358,152L358,158M361,159L359,159M358,158L359,159M364,149L364,150M364,149L366,146M370,145L368,146M373,155L373,153M373,155L373,155M368,146L366,146M371,155L373,155M371,155L364,152M362,141L364,149M360,148L362,150M354,148L357,152M357,152L358,152M363,139L365,140M366,146L365,140M365,140L365,140M368,146L367,140M365,140L367,140M371,139L370,138M367,140L370,138M373,134L370,138M370,138L370,138M363,135L368,136M368,136L369,135M369,135L369,135M362,137L363,135M365,140L368,136M370,138L369,135M383,145L383,145M387,138L386,137M387,138L387,140M383,145L387,140M391,137L387,138M391,135L392,134M391,137L391,135M398,136L392,134M328,177L326,173M328,177L331,177M331,177L331,177M331,177L331,170M326,173L329,170M331,170L329,170M331,177L336,174M334,168L336,174M334,168L334,168M331,170L334,168M355,139L354,139M329,170L328,164M334,168L329,161M329,161L328,164M338,141L336,144M333,139L333,140M333,140L336,144M340,147L338,148M340,147L343,143M343,143L342,140M338,148L336,144M336,144L336,144M343,158L348,162M342,159L342,161M348,162L348,164M348,164L342,164M342,161L342,164M337,160L337,165M337,165L337,165M342,161L337,165M348,164L354,161M348,164L348,165M353,167L354,166M353,167L348,165M354,161L354,166M348,165L348,165M348,165L344,169M344,169L344,170M348,164L348,164M342,164L341,167M344,169L341,167M348,162L349,159M355,158L354,161M355,158L354,157M349,159L354,157M357,152L354,157M355,158L358,158M354,157L354,157M347,142L345,143M347,142L348,143M348,143L346,147M345,143L345,143M345,143L345,147M346,147L346,147M345,147L346,147M348,139L347,142M348,139L346,138M345,139L345,143M343,143L345,143M340,147L345,147M344,152L346,147M338,148L338,149M346,136L348,134M343,172L339,176M344,170L343,172M336,174L337,175M337,175L339,176M340,166L341,167M340,166L338,173M338,173L341,167M337,165L340,166M341,167L341,167M334,168L337,165M337,175L338,173M343,158L346,156M349,159L349,158M346,156L349,158M348,139L349,139M350,142L348,143M350,142L350,140M349,139L350,140M355,141L350,144M350,144L350,142M354,139L351,139M350,140L351,139M336,144L332,147M350,152L347,153M350,152L352,150M346,153L347,153M346,153L347,148M351,148L347,148M351,148L352,149M352,149L352,150M346,156L347,153M349,158L350,152M354,157L352,150M344,153L346,153M346,147L347,148M350,144L351,148M353,148L352,149M351,135L349,135M351,135L351,136M351,136L349,136M349,135L349,136M353,133L351,135M348,134L349,135M351,139L351,136M349,139L349,136M330,151L330,158M330,158L329,159M332,147L330,151M334,157L330,158M329,161L329,159M423,251L424,252M423,251L423,241M423,241L424,241M424,241L421,237M423,251L419,250M419,250L417,249M423,241L416,244M417,249L416,244M420,234L420,236M420,236L420,236M421,237L420,236M421,224L419,225M419,225L420,234M421,237L421,237M416,244L416,244M416,244L417,238M417,238L420,236M411,231L411,225M411,231L416,228M411,225L417,226M416,228L417,226M411,231L417,234M411,231L411,231M417,234L416,228M419,225L417,226M417,234L420,236M424,252L422,258M422,258L422,261M392,262L391,264M421,224L421,223M411,219L421,223M411,219L410,221M411,225L410,224M410,221L410,224M421,223L421,223M411,219L411,219M420,216L422,218M420,216L416,213M416,213L411,219M421,223L422,218M423,217L422,218M410,221L404,218M411,219L408,213M408,213L402,214M404,218L402,214M422,261L419,261M416,213L414,211M421,223L423,224M408,213L408,212M408,212L404,205M404,205L401,205M402,214L401,213M401,213L399,208M401,205L399,208M389,238L387,237M389,238L394,237M387,237L388,231M388,231L394,234M394,237L396,235M394,234L396,235M396,235L396,235M395,242L391,244M395,242L394,237M391,244L389,238M400,239L400,240M400,239L396,235M395,242L398,244M400,240L398,244M397,248L398,245M397,248L391,244M391,244L391,244M398,244L398,245M402,239L408,242M402,239L408,235M408,236L408,235M408,236L409,240M409,240L408,241M408,241L408,242M416,244L409,240M417,238L408,236M411,247L417,249M411,247L408,241M405,231L406,234M405,231L404,226M404,226L404,224M411,231L408,235M411,231L405,225M405,225L404,224M408,235L406,234M411,231L411,231M408,235L408,235M410,224L405,225M404,218L403,222M403,222L404,224M405,231L400,229M406,234L399,233M400,229L399,233M404,226L399,227M400,229L399,227M400,239L402,239M396,235L397,234M397,234L399,233M398,251L398,251M398,251L397,248M398,245L402,246M402,246L402,252M398,251L402,252M389,248L398,251M398,251L396,255M409,249L410,253M409,249L409,249M410,253L404,254M409,249L406,249M406,249L403,252M404,254L403,252M392,262L392,262M392,262L397,258M396,255L397,258M415,261L410,262M410,262L410,262M404,254L405,258M397,258L400,260M400,260L403,260M403,252L402,252M403,260L405,260M405,260L405,258M397,263L399,262M392,262L397,263M400,260L399,262M385,208L383,209M408,212L412,211M414,211L413,211M412,211L413,211M391,200L391,201M391,201L398,199M385,208L386,207M386,207L388,201M391,200L388,200M388,201L388,200M401,213L394,216M403,222L397,222M397,222L394,216M397,231L398,227M397,231L394,227M398,227L396,224M394,227L394,224M394,224L396,224M399,227L398,227M397,234L397,231M393,228L394,234M393,228L394,227M397,222L396,224M389,247L390,245M391,244L390,245M389,248L389,247M403,246L403,243M403,246L404,246M404,246L406,245M403,243L406,243M406,243L406,245M400,240L403,243M402,246L403,246M406,249L404,246M409,249L406,245M408,242L406,243M411,247L409,249M410,262L405,260M417,259L415,260M417,259L417,257M415,260L411,255M417,257L417,253M417,253L411,254M411,254L411,255M415,261L415,260M419,261L417,259M415,260L415,260M422,258L417,257M419,250L417,253M410,253L411,254M405,258L410,257M410,257L411,255M413,260L411,259M413,260L411,261M411,261L411,259M415,260L413,260M410,257L411,259M410,262L411,261M393,228L390,228M388,231L388,230M390,228L388,230M394,224L390,223M390,228L390,223M394,216L394,216M394,216L389,222M389,222L390,223M410,207L405,204M412,211L410,207M404,205L405,204M401,205L399,199M399,208L396,207M391,201L393,203M399,199L398,199M396,207L393,203M387,216L383,209M387,216L386,218M386,220L386,219M386,218L386,219M393,215L387,216M393,215L394,216M387,222L389,222M387,222L386,220M386,228L386,223M388,230L386,228M387,222L386,223M389,209L391,208M389,209L392,214M391,208L394,208M392,214L394,208M386,207L389,209M393,203L391,208M393,215L392,214M396,207L394,208M237,262L238,262M240,231L240,231M237,225L243,229M243,229L243,231M240,231L243,231M258,228L253,227M258,228L259,227M259,227L254,222M253,227L254,222M241,200L240,201M239,203L240,201M239,203L240,204M240,204L244,204M244,204L243,201M243,201L241,200M240,233L244,236M240,233L238,234M238,234L238,237M243,237L238,237M243,237L244,236M238,237L238,237M240,231L240,233M272,223L277,222M272,223L273,227M240,204L242,207M242,207L239,208M239,208L239,211M239,211L239,212M239,212L239,212M247,214L244,215M247,214L248,217M248,217L244,215M244,215L244,215M239,211L242,212M242,212L244,215M243,215L239,212M243,215L244,215M242,218L246,220M242,218L240,219M240,219L239,222M246,223L240,222M246,223L246,220M239,222L240,222M244,226L249,225M244,226L240,222M249,225L246,223M249,225L250,226M250,220L246,220M250,220L251,220M250,226L251,220M243,229L244,227M238,222L239,222M244,227L244,226M253,221L252,221M253,221L260,221M252,221L252,217M260,221L261,220M253,217L252,217M253,217L257,217M257,217L262,219M262,219L261,220M253,227L250,227M250,226L250,227M251,220L252,221M254,222L253,221M260,227L260,221M260,227L259,227M250,220L248,217M248,214L252,217M248,214L247,214M260,227L263,228M263,228L264,225M263,222L264,225M263,222L261,220M256,215L252,213M256,215L257,217M252,213L253,217M262,219L260,214M262,219L262,219M256,215L255,212M255,212L260,214M271,244L272,246M272,223L270,222M270,222L272,216M277,222L278,218M278,218L272,216M272,246L272,250M258,263L255,263M244,261L249,261M244,261L240,258M249,261L244,253M240,258L240,258M240,258L240,255M244,253L240,255M238,262L240,258M239,254L240,255M255,263L254,263M244,247L238,247M244,247L245,253M238,247L241,251M241,251L244,253M245,253L244,253M244,253L244,253M280,216L280,217M278,218L280,217M271,205L273,210M271,205L277,208M277,209L275,211M277,209L277,208M275,211L273,210M269,203L266,204M269,203L271,205M265,206L266,204M265,206L270,210M270,210L273,210M280,216L275,211M252,197L247,197M243,201L246,201M246,201L247,197M257,198L265,197M269,201L265,197M269,201L269,203M257,199L266,204M257,199L257,198M252,197L256,199M257,199L256,199M262,241L266,240M262,241L260,241M260,241L255,236M255,236L263,238M266,240L265,239M263,238L265,239M258,232L257,233M258,232L267,234M257,233L263,238M267,234L265,239M243,231L243,231M248,238L249,237M248,238L244,236M249,237L243,231M260,241L254,240M260,241L260,241M254,240L251,237M255,236L254,235M251,237L254,235M248,254L252,253M248,254L245,253M244,247L245,246M245,246L252,253M249,203L246,201M249,203L248,206M244,204L247,207M247,207L248,206M262,219L265,219M265,219L266,214M260,214L261,212M261,212L266,214M265,219L270,222M272,216L269,214M266,214L269,214M270,210L269,213M269,213L269,214M256,201L256,199M256,201L261,206M265,206L263,207M263,207L261,206M269,213L264,210M263,207L264,210M261,212L261,211M261,211L264,210M264,210L264,210M252,204L253,203M252,204L254,208M253,203L258,207M254,208L257,209M258,207L258,208M258,208L258,209M257,209L258,209M249,203L252,204M256,201L253,203M248,206L252,208M252,208L254,208M261,206L258,207M255,211L257,209M255,211L251,210M251,210L252,208M264,210L258,208M261,211L258,209M255,212L255,211M270,228L272,227M270,228L265,225M265,225L267,225M272,227L267,225M263,228L267,231M267,231L270,228M264,225L265,225M263,222L267,225M273,227L272,227M243,215L242,217M242,218L242,218M242,218L242,217M239,212L238,213M242,217L238,213M278,207L278,207M278,207L277,208M269,201L269,201M278,207L274,203M269,201L274,203M267,231L268,233M258,232L258,228M267,234L268,234M268,234L268,233M258,263L259,262M261,262L259,262M254,263L254,262M249,261L252,261M252,261L254,262M248,254L252,258M252,261L252,258M246,231L254,235M246,231L250,229M250,229L251,229M251,229L254,233M254,233L254,235M249,237L251,237M243,231L246,231M254,235L254,235M244,227L250,229M250,227L251,229M257,233L254,233M244,239L240,241M244,239L248,240M248,240L246,242M246,242L243,244M243,244L240,242M240,241L240,242M243,237L244,239M238,237L240,241M248,238L248,240M248,240L248,240M245,246L245,246M245,246L243,244M251,211L247,207M251,211L250,213M250,213L248,213M243,208L246,212M243,208L247,207M248,213L246,212M251,210L251,211M247,207L247,207M252,213L250,213M248,214L248,213M242,207L243,208M242,212L246,212M242,218L239,216M279,204L279,203M278,207L279,204M274,203L279,203M269,242L266,240M271,244L269,242M263,255L268,253M263,255L264,258M264,258L264,258M262,259L264,258M261,262L260,258M262,259L260,258M262,255L263,255M262,255L258,255M264,258L259,257M258,255L259,257M262,255L256,250M254,251L256,250M254,251L253,253M258,255L253,253M260,258L259,258M259,257L259,258M252,244L252,244M252,244L255,245M252,244L246,246M255,245L256,245M256,245L250,248M246,246L250,248M248,240L252,244M246,242L252,244M254,240L255,245M245,246L246,246M252,253L253,253M254,251L250,248M253,253L253,253M268,253L268,253M256,250L257,248M257,248L268,253M268,252L268,253M256,245L256,245M256,245L263,246M256,245L256,246M256,246L270,251M263,246L270,250M270,250L270,251M260,241L256,245M256,245L256,245M262,241L263,246M257,248L256,246M268,252L270,251M272,250L270,250M254,262L256,259M252,258L253,258M256,259L253,258M259,262L257,259M256,259L257,259M259,258L257,258M257,259L257,258M253,254L256,258M253,254L253,258M253,258L256,258M253,253L253,254M257,258L256,258M253,258L253,258M238,139L238,138M244,142L244,138M244,142L239,140M239,140L238,139M238,138L244,138M244,138L244,138M238,153L238,156M240,159L240,157M240,157L238,156M239,140L240,144M247,169L250,169M247,169L244,169M238,153L240,153M240,157L243,154M243,154L240,153M241,150L241,150M240,153L241,150M244,142L248,145M251,141L244,138M251,141L251,144M251,144L248,145M276,153L266,147M276,153L274,147M266,147L269,142M274,147L271,144M271,144L269,142M276,154L276,153M276,154L277,154M277,154L279,150M279,150L274,147M243,135L246,135M244,138L243,135M251,141L251,140M246,135L246,135M251,140L246,135M244,152L241,150M244,152L245,149M245,149L242,148M241,150L242,149M242,149L242,148M240,144L242,149M240,144L240,144M241,150L241,150M240,144L245,147M245,147L242,148M243,154L245,155M244,152L245,153M245,153L245,155M240,159L244,161M244,161L245,156M245,155L245,156M266,135L266,137M273,134L266,135M273,134L275,135M271,144L273,144M269,142L266,139M266,139L266,137M273,144L275,142M275,135L275,142M261,144L262,138M261,144L255,140M255,140L256,136M262,138L256,136M251,140L255,140M266,139L262,138M246,149L245,147M246,149L249,153M249,153L249,153M249,153L250,149M250,149L248,146M245,147L248,146M245,147L245,147M245,149L246,149M245,153L249,153M248,145L248,146M279,150L281,150M273,144L277,146M277,146L281,150M282,146L280,145M280,145L279,143M279,143L279,143M275,142L279,143M277,146L280,145M277,136L279,138M275,135L277,136M279,143L279,138M251,144L253,146M253,146L259,147M261,144L263,147M259,147L263,147M266,147L263,147M266,147L266,147M263,147L263,147M254,160L254,161M254,160L252,158M250,160L252,158M250,160L251,161M254,161L251,161M244,161L248,166M245,156L249,158M250,160L249,158M251,161L248,166M250,169L249,167M249,167L248,166M281,150L282,150M282,146L282,150M282,150L282,150M277,154L283,156M282,150L283,156M253,146L253,146M259,147L258,150M253,146L258,150M249,153L249,153M249,158L250,154M249,153L250,154M252,158L252,156M250,154L252,156M258,159L254,160M258,159L258,158M252,156L258,158M270,155L272,155M272,155L276,156M276,154L276,156M266,147L272,155M270,155L268,155M268,155L269,158M269,158L266,160M263,147L264,150M258,150L260,153M264,150L260,153M268,155L268,155M268,155L266,153M264,150L266,153M268,155L262,157M266,153L262,157M258,158L259,156M266,160L262,157M259,156L262,157M262,157L262,157M252,151L255,154M252,151L254,150M254,150L259,155M255,154L259,156M259,155L259,156M250,149L252,151M249,153L255,154M253,146L254,150M260,153L259,155M259,156L259,156M349,262L352,262M332,259L335,260M320,264L328,256M332,257L332,257M332,257L332,259M332,257L328,256M328,256L328,256M340,263L348,260M349,262L348,260M339,260L340,263M339,260L335,260M328,256L335,249M335,249L331,247M339,260L339,260M348,260L348,259M348,259L346,256M339,260L346,256M332,257L339,256M339,260L339,256M363,264L361,262M378,199L378,198M338,246L337,248M338,246L341,246M337,248L342,246M341,246L342,246M350,251L351,248M350,251L347,253M347,253L342,252M351,248L349,246M342,252L341,251M349,246L346,245M340,251L341,251M340,251L344,247M344,247L346,245M348,259L353,257M346,256L347,253M357,251L353,257M357,251L350,251M339,256L342,252M332,257L341,251M336,249L335,249M336,249L340,251M336,249L337,248M342,246L344,247M354,241L353,241M354,241L354,241M353,241L349,246M351,248L353,246M353,246L354,241M367,251L365,253M365,253L366,255M361,256L362,259M361,256L357,256M356,260L355,258M356,260L361,260M361,260L362,259M357,256L355,258M361,253L365,253M361,253L361,256M366,255L362,259M361,253L360,251M360,251L357,256M352,262L356,260M353,257L355,258M362,261L361,262M362,261L361,260M357,251L359,250M359,250L360,251M353,246L356,245M354,241L358,240M356,245L358,240M373,203L371,203M373,203L378,199M378,198L376,197M371,203L376,197M373,203L374,205M374,205L377,206M382,209L377,207M377,206L377,207M351,240L350,239M351,240L346,245M350,239L349,239M349,239L343,241M343,241L345,243M345,243L346,245M353,241L351,240M346,245L346,245M341,246L345,243M375,197L375,197M365,199L369,200M369,200L375,197M376,197L375,197M371,217L371,216M371,217L372,219M372,219L373,220M371,216L376,215M376,215L377,216M377,216L373,220M359,250L362,247M367,251L367,247M367,247L362,247M356,245L362,245M358,240L359,240M359,240L360,240M360,240L363,243M363,243L362,245M362,247L362,245M370,203L369,201M370,203L365,207M369,201L363,205M365,207L363,205M371,203L370,203M369,200L369,201M365,209L370,208M365,209L365,207M370,208L374,205M365,199L362,201M361,204L362,201M361,204L363,205M358,206L361,204M358,206L362,210M365,209L364,209M362,210L364,209M354,236L353,234M354,236L350,239M349,239L349,235M353,234L353,234M349,235L353,234M331,247L331,246M338,246L340,242M340,242L331,246M343,241L342,241M342,241L340,241M340,242L340,241M377,212L377,213M377,212L372,211M377,213L370,213M370,213L372,211M372,211L372,211M382,209L377,212M376,215L377,213M377,207L372,211M371,216L369,214M369,214L370,213M370,208L372,211M365,215L364,209M365,215L369,214M376,223L377,224M357,233L362,229M357,233L355,236M362,233L360,236M362,233L362,229M362,229L362,229M356,236L355,236M356,236L359,236M359,236L360,236M354,236L355,236M353,234L357,233M354,241L356,236M359,240L359,236M342,241L344,237M349,235L349,235M349,235L344,237M353,234L353,233M353,233L352,232M349,235L349,233M352,232L349,233M344,236L344,237M344,236L348,233M348,233L349,233M342,234L347,229M342,234L344,236M348,233L347,229M353,233L360,228M362,229L361,228M360,228L361,228M352,232L354,228M360,228L354,228M362,210L356,213M363,243L364,243M364,243L372,240M367,234L367,235M367,234L362,233M360,236L365,236M367,235L365,236M360,240L365,237M365,237L365,236M364,243L366,239M365,237L366,239M377,224L377,224M377,224L372,228M377,224L366,227M372,228L368,229M368,229L365,228M365,228L366,227M377,224L377,224M375,232L372,231M369,231L372,231M369,231L368,229M367,234L369,231M362,229L365,228M373,220L376,223M373,220L369,223M376,223L368,225M369,223L368,225M373,220L373,220M376,223L376,223M372,219L366,221M366,221L369,223M366,227L368,225M349,228L351,227M349,228L347,222M347,222L349,220M352,226L351,227M352,226L350,220M349,220L350,220M350,220L350,220M347,229L348,228M348,228L349,228M354,228L351,227M357,221L352,226M357,221L350,220M356,214L356,213M356,214L350,220M362,225L358,220M362,225L366,221M366,220L364,216M366,220L366,221M358,220L360,218M360,218L364,216M361,228L362,225M357,221L358,220M366,221L366,221M371,217L366,220M365,215L364,216M356,214L360,218M340,241L337,239M342,234L339,234M339,234L337,239M367,235L368,238M367,235L374,234M368,238L374,236M374,234L374,236M374,236L374,236M367,235L367,235M366,239L368,238M375,232L374,234M372,240L374,236M330,256L327,256M330,256L334,250M327,252L323,251M327,252L327,252M327,252L325,245M323,251L322,249M322,249L323,246M323,246L325,245M327,256L327,252M334,250L332,246M332,246L331,246M331,246L327,252M322,245L323,246M331,246L326,244M331,246L333,239M330,239L327,241M330,239L331,238M327,241L326,244M331,238L333,239M331,246L331,246M325,245L326,244M332,236L337,232M332,236L329,232M337,232L337,231M337,231L329,232M329,232L329,232M332,236L331,238M330,239L327,234M329,232L327,234M327,241L325,237M325,237L325,236M327,234L325,236M321,228L323,231M321,228L321,227M325,229L323,231M325,229L323,225M321,227L323,225M337,231L338,229M329,228L329,232M329,228L330,227M331,226L330,227M331,226L336,226M336,226L338,229M332,246L339,241M333,239L337,239M337,239L339,241M337,232L338,234M337,239L338,234M326,203L322,203M326,203L327,205M327,205L325,207M318,211L322,203M318,211L325,208M325,208L325,207M313,208L312,208M313,208L319,200M312,208L310,204M310,204L316,198M316,198L319,200M315,212L313,208M317,212L318,211M317,212L315,212M322,203L320,200M320,200L319,200M316,197L316,198M316,196L316,197M322,245L321,243M325,237L323,239M321,243L323,239M321,237L323,234M323,234L322,233M321,233L322,233M329,228L325,229M325,236L323,234M323,231L322,233M319,233L320,229M319,233L321,233M321,228L320,229M330,227L326,224M323,225L323,224M326,224L323,224M315,233L315,230M339,229L341,221M339,229L341,228M341,228L344,223M341,221L344,223M348,229L346,229M346,229L342,234M338,229L339,229M338,234L342,234M341,228L346,229M336,226L339,221M341,221L341,220M341,220L339,221M317,195L322,193M317,195L320,191M320,191L322,193M320,200L324,195M316,196L317,195M324,195L322,193M320,191L320,191M326,193L324,189M326,193L324,195M320,191L322,188M324,189L322,188M328,211L325,212M328,211L329,211M329,211L329,215M325,212L326,216M325,212L325,212M329,215L326,216M325,208L325,212M325,207L328,211M327,205L328,205M328,205L330,210M329,211L330,210M329,211L329,211M324,217L322,214M324,217L326,216M322,214L325,212M317,212L319,215M319,215L322,214M323,239L321,239M321,237L320,238M320,238L321,239M317,234L319,233M325,220L328,220M325,220L329,215M328,220L330,219M330,219L330,216M329,215L330,216M324,220L324,217M324,220L325,220M329,215L329,215M331,226L332,222M326,224L328,220M332,222L330,219M336,220L336,215M336,220L332,222M332,222L335,214M336,215L335,214M335,214L335,214M339,215L339,221M339,215L336,215M339,221L336,220M332,222L332,222M339,221L339,221M330,216L335,214M336,210L329,211M336,210L335,214M315,224L318,218M323,224L322,223M324,220L322,222M322,223L322,222M319,215L318,217M322,222L318,217M318,218L318,217M334,184L334,182M334,184L332,186M331,187L332,186M331,187L330,183M334,182L331,182M331,182L330,183M337,181L337,181M337,181L334,182M337,181L334,184M336,184L337,181M336,184L336,184M336,184L332,186M331,188L331,187M331,188L326,186M326,186L326,184M326,184L330,183M348,219L349,214M348,219L343,218M343,218L343,216M349,214L343,216M339,215L342,214M341,220L343,218M342,214L343,216M359,205L361,202M359,205L355,207M355,207L357,199M361,202L357,199M361,202L361,202M357,199L357,199M351,205L357,199M351,205L351,205M354,208L351,205M354,208L355,207M351,219L355,213M355,213L356,213M361,210L356,213M361,210L359,205M353,211L354,208M353,211L355,213M348,228L347,222M347,222L348,220M348,220L351,219M344,223L347,222M348,229L348,228M351,219L351,219M348,219L348,220M324,182L321,183M324,182L328,177M324,189L326,186M322,188L321,183M326,184L324,182M336,174L331,177M331,177L330,177M328,177L330,177M339,177L337,181M339,177L339,176M339,176L336,175M336,175L336,174M331,182L331,177M317,234L315,233M321,223L317,226M321,223L319,228M317,226L316,229M316,229L319,229M319,229L319,228M315,224L317,226M322,223L321,223M321,227L319,228M315,230L316,229M320,229L319,229M354,191L356,192M336,184L335,188M331,188L330,189M335,188L330,189M336,184L340,185M340,185L339,187M339,187L337,189M335,188L337,189M327,193L326,193M327,193L330,189M330,189L330,189M326,203L329,199M327,193L330,197M330,197L329,199M361,202L365,198M349,214L349,213M353,211L352,212M349,213L352,212M339,177L342,180M340,185L342,182M342,180L342,182M336,210L338,208M330,210L334,205M334,205L338,208M328,205L333,204M334,205L333,204M329,199L333,202M333,204L333,202M344,182L345,190M347,191L345,190M342,182L344,182M332,196L333,196M332,196L332,190M333,196L335,193M332,190L335,193M330,197L332,196M337,198L333,196M337,198L337,199M337,199L333,202M330,189L332,190M337,189L336,192M336,192L335,193M337,193L338,196M337,193L342,190M338,196L344,191M342,190L344,191M336,192L337,193M337,198L338,196M339,187L342,190M345,190L344,191M351,192L353,194M351,192L350,193M350,193L353,198M353,194L355,198M355,198L353,198M354,191L351,192M358,194L356,192M358,194L353,194M348,193L350,193M348,193L347,191M364,195L363,192M364,195L357,198M363,192L363,192M363,192L360,192M360,192L358,194M358,194L357,198M357,198L357,198M365,198L364,195M357,199L357,198M358,194L358,194M355,198L357,198M351,205L350,200M350,200L353,198M340,200L340,206M340,200L347,195M345,203L341,206M345,203L347,200M340,206L341,206M347,200L347,195M337,199L340,200M338,208L340,206M348,193L347,195M350,200L347,200M343,209L348,207M343,209L341,206M345,203L350,206M348,207L350,206M351,205L351,205M352,212L349,209M351,205L349,209M351,205L350,206M349,213L348,209M349,213L344,210M344,210L344,210M344,210L348,209M348,209L348,209M349,213L349,213M349,209L348,209M342,214L344,210M343,209L344,210M348,207L348,209M312,173L314,177M312,173L314,173M319,175L314,173M319,175L318,179M318,179L314,177M329,177L329,178M329,177L323,171M323,171L319,175M318,179L319,181M319,181L321,181M329,178L321,181M269,184L265,178M272,187L268,189M272,187L270,184M269,184L270,184M272,166L274,166M274,164L274,166M272,166L272,170M293,158L291,158M291,158L287,154M295,159L293,158M295,159L295,164M295,164L295,164M288,159L291,158M288,159L293,164M295,164L293,164M299,167L304,169M299,167L304,165M304,169L304,165M295,164L304,163M299,167L298,167M295,164L298,167M304,165L305,164M305,164L305,164M305,164L305,164M304,163L305,164M288,180L285,183M288,180L290,180M290,180L293,183M292,185L293,183M292,185L287,185M285,183L287,185M293,190L293,189M293,190L288,189M292,185L293,189M287,185L288,189M279,183L278,181M279,183L270,184M278,181L272,179M270,184L272,179M268,189L268,192M268,192L264,193M265,196L264,193M264,193L264,193M282,155L277,155M282,155L284,156M287,154L284,156M277,155L276,155M272,174L273,176M273,176L270,178M270,177L270,178M265,178L270,177M272,170L276,173M276,173L276,173M276,173L272,174M276,178L273,176M276,178L277,174M277,174L276,173M276,178L277,179M277,179L278,181M278,181L278,181M272,179L270,178M270,184L270,184M298,175L295,178M298,175L296,174M296,174L290,177M295,178L291,179M291,179L290,177M296,174L290,171M290,177L287,172M287,172L290,171M293,164L293,165M298,170L298,167M298,170L290,169M293,165L291,166M291,166L289,167M290,169L289,167M284,157L287,159M284,157L281,161M287,159L287,161M287,161L286,161M286,161L282,162M282,162L281,161M288,159L287,159M284,156L284,157M293,165L287,161M291,166L286,161M284,165L282,162M284,165L284,165M284,165L289,167M305,171L308,171M305,171L301,174M310,176L306,177M310,176L309,172M309,172L308,171M304,177L301,175M304,177L306,177M301,175L301,174M304,169L305,171M310,170L305,164M310,170L308,171M298,170L301,174M312,173L309,172M314,177L310,176M314,173L313,169M313,169L310,170M298,175L301,175M290,171L290,169M304,179L297,181M304,179L304,179M304,179L302,183M302,183L298,182M297,181L298,182M295,178L297,181M304,177L304,179M290,180L291,179M293,183L294,183M294,183L296,183M296,183L298,182M295,208L297,207M297,207L300,209M296,195L299,193M296,195L295,197M303,198L295,197M303,198L301,194M299,193L301,194M307,183L305,180M307,183L308,185M305,180L304,179M302,183L302,184M308,185L302,184M296,183L302,186M302,184L302,186M307,183L310,183M308,185L309,187M309,187L310,186M310,186L310,183M315,189L313,190M315,189L320,191M320,191L320,191M320,191L315,192M315,192L313,190M318,193L320,191M317,194L315,192M317,194L318,193M320,191L320,191M319,200L318,199M317,194L317,197M318,199L317,197M320,191L320,190M323,189L320,190M315,189L316,185M320,190L316,185M313,169L314,168M277,174L279,175M277,179L280,176M279,175L280,176M294,183L297,186M293,189L297,189M297,189L297,186M302,186L302,187M297,186L302,187M309,187L308,189M308,189L302,187M302,187L302,187M291,198L289,198M291,198L293,198M296,195L293,190M293,198L295,197M288,189L286,190M286,190L289,198M281,208L278,207M281,208L282,206M282,206L279,204M279,204L278,207M265,196L266,197M266,197L269,202M275,204L269,202M269,202L269,202M277,156L278,160M277,160L278,160M276,155L277,156M281,161L278,160M284,165L274,166M274,166L274,166M274,164L277,160M276,173L277,169M279,175L281,174M281,174L282,172M282,172L277,169M274,166L276,167M276,167L277,169M284,203L285,201M284,203L284,203M284,203L286,204M285,201L286,204M290,204L290,204M290,204L291,198M289,198L286,197M286,197L285,201M286,204L287,205M290,204L287,205M283,203L285,206M283,203L284,203M287,205L285,206M319,200L311,203M318,199L311,198M311,203L309,199M311,198L309,199M316,185L310,183M316,185L316,185M316,185L318,184M318,184L319,181M319,181L313,181M313,181L310,182M310,182L310,183M310,186L316,185M310,183L310,183M309,190L313,190M309,190L308,189M316,185L316,185M323,189L318,184M319,181L319,181M306,177L313,181M305,180L310,182M323,171L322,170M314,168L322,170M323,171L323,171M282,178L281,176M282,178L287,179M281,176L284,176M287,179L285,176M285,176L284,176M278,181L282,178M280,176L281,176M288,180L287,179M280,183L285,183M280,183L279,183M281,174L284,176M287,172L286,172M286,172L285,176M301,188L297,189M301,188L302,192M297,189L299,191M302,192L299,191M297,189L297,189M302,187L301,188M299,193L299,191M281,187L282,188M281,187L275,189M282,188L280,192M280,192L277,192M275,189L277,192M280,183L281,187M286,190L282,188M272,187L273,188M273,188L275,189M286,197L285,197M285,197L280,192M268,192L270,193M266,197L275,197M275,197L270,193M273,188L270,192M277,192L277,192M277,192L270,192M270,193L270,192M275,199L275,197M275,199L279,203M280,201L280,197M280,201L279,203M275,197L277,197M279,203L279,203M280,197L277,197M269,202L275,199M275,197L275,197M275,204L279,203M285,197L280,197M284,203L280,201M279,203L279,203M279,203L281,204M281,204L283,203M277,192L277,197M279,203L279,204M285,172L283,167M285,172L284,172M284,172L281,168M283,167L281,168M286,172L285,172M284,165L283,167M282,172L284,172M276,167L281,168M290,209L285,206M285,207L285,206M285,206L285,206M290,204L295,208M290,204L290,209M285,206L285,206M282,206L285,207M281,204L285,206M300,209L304,208M305,196L308,195M305,196L303,193M303,192L303,193M303,192L308,191M308,195L309,192M308,191L309,192M303,198L304,199M303,198L305,196M304,199L309,199M311,198L308,195M303,198L303,198M301,194L303,193M302,192L303,192M309,190L308,191M317,197L309,192M297,207L298,204M304,208L304,206M304,206L298,204M293,198L296,201M298,204L296,201M304,199L305,202M296,201L305,202M310,205L306,204M306,204L305,206M304,206L305,206M311,203L310,205M305,202L306,204" stroke="#bc8068" stroke-width="1.6" fill="none" stroke-linecap="round" stroke-opacity="0.8"/>
<path d="M348,191L351,192M354,191L352,192M356,185L358,186M398,136L397,138M404,141L404,133M400,146L399,148M399,148L397,149M397,149L395,147M348,191L347,192M347,192L345,191M345,191L344,182M354,183L354,181M348,180L353,180M354,181L353,180M387,165L387,163M384,167L385,167M384,167L381,161M381,161L381,160M381,160L383,157M383,157L383,156M370,166L373,165M370,166L369,170M372,176L372,175M369,170L370,174M374,173L373,165M384,167L384,168M381,200L380,200M380,200L380,199M380,199L377,198M377,198L375,196M377,198L377,198M373,197L374,196M377,188L377,187M377,188L375,194M377,187L376,186M375,194L374,193M374,193L374,188M374,173L377,171M373,165L374,164M377,170L377,171M374,164L377,164M381,160L379,160M377,164L379,160M397,153L397,149M373,154L378,160M373,154L375,153M378,160L381,154M381,154L375,153M365,178L365,177M365,178L362,183M365,177L363,175M363,175L361,176M361,176L360,178M360,178L362,183M359,186L362,183M356,177L354,181M356,177L360,178M342,181L342,181M342,181L339,176M339,176L343,172M342,181L347,176M352,175L352,172M352,175L348,176M348,176L348,176M348,176L352,172M352,172L352,172M348,180L348,176M344,182L342,181M347,176L348,176M353,167L349,165M353,171L352,172M352,172L349,171M349,165L349,171M347,176L348,173M344,169L348,173M349,171L348,173M353,167L354,166M354,166L354,161M349,165L348,165M390,188L389,184M390,188L390,191M390,191L387,194M386,192L387,194M386,192L388,183M388,183L389,184M393,181L389,184M393,181L392,177M393,175L392,177M375,194L375,196M374,193L372,193M372,193L371,195M369,201L369,201M367,198L369,195M386,199L386,197M380,199L381,195M386,197L382,194M381,195L382,194M386,192L383,190M386,197L387,194M382,194L383,190M383,187L383,189M383,189L383,190M382,178L386,177M382,178L381,182M381,182L388,183M386,177L387,178M387,178L388,183M383,187L381,185M381,185L381,182M388,183L388,183M387,165L388,166M385,167L386,177M388,166L390,173M389,174L387,178M392,177L389,174M379,173L381,178M381,177L381,178M384,168L382,172M372,175L375,181M375,181L376,181M376,181L381,178M377,187L381,185M376,186L376,181M365,178L367,182M365,185L367,182M370,186L370,180M370,180L368,181M370,174L365,177M367,182L368,181M360,192L357,195M364,186L363,192M360,192L363,192M364,186L368,190M368,190L363,193M363,192L363,193M398,136L392,134M387,140L388,141M387,138L391,136M388,141L391,141M391,141L391,137M391,137L391,136M391,136L391,136M392,144L389,146M388,146L389,146M388,146L388,141M395,144L392,144M369,170L367,170M369,160L366,162M367,170L366,162M359,159L357,165M361,159L363,162M357,158L354,158M354,161L354,158M357,165L357,165M369,160L371,156M364,151L361,159M364,163L363,162M363,165L364,163M363,165L361,166M390,150L389,148M390,150L389,152M389,148L386,152M389,152L389,152M389,152L386,152M386,152L386,152M393,150L390,150M393,150L395,147M393,150L391,156M391,156L391,158M388,158L389,152M385,155L386,152M382,145L383,145M344,169L348,164M348,164L348,164M391,165L391,165M391,165L392,158M391,165L392,158M392,158L392,158M388,166L391,165M395,158L392,158M390,173L393,171M393,171L392,165M396,161L396,162M396,162L392,165M375,181L370,186M374,188L372,189M372,189L370,186M372,189L371,191M370,186L370,186M370,186L370,186M379,194L380,194M380,194L381,190M381,190L378,191M378,192L378,191M375,194L378,192M383,189L381,190M377,188L378,191M365,185L368,188M369,186L368,188M365,185L365,185M368,184L365,185M370,186L369,186M368,190L368,190M368,190L368,188M368,190L369,193M365,198L364,194M363,193L364,194M367,198L365,198M367,170L364,171M363,165L363,168M363,175L364,172M364,172L364,171M358,168L359,168M358,168L356,172M359,168L360,170M356,172L357,174M357,174L360,172M360,172L360,171M360,171L360,170M357,165L358,168M363,168L360,170M356,177L357,174M364,172L360,171M385,147L385,149M385,149L382,153M381,152L382,153M382,153L382,153M388,146L385,147M383,145L384,146M382,145L380,146M380,147L380,146M383,156L382,153M381,154L382,153M375,153L379,148M379,160L378,160M394,172L394,172M394,172L396,169M393,171L394,172M396,162L396,169M380,147L377,144M376,144L373,154M373,154L373,154M377,144L376,144M373,154L373,154M379,217L381,210M379,217L376,216M376,215L376,214M378,226L379,226M386,221L379,226M386,221L386,219M386,219L385,219M385,219L379,224M379,208L378,207M378,207L380,200M382,210L384,209M380,200L381,200M373,251L373,250M372,246L366,247M370,252L367,250M373,259L373,258M374,264L378,258M373,258L376,257M376,257L378,258M373,251L373,258M373,250L377,250M377,251L376,257M372,246L372,241M372,241L378,243M378,243L379,245M376,206L375,205M382,213L384,218M382,213L381,218M386,219L387,217M387,217L384,209M382,210L382,213M385,219L384,218M384,209L384,209M380,218L381,218M384,209L387,206M386,199L381,200M386,199L388,201M387,206L388,201M372,241L372,241M366,242L372,241M363,261L364,260M373,234L369,229M369,229L372,227M373,226L372,227M389,246L389,248M389,246L384,240M383,242L384,245M389,248L384,245M380,245L383,250M384,245L383,250M377,251L380,253M379,245L380,245M380,253L383,251M380,253L381,255M381,255L379,258M379,258L379,259M380,200L380,199M377,198L377,198M373,237L372,238M373,235L373,234M373,235L373,237M375,234L373,235M375,234L379,237M378,243L379,237M372,241L372,238M369,254L368,255M369,254L371,259M368,258L370,260M370,252L369,254M365,255L368,255M364,260L368,258M375,224L374,225M375,224L374,222M378,226L375,224M378,226L375,234M378,226L378,226M376,216L374,222M390,244L389,246M390,244L390,239M390,239L387,236M382,236L384,238M383,251L388,252M388,252L389,248M389,248L397,250M387,236L388,231M382,229L386,228M388,231L386,228M386,221L387,222M386,228L387,222M397,252L397,250M381,261L385,259M386,261L386,260M385,259L386,260M379,259L381,261M388,252L388,252M391,254L396,255M397,252L396,255M335,145L336,142M336,142L333,140M333,147L330,150M333,138L329,136M333,140L333,138M326,140L329,136M328,143L324,147M324,147L325,150M330,158L330,158M330,158L329,163M306,137L306,138M306,138L303,139M302,134L303,139M306,138L309,143M309,143L307,144M307,144L300,147M319,155L324,152M319,155L319,157M324,152L326,159M320,160L322,160M326,159L322,160M324,147L322,147M325,150L324,152M318,151L319,155M330,158L326,159M309,143L310,142M310,142L315,137M328,165L329,170M328,165L322,169M322,169L322,170M322,170L322,172M322,172L325,173M325,173L329,170M329,163L328,165M322,170L319,169M320,160L319,160M319,169L319,160M299,145L296,140M299,145L300,145M302,139L299,138M302,134L301,135M301,135L299,138M315,169L314,168M314,168L309,170M319,160L313,165M313,165L314,168M319,157L316,157M318,151L315,151M307,151L306,153M300,149L301,151M299,148L300,149M307,151L307,151M307,151L307,144M318,144L313,145M318,144L321,145M321,146L314,147M321,146L321,145M314,147L313,146M322,147L321,146M315,151L314,147M324,140L321,145M312,153L309,151M309,151L313,146M310,142L313,145M324,140L322,138M318,144L320,138M322,138L325,134M320,138L316,137M295,153L293,157M295,152L288,153M288,153L290,158M308,160L309,164M308,160L311,159M311,159L311,160M311,160L310,164M310,164L309,164M311,156L310,156M311,156L311,159M310,156L308,160M308,160L308,160M313,165L310,164M309,170L308,170M308,164L309,164M303,162L302,161M303,162L307,158M302,161L304,156M307,158L307,157M304,156L304,156M310,156L307,157M307,160L308,160M306,153L304,156M300,155L304,156M304,156L299,159M297,159L299,159M299,148L297,149M295,153L298,156M293,157L295,160M316,136L324,133M316,137L316,136M325,134L324,133M277,137L278,137M284,156L281,155M278,137L279,137M279,137L285,136M297,149L292,148M294,145L292,147M292,148L292,147M308,164L306,165M284,156L288,153M288,153L287,149M281,155L283,150M283,150L287,149M288,153L288,153M292,148L288,149M280,145L282,147M282,147L281,149M283,150L281,149M288,149L287,144M284,140L280,140M284,140L284,143M280,140L279,142M280,145L280,144M286,144L284,143M279,137L280,140M295,141L292,145M295,141L294,144M294,144L292,145M296,140L295,140M295,140L295,141M294,145L294,144M292,147L292,145M288,144L292,145M288,144L287,144M297,165L303,162M294,164L297,165M306,165L305,164M303,162L303,162M307,160L305,164M289,136L293,134M294,135L293,139M294,135L294,135M293,139L291,140M294,135L293,134M291,140L288,139M285,138L288,139M285,137L289,136M301,135L294,135M288,144L291,140M262,165L258,164M267,162L259,163M267,162L268,164M262,165L268,164M258,164L259,163M246,166L247,167M246,166L247,163M263,174L266,170M263,174L261,175M262,169L265,169M261,175L261,175M270,171L266,170M265,178L269,177M273,174L269,174M269,174L269,177M247,163L248,162M255,159L251,162M251,162L248,162M268,164L271,165M272,164L271,165M272,164L271,159M277,159L272,159M278,156L272,158M272,158L272,159M272,164L278,161M278,161L277,159M262,169L261,168M253,172L253,172M253,172L250,171M253,172L259,168M259,168L253,167M250,167L253,167M261,168L259,168M247,167L249,168M261,167L253,167M254,166L250,167M259,163L258,162M258,162L251,162M271,165L275,167M270,171L271,171M271,171L275,167M275,167L275,167M273,174L275,173M271,171L276,172M275,173L276,172M264,178L262,178M265,178L264,178M261,175L262,178M266,159L270,156M275,154L272,155M278,155L275,154M270,156L270,155M270,155L272,155M422,192L422,188M418,184L422,188M418,184L420,182M422,188L422,183M420,182L422,183M393,172L393,172M397,181L398,179M398,179L393,172M393,178L393,175M422,192L422,192M422,188L418,189M422,192L422,195M422,195L417,190M418,189L417,189M417,189L417,190M414,183L414,184M422,188L422,188M417,189L414,184M416,191L417,190M416,191L413,192M410,187L410,185M410,187L410,188M414,184L410,185M424,182L422,183M395,182L396,188M394,182L388,182M396,188L393,188M393,188L389,186M388,182L388,184M397,182L395,182M397,182L397,181M393,178L394,182M390,191L391,192M391,192L394,192M394,192L393,188M388,200L388,199M400,177L396,171M398,178L396,171M398,179L398,178M394,171L396,170M396,170L396,171M422,195L423,195M420,200L421,199M420,200L416,191M423,195L421,199M407,188L404,184M407,188L407,190M406,190L407,190M406,190L403,185M403,185L404,184M405,181L404,184M410,187L407,188M410,188L409,191M409,191L407,190M401,186L403,185M401,186L404,191M397,182L401,186M404,179L405,181M423,166L422,163M423,166L423,167M424,169L423,167M424,169L421,174M414,183L413,180M404,179L408,176M413,180L410,177M408,176L410,177M400,170L398,169M400,170L400,161M400,161L396,159M395,159L396,159M396,170L398,169M387,193L386,193M388,199L386,193M390,191L387,193M392,201L392,201M392,201L392,196M394,192L396,194M392,196L396,194M407,196L406,193M411,195L409,191M409,191L409,191M412,195L413,192M412,195L411,195M414,147L413,145M416,144L412,140M411,143L412,141M412,141L412,140M411,143L408,143M408,143L409,139M412,141L409,139M410,134L407,134M406,143L407,137M406,143L407,144M408,143L407,144M406,143L405,142M420,182L417,176M413,180L415,177M415,177L417,176M401,145L399,147M403,146L401,145M403,146L404,142M423,167L417,166M416,169L419,173M416,169L416,167M416,167L417,166M422,163L421,161M416,167L414,161M417,162L414,161M421,218L421,218M401,205L404,205M399,199L403,199M403,199L406,203M404,205L406,204M406,204L406,203M392,201L398,198M398,198L399,199M410,207L411,210M408,199L403,198M404,196L403,197M403,197L403,198M403,193L404,191M403,193L404,196M407,196L407,196M408,200L406,203M408,200L408,199M412,195L413,196M420,200L419,201M419,201L413,196M408,200L411,201M413,196L411,201M410,207L411,202M411,210L413,211M413,211L413,203M411,201L411,202M413,211L415,212M415,212L415,212M396,149L396,147M411,135L413,139M411,135L413,135M415,134L414,135M413,135L414,135M416,144L418,143M418,143L416,140M397,151L396,149M416,169L413,168M414,161L414,161M414,161L413,168M410,170L406,169M410,170L411,170M411,170L413,168M408,163L412,167M408,163L405,166M413,168L412,167M406,169L406,169M415,177L411,170M413,168L413,168M411,160L413,160M402,161L400,161M421,161L420,158M414,153L413,160M414,153L414,153M420,158L414,153M397,151L402,155M399,147L403,153M403,153L402,155M403,153L404,150M403,146L406,150M404,150L406,150M407,144L408,150M413,145L408,150M408,150L408,150M414,147L415,150M414,153L409,151M409,151L408,151M415,150L414,153M397,195L398,191M401,195L400,192M400,192L399,191M396,194L397,195M403,197L401,195M403,193L400,192M401,186L399,191M418,203L416,204M419,209L421,209M419,209L416,207M416,207L416,204M415,212L416,207M415,134L417,135M417,135L420,134M420,134L421,135M421,135L421,135M421,156L420,149M421,156L423,155M420,149L421,148M420,158L421,156M415,150L420,149M420,144L421,148M420,143L420,144M408,161L403,158M403,158L403,156M410,159L409,157M402,155L403,156M409,151L409,157M411,160L410,159M408,163L408,161M402,161L403,158M419,139L420,138M420,138L417,136M416,138L416,137M416,137L417,136M421,135L420,138M414,135L416,137M280,256L291,259M291,259L288,262M288,262L279,261M279,261L279,261M284,222L287,226M283,225L287,226M281,227L286,230M287,230L287,226M307,260L310,262M307,260L311,257M310,262L311,262M282,248L282,248M284,245L281,243M284,245L285,247M310,215L308,214M302,214L302,214M308,219L305,219M302,214L305,219M307,204L310,204M285,247L288,248M282,248L283,252M289,253L291,250M289,253L283,252M291,250L288,248M292,259L297,261M297,261L298,262M298,262L299,263M283,211L277,209M283,211L283,214M280,216L283,214M277,209L277,207M284,210L283,211M284,210L281,208M277,207L278,207M281,227L276,228M286,230L281,233M276,228L278,231M278,231L281,233M296,250L293,253M296,250L294,250M289,253L289,254M294,250L291,250M289,254L293,253M280,256L279,253M292,259L292,257M287,230L290,231M285,236L290,236M285,236L282,235M281,233L282,235M290,236L290,231M304,234L305,230M304,234L305,236M305,236L310,236M305,230L313,234M313,234L310,236M323,246L322,248M322,248L323,251M314,224L309,219M314,224L315,225M315,225L316,220M316,214L319,219M316,214L317,213M316,214L310,215M309,219L308,219M311,228L315,230M315,225L315,225M315,225L316,228M315,230L316,228M305,229L305,230M305,229L311,228M315,234L313,234M315,234L317,233M315,230L317,233M323,235L321,237M323,235L321,233M320,237L321,237M294,216L295,216M295,216L297,218M297,218L293,220M292,220L293,220M290,223L291,223M290,223L284,221M284,221L282,219M291,225L290,223M291,225L287,226M284,222L284,221M291,215L294,216M290,215L289,219M330,257L327,257M321,263L320,263M321,255L327,257M321,255L322,251M328,253L331,255M331,255L331,255M331,255L330,257M311,257L320,263M279,261L278,263M268,263L268,263M268,263L266,259M274,262L270,258M266,259L270,258M278,263L274,262M270,258L269,254M279,253L270,251M270,251L269,252M269,254L268,253M259,262L260,262M307,260L305,260M310,262L308,263M305,260L304,261M304,261L308,263M278,231L273,233M279,235L273,233M272,223L277,222M280,217L280,217M276,228L273,227M272,223L273,227M273,227L273,227M267,231L270,228M273,233L268,234M270,228L273,227M268,234L268,234M270,251L270,250M268,234L265,238M297,254L294,256M297,254L303,254M294,256L302,256M303,254L302,256M302,256L302,256M292,257L294,256M293,253L297,254M297,261L302,256M305,260L302,256M304,261L298,262M298,237L292,231M295,231L292,231M296,229L295,231M304,237L302,237M302,237L301,237M290,236L294,238M290,231L292,231M296,229L296,228M291,225L296,228M317,239L318,238M318,240L323,239M318,238L318,238M321,238L323,239M319,243L318,240M320,237L318,238M321,237L321,238M317,233L319,233M319,243L319,243M319,243L315,239M319,243L313,239M313,239L313,239M319,243L319,243M317,239L315,239M310,236L313,239M319,243L314,244M313,239L311,242M304,237L311,242M291,242L285,239M284,240L286,244M284,240L285,239M285,236L285,239M294,243L291,242M281,243L282,240M287,244L293,245M290,247L290,247M290,247L293,246M293,246L293,245M294,243L293,245M287,244L287,244M288,248L290,247M294,250L290,247M296,250L297,250M297,250L293,246M305,229L305,229M308,224L306,226M306,226L305,229M296,229L305,229M305,229L305,229M315,210L312,206M315,210L316,211M310,210L315,210M307,204L304,206M310,204L312,206M308,214L306,211M306,211L306,211M317,213L316,211M265,263L265,263M280,247L282,248M280,247L276,247M270,250L271,247M276,247L271,247M265,263L262,259M266,259L264,258M260,262L260,259M264,258L264,258M299,209L301,211M299,209L297,207M297,207L295,208M295,208L293,210M301,212L301,211M301,212L296,211M296,211L293,210M304,208L299,209M290,204L295,208M302,214L301,212M302,214L297,215M265,240L265,238M305,242L304,245M304,245L303,244M302,237L302,238M308,242L311,242M308,242L305,242M295,242L301,243M298,245L303,244M322,251L317,251M316,247L317,251M314,244L313,246M316,247L313,246M306,226L303,224M306,223L303,224M305,219L305,219M305,219L306,222M306,223L306,222M305,229L301,225M275,241L271,244M277,244L271,244M271,244L271,244M268,242L271,244M268,242L272,240M274,241L272,240M274,241L275,241M278,243L277,243M277,244L277,244M271,247L271,244M268,242L265,240M285,207L284,210M285,206L290,209M284,210L290,211M290,211L291,210M282,206L285,207M284,210L284,210M290,205L290,209M291,215L290,211M297,215L295,216M293,210L291,210M271,236L271,236M277,237L279,240M276,240L278,240M278,240L279,240M279,235L277,237M268,234L271,236M272,240L271,236M274,241L276,240M278,243L278,240M308,242L309,247M309,247L309,247M304,245L305,245M309,247L305,245M297,250L300,250M303,254L304,253M304,253L300,250M300,247L300,250M317,251L309,250M317,251L318,255M318,255L317,255M317,255L310,255M310,255L306,253M317,251L317,251M309,247L309,250M321,255L318,255M298,224L296,223M298,224L301,224M301,224L301,223M301,223L300,219M296,222L298,219M298,219L300,219M296,228L298,224M291,223L296,223M301,225L301,224M306,222L301,223M305,219L300,219M293,220L296,222M297,218L298,219M239,170L237,168M239,170L242,168M239,171L239,170M238,177L241,179M242,168L246,168M246,168L245,175M242,176L245,175M249,168L247,167M249,168L251,170M246,168L247,167M251,170L252,178M245,175L250,182M259,176L257,182M262,182L259,185M259,185L257,182M251,170L252,170M259,176L257,173M252,178L254,180M252,170L257,173M257,182L254,180M250,182L250,183M255,186L254,180M255,186L254,185M250,183L254,185M242,182L242,184M243,187L242,184M243,187L248,188M248,188L249,183M241,179L242,182M250,182L249,183M239,203L239,201M261,177L263,176M266,186L267,183M266,186L263,187M267,183L263,183M271,185L268,190M271,185L267,182M267,182L267,183M267,182L266,179M266,179L264,177M262,182L263,183M268,190L268,192M256,199L257,199M260,199L264,194M257,199L260,199M268,192L265,195M255,186L257,187M259,185L259,186M259,186L257,187M263,187L262,189M259,186L262,189M256,199L256,198M256,198L259,192M264,194L263,193M259,192L263,193M255,193L253,191M253,191L253,189M253,189L254,188M254,188L256,189M256,198L255,193M259,192L257,191M250,191L249,192M250,191L248,188M250,183L253,189M254,185L254,188M249,192L247,192M243,187L243,188M247,192L243,188M237,194L241,190M243,188L242,190M243,193L239,197M243,193L245,197M246,199L245,197M246,199L244,201M244,201L240,200M240,200L239,197M239,197L239,197M237,194L239,197M242,190L243,193M247,192L245,197M247,199L246,199M239,201L240,200M371,144L376,143M371,144L370,145M370,145L371,147M371,147L376,143M376,143L376,143M371,147L373,153M376,143L376,144M376,144L373,153M336,133L338,134M356,143L358,143M353,148L354,148M358,143L360,148M360,148L354,148M377,136L377,138M377,136L373,133M377,138L376,139M373,133L373,134M373,134L375,139M376,139L375,139M381,139L380,139M380,139L377,138M379,142L380,139M379,142L376,144M371,144L371,139M371,139L375,139M383,145L381,146M376,144L380,146M373,153L373,153M381,146L380,146M381,139L386,137M383,134L386,134M386,137L386,134M358,143L362,141M362,141L363,139M355,141L355,139M362,137L361,136M340,140L342,137M340,140L338,141M338,141L338,135M345,137L342,137M345,137L346,136M340,140L342,140M345,137L346,138M336,133L336,134M336,134L333,139M329,134L329,134M344,152L344,153M338,153L338,149M338,153L342,156M337,160L334,157M334,157L338,153M364,150L364,152M364,150L362,150M362,150L358,152M364,152L361,159M361,159L359,159M358,158L359,159M364,149L364,150M370,145L368,146M371,155L364,152M362,141L364,149M360,148L362,150M354,148L357,152M357,152L358,152M363,139L365,140M368,146L367,140M365,140L367,140M367,140L370,138M370,138L370,138M363,135L368,136M368,136L369,135M369,135L369,135M370,138L369,135M383,145L383,145M387,138L386,137M383,145L387,140M391,135L392,134M391,137L391,135M328,177L326,173M331,177L331,177M331,177L336,174M331,170L334,168M355,139L354,139M329,170L328,164M338,141L336,144M333,139L333,140M333,140L336,144M340,147L338,148M340,147L343,143M343,158L348,162M342,161L342,164M337,160L337,165M337,165L337,165M348,164L354,161M348,164L348,165M353,167L354,166M353,167L348,165M354,161L354,166M348,165L348,165M348,165L344,169M344,169L344,170M348,164L348,164M342,164L341,167M344,169L341,167M348,162L349,159M355,158L354,161M349,159L354,157M354,157L354,157M347,142L345,143M347,142L348,143M348,143L346,147M345,143L345,143M345,143L345,147M346,147L346,147M345,147L346,147M348,139L347,142M348,139L346,138M343,143L345,143M340,147L345,147M344,152L346,147M338,148L338,149M346,136L348,134M343,172L339,176M344,170L343,172M336,174L337,175M340,166L338,173M338,173L341,167M337,165L340,166M341,167L341,167M343,158L346,156M346,156L349,158M350,142L348,143M355,141L350,144M350,144L350,142M354,139L351,139M350,140L351,139M350,152L347,153M350,152L352,150M346,153L347,148M351,148L347,148M351,148L352,149M346,156L347,153M349,158L350,152M344,153L346,153M346,147L347,148M353,148L352,149M351,135L349,135M351,135L351,136M351,136L349,136M353,133L351,135M348,134L349,135M349,139L349,136M332,147L330,151M423,251L423,241M423,241L424,241M424,241L421,237M423,251L419,250M419,250L417,249M417,249L416,244M420,234L420,236M421,237L420,236M421,224L419,225M421,237L421,237M416,244L416,244M416,244L417,238M411,231L411,225M411,231L416,228M411,225L417,226M416,228L417,226M411,231L411,231M417,234L416,228M419,225L417,226M417,234L420,236M422,258L422,261M392,262L391,264M421,224L421,223M411,219L421,223M411,219L410,221M411,225L410,224M410,221L410,224M420,216L416,213M416,213L411,219M421,223L422,218M410,221L404,218M411,219L408,213M408,213L402,214M404,218L402,214M422,261L419,261M421,223L423,224M408,213L408,212M408,212L404,205M404,205L401,205M402,214L401,213M401,213L399,208M401,205L399,208M389,238L387,237M387,237L388,231M394,237L396,235M394,234L396,235M396,235L396,235M395,242L391,244M395,242L394,237M391,244L389,238M400,239L400,240M400,239L396,235M400,240L398,244M397,248L398,245M397,248L391,244M391,244L391,244M402,239L408,242M402,239L408,235M408,236L408,235M408,236L409,240M409,240L408,241M408,241L408,242M416,244L409,240M417,238L408,236M411,247L417,249M405,231L406,234M405,231L404,226M404,226L404,224M411,231L408,235M411,231L405,225M405,225L404,224M408,235L406,234M411,231L411,231M408,235L408,235M404,218L403,222M403,222L404,224M405,231L400,229M406,234L399,233M398,245L402,246M402,246L402,252M398,251L402,252M389,248L398,251M398,251L396,255M409,249L410,253M409,249L409,249M410,253L404,254M409,249L406,249M406,249L403,252M404,254L403,252M392,262L397,258M410,262L410,262M404,254L405,258M397,258L400,260M400,260L403,260M403,252L402,252M397,263L399,262M392,262L397,263M400,260L399,262M414,211L413,211M391,200L391,201M391,201L398,199M385,208L386,207M391,200L388,200M388,201L388,200M401,213L394,216M403,222L397,222M397,231L394,227M394,224L396,224M399,227L398,227M393,228L394,234M393,228L394,227M389,247L390,245M403,246L403,243M404,246L406,245M403,243L406,243M406,243L406,245M402,246L403,246M411,247L409,249M410,262L405,260M417,259L415,260M417,257L417,253M411,254L411,255M415,261L415,260M419,261L417,259M415,260L415,260M419,250L417,253M410,253L411,254M410,257L411,255M413,260L411,259M413,260L411,261M411,261L411,259M415,260L413,260M410,257L411,259M410,262L411,261M393,228L390,228M388,231L388,230M390,228L388,230M394,224L390,223M390,228L390,223M394,216L394,216M394,216L389,222M412,211L410,207M401,205L399,199M391,201L393,203M399,199L398,199M396,207L393,203M387,216L383,209M387,216L386,218M386,220L386,219M386,218L386,219M393,215L387,216M387,222L389,222M386,228L386,223M388,230L386,228M389,209L391,208M389,209L392,214M391,208L394,208M392,214L394,208M386,207L389,209M393,203L391,208M393,215L392,214M237,262L238,262M240,231L240,231M243,229L243,231M240,231L243,231M258,228L253,227M258,228L259,227M259,227L254,222M253,227L254,222M241,200L240,201M239,203L240,201M239,203L240,204M240,204L244,204M243,201L241,200M240,233L244,236M238,234L238,237M243,237L238,237M243,237L244,236M240,231L240,233M272,223L277,222M272,223L273,227M240,204L242,207M242,207L239,208M239,211L239,212M239,212L239,212M247,214L244,215M247,214L248,217M248,217L244,215M244,215L244,215M239,211L242,212M243,215L239,212M243,215L244,215M242,218L246,220M242,218L240,219M246,223L240,222M246,223L246,220M239,222L240,222M244,226L240,222M249,225L246,223M249,225L250,226M250,220L246,220M243,229L244,227M244,227L244,226M253,221L252,221M253,221L260,221M252,221L252,217M260,221L261,220M253,217L252,217M253,217L257,217M257,217L262,219M262,219L261,220M253,227L250,227M251,220L252,221M254,222L253,221M260,227L260,221M248,214L247,214M260,227L263,228M263,228L264,225M263,222L261,220M252,213L253,217M262,219L262,219M271,244L272,246M272,223L270,222M270,222L272,216M277,222L278,218M278,218L272,216M258,263L255,263M244,261L249,261M244,261L240,258M249,261L244,253M238,262L240,258M255,263L254,263M244,247L238,247M244,247L245,253M245,253L244,253M244,253L244,253M271,205L273,210M277,209L275,211M277,209L277,208M275,211L273,210M269,203L266,204M269,203L271,205M265,206L266,204M265,206L270,210M270,210L273,210M252,197L247,197M243,201L246,201M257,198L265,197M269,201L265,197M269,201L269,203M257,199L257,198M252,197L256,199M262,241L266,240M262,241L260,241M260,241L255,236M266,240L265,239M263,238L265,239M258,232L257,233M258,232L267,234M257,233L263,238M267,234L265,239M243,231L243,231M248,238L249,237M249,237L243,231M260,241L254,240M260,241L260,241M254,240L251,237M248,254L245,253M249,203L246,201M244,204L247,207M262,219L265,219M260,214L261,212M265,219L270,222M272,216L269,214M266,214L269,214M270,210L269,213M269,213L269,214M256,201L256,199M265,206L263,207M269,213L264,210M252,204L253,203M253,203L258,207M258,207L258,208M258,208L258,209M257,209L258,209M249,203L252,204M248,206L252,208M252,208L254,208M255,211L257,209M255,211L251,210M251,210L252,208M264,210L258,208M261,211L258,209M270,228L272,227M265,225L267,225M272,227L267,225M263,228L267,231M267,231L270,228M263,222L267,225M243,215L242,217M242,218L242,217M239,212L238,213M242,217L238,213M278,207L277,208M278,207L274,203M269,201L274,203M267,231L268,233M258,232L258,228M267,234L268,234M268,234L268,233M258,263L259,262M261,262L259,262M254,263L254,262M249,261L252,261M252,261L254,262M248,254L252,258M252,261L252,258M246,231L250,229M250,229L251,229M251,229L254,233M249,237L251,237M243,231L246,231M254,235L254,235M257,233L254,233M244,239L248,240M248,240L246,242M246,242L243,244M243,244L240,242M240,241L240,242M238,237L240,241M248,240L248,240M245,246L245,246M245,246L243,244M251,211L247,207M251,211L250,213M250,213L248,213M243,208L246,212M251,210L251,211M252,213L250,213M242,212L246,212M242,218L239,216M271,244L269,242M263,255L268,253M263,255L264,258M264,258L264,258M261,262L260,258M262,255L263,255M262,255L258,255M258,255L259,257M254,251L256,250M254,251L253,253M258,255L253,253M260,258L259,258M259,257L259,258M252,244L252,244M252,244L255,245M252,244L246,246M255,245L256,245M246,246L250,248M252,253L253,253M253,253L253,253M268,253L268,253M256,250L257,248M257,248L268,253M268,252L268,253M256,245L256,245M256,245L263,246M256,245L256,246M256,246L270,251M263,246L270,250M260,241L256,245M256,245L256,245M262,241L263,246M272,250L270,250M254,262L256,259M256,259L253,258M259,262L257,259M256,259L257,259M259,258L257,258M257,259L257,258M253,254L256,258M253,258L256,258M257,258L256,258M253,258L253,258M238,139L238,138M244,142L244,138M239,140L238,139M238,138L244,138M244,138L244,138M238,153L238,156M240,159L240,157M240,157L238,156M239,140L240,144M247,169L250,169M247,169L244,169M238,153L240,153M240,157L243,154M240,153L241,150M251,141L251,144M251,144L248,145M274,147L271,144M271,144L269,142M276,154L276,153M276,154L277,154M277,154L279,150M243,135L246,135M244,138L243,135M251,141L251,140M251,140L246,135M244,152L241,150M240,144L242,149M240,144L240,144M241,150L241,150M240,144L245,147M245,147L242,148M240,159L244,161M244,161L245,156M266,135L266,137M273,134L266,135M273,134L275,135M271,144L273,144M266,139L266,137M273,144L275,142M275,135L275,142M261,144L262,138M261,144L255,140M255,140L256,136M262,138L256,136M251,140L255,140M246,149L245,147M249,153L249,153M249,153L250,149M250,149L248,146M245,147L248,146M279,150L281,150M273,144L277,146M277,146L281,150M280,145L279,143M279,143L279,143M277,146L280,145M277,136L279,138M275,135L277,136M279,143L279,138M251,144L253,146M253,146L259,147M261,144L263,147M259,147L263,147M266,147L263,147M266,147L266,147M263,147L263,147M254,160L254,161M254,160L252,158M250,160L252,158M244,161L248,166M251,161L248,166M250,169L249,167M249,167L248,166M282,146L282,150M277,154L283,156M282,150L283,156M253,146L253,146M259,147L258,150M253,146L258,150M249,153L249,153M249,153L250,154M252,158L252,156M250,154L252,156M258,159L254,160M258,159L258,158M252,156L258,158M270,155L272,155M276,154L276,156M266,147L272,155M270,155L268,155M269,158L266,160M258,150L260,153M268,155L268,155M264,150L266,153M268,155L262,157M266,153L262,157M258,158L259,156M266,160L262,157M259,156L262,157M252,151L255,154M252,151L254,150M254,150L259,155M255,154L259,156M259,155L259,156M250,149L252,151M249,153L255,154M253,146L254,150M349,262L352,262M332,259L335,260M320,264L328,256M332,257L332,259M332,257L328,256M328,256L328,256M349,262L348,260M339,260L340,263M339,260L335,260M328,256L335,249M335,249L331,247M339,260L339,260M348,260L348,259M348,259L346,256M339,260L346,256M332,257L339,256M339,260L339,256M363,264L361,262M337,248L342,246M341,246L342,246M350,251L347,253M347,253L342,252M351,248L349,246M342,252L341,251M340,251L341,251M340,251L344,247M344,247L346,245M346,256L347,253M357,251L353,257M357,251L350,251M339,256L342,252M332,257L341,251M336,249L340,251M336,249L337,248M354,241L353,241M354,241L354,241M353,241L349,246M351,248L353,246M353,246L354,241M367,251L365,253M365,253L366,255M361,256L362,259M361,256L357,256M356,260L355,258M356,260L361,260M361,253L361,256M366,255L362,259M361,253L360,251M360,251L357,256M352,262L356,260M353,257L355,258M362,261L361,260M357,251L359,250M354,241L358,240M373,203L371,203M373,203L378,199M378,198L376,197M374,205L377,206M382,209L377,207M351,240L350,239M351,240L346,245M350,239L349,239M349,239L343,241M353,241L351,240M346,245L346,245M341,246L345,243M375,197L375,197M365,199L369,200M376,197L375,197M371,217L371,216M371,217L372,219M371,216L376,215M376,215L377,216M367,251L367,247M367,247L362,247M356,245L362,245M358,240L359,240M359,240L360,240M360,240L363,243M363,243L362,245M362,247L362,245M370,203L369,201M369,201L363,205M369,200L369,201M365,209L370,208M365,209L365,207M365,199L362,201M361,204L363,205M358,206L362,210M362,210L364,209M354,236L350,239M353,234L353,234M349,235L353,234M331,247L331,246M338,246L340,242M340,242L331,246M343,241L342,241M342,241L340,241M377,212L377,213M377,212L372,211M371,216L369,214M365,215L364,209M365,215L369,214M376,223L377,224M357,233L362,229M357,233L355,236M362,233L360,236M362,233L362,229M362,229L362,229M356,236L355,236M359,236L360,236M354,236L355,236M353,234L357,233M354,241L356,236M359,240L359,236M349,235L349,235M349,235L344,237M353,234L353,233M352,232L349,233M344,236L344,237M344,236L348,233M348,233L349,233M342,234L347,229M342,234L344,236M353,233L360,228M362,229L361,228M352,232L354,228M360,228L354,228M363,243L364,243M367,234L362,233M367,235L365,236M360,240L365,237M365,237L365,236M364,243L366,239M365,237L366,239M377,224L377,224M377,224L372,228M377,224L366,227M372,228L368,229M368,229L365,228M365,228L366,227M377,224L377,224M375,232L372,231M369,231L372,231M369,231L368,229M362,229L365,228M373,220L376,223M373,220L369,223M373,220L373,220M376,223L376,223M372,219L366,221M366,221L369,223M366,227L368,225M349,228L351,227M349,228L347,222M347,222L349,220M352,226L351,227M352,226L350,220M349,220L350,220M347,229L348,228M348,228L349,228M354,228L351,227M357,221L352,226M356,214L350,220M362,225L358,220M362,225L366,221M366,220L364,216M358,220L360,218M360,218L364,216M361,228L362,225M357,221L358,220M366,221L366,221M371,217L366,220M356,214L360,218M342,234L339,234M339,234L337,239M367,235L368,238M367,235L374,234M368,238L374,236M366,239L368,238M375,232L374,234M372,240L374,236M330,256L334,250M327,252L323,251M322,249L323,246M323,246L325,245M327,256L327,252M332,246L331,246M331,246L327,252M322,245L323,246M330,239L327,241M330,239L331,238M327,241L326,244M331,238L333,239M331,246L331,246M325,245L326,244M332,236L337,232M332,236L329,232M337,232L337,231M337,231L329,232M329,232L329,232M327,241L325,237M325,237L325,236M327,234L325,236M321,228L321,227M325,229L323,231M321,227L323,225M329,228L329,232M329,228L330,227M331,226L330,227M336,226L338,229M337,239L339,241M337,239L338,234M326,203L322,203M327,205L325,207M318,211L322,203M318,211L325,208M325,208L325,207M313,208L312,208M313,208L319,200M310,204L316,198M316,198L319,200M315,212L313,208M317,212L315,212M322,203L320,200M316,197L316,198M322,245L321,243M325,237L323,239M321,237L323,234M323,234L322,233M321,233L322,233M325,236L323,234M319,233L320,229M319,233L321,233M321,228L320,229M330,227L326,224M323,225L323,224M326,224L323,224M315,233L315,230M339,229L341,228M341,228L344,223M341,221L344,223M348,229L346,229M346,229L342,234M338,229L339,229M338,234L342,234M341,228L346,229M336,226L339,221M341,221L341,220M341,220L339,221M317,195L322,193M317,195L320,191M324,195L322,193M320,191L320,191M326,193L324,189M324,189L322,188M328,211L325,212M328,211L329,211M325,212L326,216M325,212L325,212M329,215L326,216M325,207L328,211M327,205L328,205M328,205L330,210M329,211L330,210M324,217L326,216M322,214L325,212M319,215L322,214M323,239L321,239M321,237L320,238M325,220L328,220M325,220L329,215M328,220L330,219M329,215L330,216M324,220L324,217M329,215L329,215M331,226L332,222M336,220L336,215M336,220L332,222M332,222L335,214M336,215L335,214M335,214L335,214M339,215L339,221M339,215L336,215M339,221L336,220M332,222L332,222M339,221L339,221M330,216L335,214M336,210L329,211M336,210L335,214M315,224L318,218M323,224L322,223M324,220L322,222M322,223L322,222M319,215L318,217M322,222L318,217M318,218L318,217M334,184L334,182M331,187L332,186M331,187L330,183M331,182L330,183M337,181L337,181M337,181L334,184M336,184L337,181M336,184L336,184M331,188L331,187M331,188L326,186M326,186L326,184M326,184L330,183M348,219L349,214M348,219L343,218M343,218L343,216M349,214L343,216M339,215L342,214M341,220L343,218M342,214L343,216M359,205L361,202M359,205L355,207M355,207L357,199M361,202L357,199M361,202L361,202M351,205L357,199M351,205L351,205M354,208L351,205M354,208L355,207M361,210L359,205M348,228L347,222M347,222L348,220M348,220L351,219M348,229L348,228M348,219L348,220M324,182L321,183M324,182L328,177M322,188L321,183M326,184L324,182M336,174L331,177M331,177L330,177M339,177L337,181M339,176L336,175M331,182L331,177M321,223L317,226M321,223L319,228M317,226L316,229M316,229L319,229M315,224L317,226M315,230L316,229M320,229L319,229M354,191L356,192M336,184L340,185M340,185L339,187M339,187L337,189M327,193L330,189M330,189L330,189M326,203L329,199M327,193L330,197M330,197L329,199M349,214L349,213M353,211L352,212M340,185L342,182M342,180L342,182M336,210L338,208M330,210L334,205M334,205L338,208M328,205L333,204M329,199L333,202M333,204L333,202M347,191L345,190M332,196L332,190M333,196L335,193M332,190L335,193M337,198L333,196M337,199L333,202M337,189L336,192M336,192L335,193M336,192L337,193M337,198L338,196M339,187L342,190M345,190L344,191M351,192L353,194M351,192L350,193M353,194L355,198M355,198L353,198M358,194L356,192M358,194L353,194M348,193L350,193M348,193L347,191M364,195L363,192M363,192L363,192M358,194L357,198M357,198L357,198M365,198L364,195M357,199L357,198M355,198L357,198M351,205L350,200M340,200L347,195M345,203L347,200M340,206L341,206M347,200L347,195M338,208L340,206M348,193L347,195M350,200L347,200M343,209L341,206M345,203L350,206M351,205L351,205M352,212L349,209M351,205L350,206M349,213L348,209M349,213L344,210M344,210L348,209M348,209L348,209M349,213L349,213M349,209L348,209M342,214L344,210M343,209L344,210M348,207L348,209M312,173L314,177M312,173L314,173M319,175L314,173M319,175L318,179M318,179L314,177M329,177L329,178M329,177L323,171M323,171L319,175M318,179L319,181M319,181L321,181M269,184L265,178M272,187L268,189M272,187L270,184M272,166L274,166M274,164L274,166M293,158L291,158M291,158L287,154M295,159L295,164M295,164L295,164M288,159L293,164M295,164L293,164M299,167L304,165M304,169L304,165M299,167L298,167M304,163L305,164M288,180L285,183M288,180L290,180M290,180L293,183M292,185L293,183M292,185L287,185M293,190L288,189M287,185L288,189M278,181L272,179M270,184L272,179M268,189L268,192M265,196L264,193M282,155L277,155M287,154L284,156M277,155L276,155M272,174L273,176M270,177L270,178M265,178L270,177M272,170L276,173M276,173L276,173M276,173L272,174M276,178L273,176M277,174L276,173M276,178L277,179M277,179L278,181M278,181L278,181M298,175L295,178M298,175L296,174M291,179L290,177M296,174L290,171M290,177L287,172M287,172L290,171M293,164L293,165M298,170L298,167M298,170L290,169M291,166L289,167M290,169L289,167M284,157L281,161M287,159L287,161M287,161L286,161M286,161L282,162M282,162L281,161M288,159L287,159M284,156L284,157M293,165L287,161M284,165L282,162M284,165L284,165M305,171L308,171M305,171L301,174M310,176L306,177M310,176L309,172M309,172L308,171M304,177L301,175M301,175L301,174M304,169L305,171M310,170L305,164M312,173L309,172M314,177L310,176M314,173L313,169M298,175L301,175M290,171L290,169M304,179L304,179M304,179L302,183M297,181L298,182M295,178L297,181M304,177L304,179M290,180L291,179M293,183L294,183M294,183L296,183M295,208L297,207M297,207L300,209M296,195L299,193M296,195L295,197M303,198L295,197M303,198L301,194M307,183L308,185M305,180L304,179M302,183L302,184M308,185L302,184M296,183L302,186M315,189L313,190M315,189L320,191M320,191L320,191M320,191L315,192M315,192L313,190M318,193L320,191M317,194L315,192M320,191L320,191M319,200L318,199M317,194L317,197M320,191L320,190M315,189L316,185M320,190L316,185M313,169L314,168M277,174L279,175M277,179L280,176M279,175L280,176M293,189L297,189M302,186L302,187M297,186L302,187M309,187L308,189M308,189L302,187M302,187L302,187M291,198L289,198M291,198L293,198M296,195L293,190M293,198L295,197M288,189L286,190M286,190L289,198M281,208L278,207M281,208L282,206M282,206L279,204M265,196L266,197M266,197L269,202M269,202L269,202M277,156L278,160M277,160L278,160M276,155L277,156M284,165L274,166M274,166L274,166M274,164L277,160M276,173L277,169M279,175L281,174M281,174L282,172M282,172L277,169M274,166L276,167M284,203L284,203M284,203L286,204M285,201L286,204M290,204L290,204M286,197L285,201M286,204L287,205M283,203L284,203M287,205L285,206M319,200L311,203M311,203L309,199M316,185L316,185M316,185L318,184M318,184L319,181M319,181L313,181M313,181L310,182M310,186L316,185M310,183L310,183M323,189L318,184M319,181L319,181M306,177L313,181M305,180L310,182M314,168L322,170M323,171L323,171M282,178L281,176M281,176L284,176M287,179L285,176M278,181L282,178M288,180L287,179M280,183L285,183M280,183L279,183M281,174L284,176M287,172L286,172M301,188L297,189M301,188L302,192M302,192L299,191M297,189L297,189M302,187L301,188M281,187L282,188M281,187L275,189M282,188L280,192M280,192L277,192M275,189L277,192M273,188L275,189M286,197L285,197M285,197L280,192M268,192L270,193M266,197L275,197M277,192L277,192M277,192L270,192M270,193L270,192M275,199L275,197M280,201L280,197M280,201L279,203M279,203L279,203M269,202L275,199M275,204L279,203M285,197L280,197M284,203L280,201M279,203L279,203M281,204L283,203M277,192L277,197M285,172L283,167M285,172L284,172M284,172L281,168M283,167L281,168M286,172L285,172M284,165L283,167M282,172L284,172M276,167L281,168M290,204L295,208M282,206L285,207M281,204L285,206M300,209L304,208M305,196L308,195M305,196L303,193M303,192L303,193M303,192L308,191M308,195L309,192M303,198L304,199M303,198L305,196M303,198L303,198M301,194L303,193M302,192L303,192M317,197L309,192M297,207L298,204M304,206L298,204M298,204L296,201M304,199L305,202M296,201L305,202M306,204L305,206M304,206L305,206M311,203L310,205" stroke="#7a3a2a" stroke-width="0.8" fill="none" stroke-linecap="round"/>
</g></g>
<text x="350.8" y="150.6" font-size="8.2" font-weight="normal" text-anchor="start" fill="#111"  stroke="#111" stroke-width="0.22">HCT-15-PD-L1</text>
<text x="371.5" y="239.8" font-size="12.2" font-weight="normal" text-anchor="start" fill="#111" stroke="#111" stroke-width="0.35" letter-spacing="0.35">50 µm</text>
<rect x="363.9" y="246" width="41.8" height="2.2" fill="#111"/>
<line x1="33.5" y1="361" x2="33.5" y2="440.2" stroke="#111" stroke-width="1.0" />
<line x1="33" y1="440.2" x2="152.67" y2="440.2" stroke="#111" stroke-width="1.0" />
<line x1="31" y1="440.2" x2="33.5" y2="440.2" stroke="#111" stroke-width="0.8" />
<text x="29.2" y="442.3" font-size="5.9" font-weight="bold" text-anchor="end" fill="#222"  stroke="#222" stroke-width="0.12">0</text>
<line x1="31" y1="422.2" x2="33.5" y2="422.2" stroke="#111" stroke-width="0.8" />
<text x="29.2" y="424.3" font-size="5.9" font-weight="bold" text-anchor="end" fill="#222"  stroke="#222" stroke-width="0.12">500</text>
<line x1="31" y1="404.2" x2="33.5" y2="404.2" stroke="#111" stroke-width="0.8" />
<text x="29.2" y="406.3" font-size="5.9" font-weight="bold" text-anchor="end" fill="#222"  stroke="#222" stroke-width="0.12">1,000</text>
<line x1="31" y1="386.2" x2="33.5" y2="386.2" stroke="#111" stroke-width="0.8" />
<text x="29.2" y="388.3" font-size="5.9" font-weight="bold" text-anchor="end" fill="#222"  stroke="#222" stroke-width="0.12">1,500</text>
<line x1="31" y1="368.2" x2="33.5" y2="368.2" stroke="#111" stroke-width="0.8" />
<text x="29.2" y="370.3" font-size="5.9" font-weight="bold" text-anchor="end" fill="#222"  stroke="#222" stroke-width="0.12">2,000</text>
<line x1="33.54" y1="440.2" x2="33.54" y2="441.6" stroke="#111" stroke-width="0.7" />
<line x1="37.15" y1="440.2" x2="37.15" y2="442.7" stroke="#111" stroke-width="0.8" />
<line x1="40.76" y1="440.2" x2="40.76" y2="441.6" stroke="#111" stroke-width="0.7" />
<line x1="44.37" y1="440.2" x2="44.37" y2="441.6" stroke="#111" stroke-width="0.7" />
<line x1="47.98" y1="440.2" x2="47.98" y2="441.6" stroke="#111" stroke-width="0.7" />
<line x1="51.59" y1="440.2" x2="51.59" y2="441.6" stroke="#111" stroke-width="0.7" />
<line x1="55.2" y1="440.2" x2="55.2" y2="442.7" stroke="#111" stroke-width="0.8" />
<line x1="58.81" y1="440.2" x2="58.81" y2="441.6" stroke="#111" stroke-width="0.7" />
<line x1="62.42" y1="440.2" x2="62.42" y2="441.6" stroke="#111" stroke-width="0.7" />
<line x1="66.03" y1="440.2" x2="66.03" y2="441.6" stroke="#111" stroke-width="0.7" />
<line x1="69.64" y1="440.2" x2="69.64" y2="441.6" stroke="#111" stroke-width="0.7" />
<line x1="73.25" y1="440.2" x2="73.25" y2="442.7" stroke="#111" stroke-width="0.8" />
<line x1="76.86" y1="440.2" x2="76.86" y2="441.6" stroke="#111" stroke-width="0.7" />
<line x1="80.47" y1="440.2" x2="80.47" y2="441.6" stroke="#111" stroke-width="0.7" />
<line x1="84.08" y1="440.2" x2="84.08" y2="441.6" stroke="#111" stroke-width="0.7" />
<line x1="87.69" y1="440.2" x2="87.69" y2="441.6" stroke="#111" stroke-width="0.7" />
<line x1="91.3" y1="440.2" x2="91.3" y2="442.7" stroke="#111" stroke-width="0.8" />
<line x1="94.91" y1="440.2" x2="94.91" y2="441.6" stroke="#111" stroke-width="0.7" />
<line x1="98.52" y1="440.2" x2="98.52" y2="441.6" stroke="#111" stroke-width="0.7" />
<line x1="102.13" y1="440.2" x2="102.13" y2="441.6" stroke="#111" stroke-width="0.7" />
<line x1="105.74" y1="440.2" x2="105.74" y2="441.6" stroke="#111" stroke-width="0.7" />
<line x1="109.35" y1="440.2" x2="109.35" y2="442.7" stroke="#111" stroke-width="0.8" />
<line x1="112.96" y1="440.2" x2="112.96" y2="441.6" stroke="#111" stroke-width="0.7" />
<line x1="116.57" y1="440.2" x2="116.57" y2="441.6" stroke="#111" stroke-width="0.7" />
<line x1="120.18" y1="440.2" x2="120.18" y2="441.6" stroke="#111" stroke-width="0.7" />
<line x1="123.79" y1="440.2" x2="123.79" y2="441.6" stroke="#111" stroke-width="0.7" />
<line x1="127.4" y1="440.2" x2="127.4" y2="442.7" stroke="#111" stroke-width="0.8" />
<line x1="131.01" y1="440.2" x2="131.01" y2="441.6" stroke="#111" stroke-width="0.7" />
<line x1="134.62" y1="440.2" x2="134.62" y2="441.6" stroke="#111" stroke-width="0.7" />
<line x1="138.23" y1="440.2" x2="138.23" y2="441.6" stroke="#111" stroke-width="0.7" />
<line x1="141.84" y1="440.2" x2="141.84" y2="441.6" stroke="#111" stroke-width="0.7" />
<line x1="145.45" y1="440.2" x2="145.45" y2="442.7" stroke="#111" stroke-width="0.8" />
<line x1="149.06" y1="440.2" x2="149.06" y2="441.6" stroke="#111" stroke-width="0.7" />
<line x1="152.67" y1="440.2" x2="152.67" y2="441.6" stroke="#111" stroke-width="0.7" />
<text x="36.55" y="450" font-size="6.0" font-weight="bold" text-anchor="middle" fill="#222"  stroke="#222" stroke-width="0.12">−5</text>
<text x="55.2" y="450" font-size="6.0" font-weight="bold" text-anchor="middle" fill="#222"  stroke="#222" stroke-width="0.12">0</text>
<text x="73.25" y="450" font-size="6.0" font-weight="bold" text-anchor="middle" fill="#222"  stroke="#222" stroke-width="0.12">5</text>
<text x="91.3" y="450" font-size="6.0" font-weight="bold" text-anchor="middle" fill="#222"  stroke="#222" stroke-width="0.12">10</text>
<text x="109.35" y="450" font-size="6.0" font-weight="bold" text-anchor="middle" fill="#222"  stroke="#222" stroke-width="0.12">15</text>
<text x="127.4" y="450" font-size="6.0" font-weight="bold" text-anchor="middle" fill="#222"  stroke="#222" stroke-width="0.12">20</text>
<text x="145.45" y="450" font-size="6.0" font-weight="bold" text-anchor="middle" fill="#222"  stroke="#222" stroke-width="0.12">25</text>
<text x="92.38" y="459.2" font-size="6.6" font-weight="bold" text-anchor="middle" fill="#111"  stroke="#111" stroke-width="0.12">Days</text>
<text transform="translate(7.8,402.8) rotate(-90)" font-size="7" font-weight="bold" text-anchor="middle" fill="#222" stroke="#222" stroke-width="0.12">Tumor volume <tspan font-size="5.3" font-weight="normal" stroke-width="0.2">(mm</tspan><tspan dy="-2.1" font-size="3.9">3</tspan><tspan dy="2.1" font-size="5.3" font-weight="normal" stroke-width="0.2">)</tspan></text>
<text x="97.08" y="349.2" font-size="6.5" font-weight="bold" text-anchor="middle" fill="#111"  stroke="#111" stroke-width="0.12">Treatment</text>
<polygon points="58.73,353.5 60.33,353.5 60.33,355 61.93,355 59.53,360.3 57.13,355 58.73,355" fill="#111" />
<polygon points="83.64,353.5 85.24,353.5 85.24,355 86.84,355 84.44,360.3 82.04,355 83.64,355" fill="#111" />
<polygon points="108.55,353.5 110.15,353.5 110.15,355 111.75,355 109.35,360.3 106.95,355 108.55,355" fill="#111" />
<polygon points="134.18,353.5 135.78,353.5 135.78,355 137.38,355 134.98,360.3 132.58,355 134.18,355" fill="#111" />
<text x="55.8" y="416.6" font-size="5.6" font-weight="normal" text-anchor="middle" fill="#555"  stroke="#555" stroke-width="0.22">PBMCs</text>
<line x1="55.3" y1="420" x2="55.3" y2="425.5" stroke="#111" stroke-width="0.9" />
<polygon points="53,424.3 57.6,424.3 55.3,430" fill="#111" />
<polyline points="33.54,440.2 55.2,437.32 73.25,431.92 84.08,418.6 98.52,395.56 102.13,395.02 109.35,389.98 120.18,387.46 127.4,363.7" fill="none" stroke="#aaaaaa" stroke-width="0.8" stroke-linejoin="round" />
<polyline points="33.54,440.2 55.2,437.68 73.25,433 84.08,421.3 98.52,403.84 102.13,402.4 109.35,398.8 120.18,399.99 127.4,367.48" fill="none" stroke="#aaaaaa" stroke-width="0.8" stroke-linejoin="round" />
<polyline points="33.54,440.2 55.2,438.04 73.25,434.08 84.08,425.08 98.52,408.7 102.13,404.2 109.35,400.96 120.18,392.5 127.4,386.2 134.62,377.92" fill="none" stroke="#aaaaaa" stroke-width="0.8" stroke-linejoin="round" />
<polyline points="33.54,440.2 55.2,438.22 73.25,435.52 84.08,429.4 98.52,417.52 102.13,415 109.35,402.4 120.18,393.4 127.4,383.68" fill="none" stroke="#aaaaaa" stroke-width="0.8" stroke-linejoin="round" />
<polyline points="33.54,440.2 55.2,438.4 73.25,436.96 84.08,434.98 98.52,422.2 102.13,421.3 109.35,404.2 120.18,399.99 127.4,388" fill="none" stroke="#aaaaaa" stroke-width="0.8" stroke-linejoin="round" />
<line x1="32.34" y1="440.2" x2="34.74" y2="440.2" stroke="#999" stroke-width="0.7" />
<line x1="33.54" y1="439" x2="33.54" y2="441.4" stroke="#999" stroke-width="0.7" />
<line x1="54" y1="437.32" x2="56.4" y2="437.32" stroke="#999" stroke-width="0.7" />
<line x1="55.2" y1="436.12" x2="55.2" y2="438.52" stroke="#999" stroke-width="0.7" />
<line x1="72.05" y1="431.92" x2="74.45" y2="431.92" stroke="#999" stroke-width="0.7" />
<line x1="73.25" y1="430.72" x2="73.25" y2="433.12" stroke="#999" stroke-width="0.7" />
<line x1="82.88" y1="418.6" x2="85.28" y2="418.6" stroke="#999" stroke-width="0.7" />
<line x1="84.08" y1="417.4" x2="84.08" y2="419.8" stroke="#999" stroke-width="0.7" />
<line x1="97.32" y1="395.56" x2="99.72" y2="395.56" stroke="#999" stroke-width="0.7" />
<line x1="98.52" y1="394.36" x2="98.52" y2="396.76" stroke="#999" stroke-width="0.7" />
<line x1="100.93" y1="395.02" x2="103.33" y2="395.02" stroke="#999" stroke-width="0.7" />
<line x1="102.13" y1="393.82" x2="102.13" y2="396.22" stroke="#999" stroke-width="0.7" />
<line x1="108.15" y1="389.98" x2="110.55" y2="389.98" stroke="#999" stroke-width="0.7" />
<line x1="109.35" y1="388.78" x2="109.35" y2="391.18" stroke="#999" stroke-width="0.7" />
<line x1="118.98" y1="387.46" x2="121.38" y2="387.46" stroke="#999" stroke-width="0.7" />
<line x1="120.18" y1="386.26" x2="120.18" y2="388.66" stroke="#999" stroke-width="0.7" />
<line x1="126.2" y1="363.7" x2="128.6" y2="363.7" stroke="#999" stroke-width="0.7" />
<line x1="127.4" y1="362.5" x2="127.4" y2="364.9" stroke="#999" stroke-width="0.7" />
<line x1="32.34" y1="440.2" x2="34.74" y2="440.2" stroke="#999" stroke-width="0.7" />
<line x1="33.54" y1="439" x2="33.54" y2="441.4" stroke="#999" stroke-width="0.7" />
<line x1="54" y1="437.68" x2="56.4" y2="437.68" stroke="#999" stroke-width="0.7" />
<line x1="55.2" y1="436.48" x2="55.2" y2="438.88" stroke="#999" stroke-width="0.7" />
<line x1="72.05" y1="433" x2="74.45" y2="433" stroke="#999" stroke-width="0.7" />
<line x1="73.25" y1="431.8" x2="73.25" y2="434.2" stroke="#999" stroke-width="0.7" />
<line x1="82.88" y1="421.3" x2="85.28" y2="421.3" stroke="#999" stroke-width="0.7" />
<line x1="84.08" y1="420.1" x2="84.08" y2="422.5" stroke="#999" stroke-width="0.7" />
<line x1="97.32" y1="403.84" x2="99.72" y2="403.84" stroke="#999" stroke-width="0.7" />
<line x1="98.52" y1="402.64" x2="98.52" y2="405.04" stroke="#999" stroke-width="0.7" />
<line x1="100.93" y1="402.4" x2="103.33" y2="402.4" stroke="#999" stroke-width="0.7" />
<line x1="102.13" y1="401.2" x2="102.13" y2="403.6" stroke="#999" stroke-width="0.7" />
<line x1="108.15" y1="398.8" x2="110.55" y2="398.8" stroke="#999" stroke-width="0.7" />
<line x1="109.35" y1="397.6" x2="109.35" y2="400" stroke="#999" stroke-width="0.7" />
<line x1="118.98" y1="399.99" x2="121.38" y2="399.99" stroke="#999" stroke-width="0.7" />
<line x1="120.18" y1="398.79" x2="120.18" y2="401.19" stroke="#999" stroke-width="0.7" />
<line x1="126.2" y1="367.48" x2="128.6" y2="367.48" stroke="#999" stroke-width="0.7" />
<line x1="127.4" y1="366.28" x2="127.4" y2="368.68" stroke="#999" stroke-width="0.7" />
<line x1="32.34" y1="440.2" x2="34.74" y2="440.2" stroke="#999" stroke-width="0.7" />
<line x1="33.54" y1="439" x2="33.54" y2="441.4" stroke="#999" stroke-width="0.7" />
<line x1="54" y1="438.04" x2="56.4" y2="438.04" stroke="#999" stroke-width="0.7" />
<line x1="55.2" y1="436.84" x2="55.2" y2="439.24" stroke="#999" stroke-width="0.7" />
<line x1="72.05" y1="434.08" x2="74.45" y2="434.08" stroke="#999" stroke-width="0.7" />
<line x1="73.25" y1="432.88" x2="73.25" y2="435.28" stroke="#999" stroke-width="0.7" />
<line x1="82.88" y1="425.08" x2="85.28" y2="425.08" stroke="#999" stroke-width="0.7" />
<line x1="84.08" y1="423.88" x2="84.08" y2="426.28" stroke="#999" stroke-width="0.7" />
<line x1="97.32" y1="408.7" x2="99.72" y2="408.7" stroke="#999" stroke-width="0.7" />
<line x1="98.52" y1="407.5" x2="98.52" y2="409.9" stroke="#999" stroke-width="0.7" />
<line x1="100.93" y1="404.2" x2="103.33" y2="404.2" stroke="#999" stroke-width="0.7" />
<line x1="102.13" y1="403" x2="102.13" y2="405.4" stroke="#999" stroke-width="0.7" />
<line x1="108.15" y1="400.96" x2="110.55" y2="400.96" stroke="#999" stroke-width="0.7" />
<line x1="109.35" y1="399.76" x2="109.35" y2="402.16" stroke="#999" stroke-width="0.7" />
<line x1="118.98" y1="392.5" x2="121.38" y2="392.5" stroke="#999" stroke-width="0.7" />
<line x1="120.18" y1="391.3" x2="120.18" y2="393.7" stroke="#999" stroke-width="0.7" />
<line x1="126.2" y1="386.2" x2="128.6" y2="386.2" stroke="#999" stroke-width="0.7" />
<line x1="127.4" y1="385" x2="127.4" y2="387.4" stroke="#999" stroke-width="0.7" />
<line x1="133.42" y1="377.92" x2="135.82" y2="377.92" stroke="#999" stroke-width="0.7" />
<line x1="134.62" y1="376.72" x2="134.62" y2="379.12" stroke="#999" stroke-width="0.7" />
<line x1="32.34" y1="440.2" x2="34.74" y2="440.2" stroke="#999" stroke-width="0.7" />
<line x1="33.54" y1="439" x2="33.54" y2="441.4" stroke="#999" stroke-width="0.7" />
<line x1="54" y1="438.22" x2="56.4" y2="438.22" stroke="#999" stroke-width="0.7" />
<line x1="55.2" y1="437.02" x2="55.2" y2="439.42" stroke="#999" stroke-width="0.7" />
<line x1="72.05" y1="435.52" x2="74.45" y2="435.52" stroke="#999" stroke-width="0.7" />
<line x1="73.25" y1="434.32" x2="73.25" y2="436.72" stroke="#999" stroke-width="0.7" />
<line x1="82.88" y1="429.4" x2="85.28" y2="429.4" stroke="#999" stroke-width="0.7" />
<line x1="84.08" y1="428.2" x2="84.08" y2="430.6" stroke="#999" stroke-width="0.7" />
<line x1="97.32" y1="417.52" x2="99.72" y2="417.52" stroke="#999" stroke-width="0.7" />
<line x1="98.52" y1="416.32" x2="98.52" y2="418.72" stroke="#999" stroke-width="0.7" />
<line x1="100.93" y1="415" x2="103.33" y2="415" stroke="#999" stroke-width="0.7" />
<line x1="102.13" y1="413.8" x2="102.13" y2="416.2" stroke="#999" stroke-width="0.7" />
<line x1="108.15" y1="402.4" x2="110.55" y2="402.4" stroke="#999" stroke-width="0.7" />
<line x1="109.35" y1="401.2" x2="109.35" y2="403.6" stroke="#999" stroke-width="0.7" />
<line x1="118.98" y1="393.4" x2="121.38" y2="393.4" stroke="#999" stroke-width="0.7" />
<line x1="120.18" y1="392.2" x2="120.18" y2="394.6" stroke="#999" stroke-width="0.7" />
<line x1="126.2" y1="383.68" x2="128.6" y2="383.68" stroke="#999" stroke-width="0.7" />
<line x1="127.4" y1="382.48" x2="127.4" y2="384.88" stroke="#999" stroke-width="0.7" />
<line x1="32.34" y1="440.2" x2="34.74" y2="440.2" stroke="#999" stroke-width="0.7" />
<line x1="33.54" y1="439" x2="33.54" y2="441.4" stroke="#999" stroke-width="0.7" />
<line x1="54" y1="438.4" x2="56.4" y2="438.4" stroke="#999" stroke-width="0.7" />
<line x1="55.2" y1="437.2" x2="55.2" y2="439.6" stroke="#999" stroke-width="0.7" />
<line x1="72.05" y1="436.96" x2="74.45" y2="436.96" stroke="#999" stroke-width="0.7" />
<line x1="73.25" y1="435.76" x2="73.25" y2="438.16" stroke="#999" stroke-width="0.7" />
<line x1="82.88" y1="434.98" x2="85.28" y2="434.98" stroke="#999" stroke-width="0.7" />
<line x1="84.08" y1="433.78" x2="84.08" y2="436.18" stroke="#999" stroke-width="0.7" />
<line x1="97.32" y1="422.2" x2="99.72" y2="422.2" stroke="#999" stroke-width="0.7" />
<line x1="98.52" y1="421" x2="98.52" y2="423.4" stroke="#999" stroke-width="0.7" />
<line x1="100.93" y1="421.3" x2="103.33" y2="421.3" stroke="#999" stroke-width="0.7" />
<line x1="102.13" y1="420.1" x2="102.13" y2="422.5" stroke="#999" stroke-width="0.7" />
<line x1="108.15" y1="404.2" x2="110.55" y2="404.2" stroke="#999" stroke-width="0.7" />
<line x1="109.35" y1="403" x2="109.35" y2="405.4" stroke="#999" stroke-width="0.7" />
<line x1="118.98" y1="399.99" x2="121.38" y2="399.99" stroke="#999" stroke-width="0.7" />
<line x1="120.18" y1="398.79" x2="120.18" y2="401.19" stroke="#999" stroke-width="0.7" />
<line x1="126.2" y1="388" x2="128.6" y2="388" stroke="#999" stroke-width="0.7" />
<line x1="127.4" y1="386.8" x2="127.4" y2="389.2" stroke="#999" stroke-width="0.7" />
<polyline points="33.54,440.2 55.2,436.96 73.25,427.24 84.08,421.12 98.52,393.4 102.13,391.24 109.35,384.4" fill="none" stroke="#3a3a3a" stroke-width="0.85" stroke-linejoin="round" />
<polyline points="33.54,440.2 55.2,437.32 73.25,431.38 84.08,423.64 98.52,403.12 102.13,398.98 109.35,395.2 120.18,390.88 127.4,376.48" fill="none" stroke="#3a3a3a" stroke-width="0.85" stroke-linejoin="round" />
<polyline points="33.54,440.2 55.2,437.68 73.25,434.26 84.08,426.52 98.52,416.26 102.13,413.92 109.35,404.2 120.18,390.88 127.4,381.88" fill="none" stroke="#3a3a3a" stroke-width="0.85" stroke-linejoin="round" />
<polyline points="33.54,440.2 55.2,438.04 73.25,435.52 84.08,430.12 98.52,420.4 102.13,416.8 109.35,402.4 120.18,393.4 127.4,384.4" fill="none" stroke="#3a3a3a" stroke-width="0.85" stroke-linejoin="round" />
<polyline points="33.54,440.2 55.2,438.4 73.25,436.6 84.08,433.18 98.52,420.4 102.13,404.2 109.35,397 120.18,389.8 127.4,382.6" fill="none" stroke="#3a3a3a" stroke-width="0.85" stroke-linejoin="round" />
<line x1="31.89" y1="438.55" x2="35.19" y2="441.85" stroke="#111" stroke-width="1.0" />
<line x1="31.89" y1="441.85" x2="35.19" y2="438.55" stroke="#111" stroke-width="1.0" />
<line x1="53.55" y1="435.31" x2="56.85" y2="438.61" stroke="#111" stroke-width="1.0" />
<line x1="53.55" y1="438.61" x2="56.85" y2="435.31" stroke="#111" stroke-width="1.0" />
<line x1="71.6" y1="425.59" x2="74.9" y2="428.89" stroke="#111" stroke-width="1.0" />
<line x1="71.6" y1="428.89" x2="74.9" y2="425.59" stroke="#111" stroke-width="1.0" />
<line x1="82.43" y1="419.47" x2="85.73" y2="422.77" stroke="#111" stroke-width="1.0" />
<line x1="82.43" y1="422.77" x2="85.73" y2="419.47" stroke="#111" stroke-width="1.0" />
<line x1="96.87" y1="391.75" x2="100.17" y2="395.05" stroke="#111" stroke-width="1.0" />
<line x1="96.87" y1="395.05" x2="100.17" y2="391.75" stroke="#111" stroke-width="1.0" />
<line x1="100.48" y1="389.59" x2="103.78" y2="392.89" stroke="#111" stroke-width="1.0" />
<line x1="100.48" y1="392.89" x2="103.78" y2="389.59" stroke="#111" stroke-width="1.0" />
<line x1="107.7" y1="382.75" x2="111" y2="386.05" stroke="#111" stroke-width="1.0" />
<line x1="107.7" y1="386.05" x2="111" y2="382.75" stroke="#111" stroke-width="1.0" />
<line x1="31.89" y1="438.55" x2="35.19" y2="441.85" stroke="#111" stroke-width="1.0" />
<line x1="31.89" y1="441.85" x2="35.19" y2="438.55" stroke="#111" stroke-width="1.0" />
<line x1="53.55" y1="435.67" x2="56.85" y2="438.97" stroke="#111" stroke-width="1.0" />
<line x1="53.55" y1="438.97" x2="56.85" y2="435.67" stroke="#111" stroke-width="1.0" />
<line x1="71.6" y1="429.73" x2="74.9" y2="433.03" stroke="#111" stroke-width="1.0" />
<line x1="71.6" y1="433.03" x2="74.9" y2="429.73" stroke="#111" stroke-width="1.0" />
<line x1="82.43" y1="421.99" x2="85.73" y2="425.29" stroke="#111" stroke-width="1.0" />
<line x1="82.43" y1="425.29" x2="85.73" y2="421.99" stroke="#111" stroke-width="1.0" />
<line x1="96.87" y1="401.47" x2="100.17" y2="404.77" stroke="#111" stroke-width="1.0" />
<line x1="96.87" y1="404.77" x2="100.17" y2="401.47" stroke="#111" stroke-width="1.0" />
<line x1="100.48" y1="397.33" x2="103.78" y2="400.63" stroke="#111" stroke-width="1.0" />
<line x1="100.48" y1="400.63" x2="103.78" y2="397.33" stroke="#111" stroke-width="1.0" />
<line x1="107.7" y1="393.55" x2="111" y2="396.85" stroke="#111" stroke-width="1.0" />
<line x1="107.7" y1="396.85" x2="111" y2="393.55" stroke="#111" stroke-width="1.0" />
<line x1="118.53" y1="389.23" x2="121.83" y2="392.53" stroke="#111" stroke-width="1.0" />
<line x1="118.53" y1="392.53" x2="121.83" y2="389.23" stroke="#111" stroke-width="1.0" />
<line x1="125.75" y1="374.83" x2="129.05" y2="378.13" stroke="#111" stroke-width="1.0" />
<line x1="125.75" y1="378.13" x2="129.05" y2="374.83" stroke="#111" stroke-width="1.0" />
<line x1="31.89" y1="438.55" x2="35.19" y2="441.85" stroke="#111" stroke-width="1.0" />
<line x1="31.89" y1="441.85" x2="35.19" y2="438.55" stroke="#111" stroke-width="1.0" />
<line x1="53.55" y1="436.03" x2="56.85" y2="439.33" stroke="#111" stroke-width="1.0" />
<line x1="53.55" y1="439.33" x2="56.85" y2="436.03" stroke="#111" stroke-width="1.0" />
<line x1="71.6" y1="432.61" x2="74.9" y2="435.91" stroke="#111" stroke-width="1.0" />
<line x1="71.6" y1="435.91" x2="74.9" y2="432.61" stroke="#111" stroke-width="1.0" />
<line x1="82.43" y1="424.87" x2="85.73" y2="428.17" stroke="#111" stroke-width="1.0" />
<line x1="82.43" y1="428.17" x2="85.73" y2="424.87" stroke="#111" stroke-width="1.0" />
<line x1="96.87" y1="414.61" x2="100.17" y2="417.91" stroke="#111" stroke-width="1.0" />
<line x1="96.87" y1="417.91" x2="100.17" y2="414.61" stroke="#111" stroke-width="1.0" />
<line x1="100.48" y1="412.27" x2="103.78" y2="415.57" stroke="#111" stroke-width="1.0" />
<line x1="100.48" y1="415.57" x2="103.78" y2="412.27" stroke="#111" stroke-width="1.0" />
<line x1="107.7" y1="402.55" x2="111" y2="405.85" stroke="#111" stroke-width="1.0" />
<line x1="107.7" y1="405.85" x2="111" y2="402.55" stroke="#111" stroke-width="1.0" />
<line x1="118.53" y1="389.23" x2="121.83" y2="392.53" stroke="#111" stroke-width="1.0" />
<line x1="118.53" y1="392.53" x2="121.83" y2="389.23" stroke="#111" stroke-width="1.0" />
<line x1="125.75" y1="380.23" x2="129.05" y2="383.53" stroke="#111" stroke-width="1.0" />
<line x1="125.75" y1="383.53" x2="129.05" y2="380.23" stroke="#111" stroke-width="1.0" />
<line x1="31.89" y1="438.55" x2="35.19" y2="441.85" stroke="#111" stroke-width="1.0" />
<line x1="31.89" y1="441.85" x2="35.19" y2="438.55" stroke="#111" stroke-width="1.0" />
<line x1="53.55" y1="436.39" x2="56.85" y2="439.69" stroke="#111" stroke-width="1.0" />
<line x1="53.55" y1="439.69" x2="56.85" y2="436.39" stroke="#111" stroke-width="1.0" />
<line x1="71.6" y1="433.87" x2="74.9" y2="437.17" stroke="#111" stroke-width="1.0" />
<line x1="71.6" y1="437.17" x2="74.9" y2="433.87" stroke="#111" stroke-width="1.0" />
<line x1="82.43" y1="428.47" x2="85.73" y2="431.77" stroke="#111" stroke-width="1.0" />
<line x1="82.43" y1="431.77" x2="85.73" y2="428.47" stroke="#111" stroke-width="1.0" />
<line x1="96.87" y1="418.75" x2="100.17" y2="422.05" stroke="#111" stroke-width="1.0" />
<line x1="96.87" y1="422.05" x2="100.17" y2="418.75" stroke="#111" stroke-width="1.0" />
<line x1="100.48" y1="415.15" x2="103.78" y2="418.45" stroke="#111" stroke-width="1.0" />
<line x1="100.48" y1="418.45" x2="103.78" y2="415.15" stroke="#111" stroke-width="1.0" />
<line x1="107.7" y1="400.75" x2="111" y2="404.05" stroke="#111" stroke-width="1.0" />
<line x1="107.7" y1="404.05" x2="111" y2="400.75" stroke="#111" stroke-width="1.0" />
<line x1="118.53" y1="391.75" x2="121.83" y2="395.05" stroke="#111" stroke-width="1.0" />
<line x1="118.53" y1="395.05" x2="121.83" y2="391.75" stroke="#111" stroke-width="1.0" />
<line x1="125.75" y1="382.75" x2="129.05" y2="386.05" stroke="#111" stroke-width="1.0" />
<line x1="125.75" y1="386.05" x2="129.05" y2="382.75" stroke="#111" stroke-width="1.0" />
<line x1="31.89" y1="438.55" x2="35.19" y2="441.85" stroke="#111" stroke-width="1.0" />
<line x1="31.89" y1="441.85" x2="35.19" y2="438.55" stroke="#111" stroke-width="1.0" />
<line x1="53.55" y1="436.75" x2="56.85" y2="440.05" stroke="#111" stroke-width="1.0" />
<line x1="53.55" y1="440.05" x2="56.85" y2="436.75" stroke="#111" stroke-width="1.0" />
<line x1="71.6" y1="434.95" x2="74.9" y2="438.25" stroke="#111" stroke-width="1.0" />
<line x1="71.6" y1="438.25" x2="74.9" y2="434.95" stroke="#111" stroke-width="1.0" />
<line x1="82.43" y1="431.53" x2="85.73" y2="434.83" stroke="#111" stroke-width="1.0" />
<line x1="82.43" y1="434.83" x2="85.73" y2="431.53" stroke="#111" stroke-width="1.0" />
<line x1="96.87" y1="418.75" x2="100.17" y2="422.05" stroke="#111" stroke-width="1.0" />
<line x1="96.87" y1="422.05" x2="100.17" y2="418.75" stroke="#111" stroke-width="1.0" />
<line x1="100.48" y1="402.55" x2="103.78" y2="405.85" stroke="#111" stroke-width="1.0" />
<line x1="100.48" y1="405.85" x2="103.78" y2="402.55" stroke="#111" stroke-width="1.0" />
<line x1="107.7" y1="395.35" x2="111" y2="398.65" stroke="#111" stroke-width="1.0" />
<line x1="107.7" y1="398.65" x2="111" y2="395.35" stroke="#111" stroke-width="1.0" />
<line x1="118.53" y1="388.15" x2="121.83" y2="391.45" stroke="#111" stroke-width="1.0" />
<line x1="118.53" y1="391.45" x2="121.83" y2="388.15" stroke="#111" stroke-width="1.0" />
<line x1="125.75" y1="380.95" x2="129.05" y2="384.25" stroke="#111" stroke-width="1.0" />
<line x1="125.75" y1="384.25" x2="129.05" y2="380.95" stroke="#111" stroke-width="1.0" />
<line x1="36" y1="476.3" x2="55.5" y2="476.3" stroke="#aaaaaa" stroke-width="0.9" />
<line x1="44.8" y1="476.3" x2="47.2" y2="476.3" stroke="#999" stroke-width="0.7" />
<line x1="46" y1="475.1" x2="46" y2="477.5" stroke="#999" stroke-width="0.7" />
<text x="60" y="477.8" font-size="6.3" font-weight="bold" text-anchor="start" fill="#222"  stroke="#222" stroke-width="0.12">Vehicle, q7d</text>
<line x1="36" y1="486.8" x2="55.5" y2="486.8" stroke="#3a3a3a" stroke-width="0.9" />
<line x1="44.35" y1="485.15" x2="47.65" y2="488.45" stroke="#111" stroke-width="1.0" />
<line x1="44.35" y1="488.45" x2="47.65" y2="485.15" stroke="#111" stroke-width="1.0" />
<text x="60" y="488.3" font-size="6.3" font-weight="bold" text-anchor="start" fill="#222"  stroke="#222" stroke-width="0.12">anti-PD-1, 10 mg/kg, q7d</text>
<line x1="214.2" y1="361" x2="214.2" y2="440.2" stroke="#111" stroke-width="1.0" />
<line x1="213.7" y1="440.2" x2="333.37" y2="440.2" stroke="#111" stroke-width="1.0" />
<line x1="211.7" y1="440.2" x2="214.2" y2="440.2" stroke="#111" stroke-width="0.8" />
<text x="209.9" y="442.3" font-size="5.9" font-weight="bold" text-anchor="end" fill="#222"  stroke="#222" stroke-width="0.12">0</text>
<line x1="211.7" y1="422.2" x2="214.2" y2="422.2" stroke="#111" stroke-width="0.8" />
<text x="209.9" y="424.3" font-size="5.9" font-weight="bold" text-anchor="end" fill="#222"  stroke="#222" stroke-width="0.12">500</text>
<line x1="211.7" y1="404.2" x2="214.2" y2="404.2" stroke="#111" stroke-width="0.8" />
<text x="209.9" y="406.3" font-size="5.9" font-weight="bold" text-anchor="end" fill="#222"  stroke="#222" stroke-width="0.12">1,000</text>
<line x1="211.7" y1="386.2" x2="214.2" y2="386.2" stroke="#111" stroke-width="0.8" />
<text x="209.9" y="388.3" font-size="5.9" font-weight="bold" text-anchor="end" fill="#222"  stroke="#222" stroke-width="0.12">1,500</text>
<line x1="211.7" y1="368.2" x2="214.2" y2="368.2" stroke="#111" stroke-width="0.8" />
<text x="209.9" y="370.3" font-size="5.9" font-weight="bold" text-anchor="end" fill="#222"  stroke="#222" stroke-width="0.12">2,000</text>
<line x1="214.24" y1="440.2" x2="214.24" y2="441.6" stroke="#111" stroke-width="0.7" />
<line x1="217.85" y1="440.2" x2="217.85" y2="442.7" stroke="#111" stroke-width="0.8" />
<line x1="221.46" y1="440.2" x2="221.46" y2="441.6" stroke="#111" stroke-width="0.7" />
<line x1="225.07" y1="440.2" x2="225.07" y2="441.6" stroke="#111" stroke-width="0.7" />
<line x1="228.68" y1="440.2" x2="228.68" y2="441.6" stroke="#111" stroke-width="0.7" />
<line x1="232.29" y1="440.2" x2="232.29" y2="441.6" stroke="#111" stroke-width="0.7" />
<line x1="235.9" y1="440.2" x2="235.9" y2="442.7" stroke="#111" stroke-width="0.8" />
<line x1="239.51" y1="440.2" x2="239.51" y2="441.6" stroke="#111" stroke-width="0.7" />
<line x1="243.12" y1="440.2" x2="243.12" y2="441.6" stroke="#111" stroke-width="0.7" />
<line x1="246.73" y1="440.2" x2="246.73" y2="441.6" stroke="#111" stroke-width="0.7" />
<line x1="250.34" y1="440.2" x2="250.34" y2="441.6" stroke="#111" stroke-width="0.7" />
<line x1="253.95" y1="440.2" x2="253.95" y2="442.7" stroke="#111" stroke-width="0.8" />
<line x1="257.56" y1="440.2" x2="257.56" y2="441.6" stroke="#111" stroke-width="0.7" />
<line x1="261.17" y1="440.2" x2="261.17" y2="441.6" stroke="#111" stroke-width="0.7" />
<line x1="264.78" y1="440.2" x2="264.78" y2="441.6" stroke="#111" stroke-width="0.7" />
<line x1="268.39" y1="440.2" x2="268.39" y2="441.6" stroke="#111" stroke-width="0.7" />
<line x1="272" y1="440.2" x2="272" y2="442.7" stroke="#111" stroke-width="0.8" />
<line x1="275.61" y1="440.2" x2="275.61" y2="441.6" stroke="#111" stroke-width="0.7" />
<line x1="279.22" y1="440.2" x2="279.22" y2="441.6" stroke="#111" stroke-width="0.7" />
<line x1="282.83" y1="440.2" x2="282.83" y2="441.6" stroke="#111" stroke-width="0.7" />
<line x1="286.44" y1="440.2" x2="286.44" y2="441.6" stroke="#111" stroke-width="0.7" />
<line x1="290.05" y1="440.2" x2="290.05" y2="442.7" stroke="#111" stroke-width="0.8" />
<line x1="293.66" y1="440.2" x2="293.66" y2="441.6" stroke="#111" stroke-width="0.7" />
<line x1="297.27" y1="440.2" x2="297.27" y2="441.6" stroke="#111" stroke-width="0.7" />
<line x1="300.88" y1="440.2" x2="300.88" y2="441.6" stroke="#111" stroke-width="0.7" />
<line x1="304.49" y1="440.2" x2="304.49" y2="441.6" stroke="#111" stroke-width="0.7" />
<line x1="308.1" y1="440.2" x2="308.1" y2="442.7" stroke="#111" stroke-width="0.8" />
<line x1="311.71" y1="440.2" x2="311.71" y2="441.6" stroke="#111" stroke-width="0.7" />
<line x1="315.32" y1="440.2" x2="315.32" y2="441.6" stroke="#111" stroke-width="0.7" />
<line x1="318.93" y1="440.2" x2="318.93" y2="441.6" stroke="#111" stroke-width="0.7" />
<line x1="322.54" y1="440.2" x2="322.54" y2="441.6" stroke="#111" stroke-width="0.7" />
<line x1="326.15" y1="440.2" x2="326.15" y2="442.7" stroke="#111" stroke-width="0.8" />
<line x1="329.76" y1="440.2" x2="329.76" y2="441.6" stroke="#111" stroke-width="0.7" />
<line x1="333.37" y1="440.2" x2="333.37" y2="441.6" stroke="#111" stroke-width="0.7" />
<text x="217.25" y="450" font-size="6.0" font-weight="bold" text-anchor="middle" fill="#222"  stroke="#222" stroke-width="0.12">−5</text>
<text x="235.9" y="450" font-size="6.0" font-weight="bold" text-anchor="middle" fill="#222"  stroke="#222" stroke-width="0.12">0</text>
<text x="253.95" y="450" font-size="6.0" font-weight="bold" text-anchor="middle" fill="#222"  stroke="#222" stroke-width="0.12">5</text>
<text x="272" y="450" font-size="6.0" font-weight="bold" text-anchor="middle" fill="#222"  stroke="#222" stroke-width="0.12">10</text>
<text x="290.05" y="450" font-size="6.0" font-weight="bold" text-anchor="middle" fill="#222"  stroke="#222" stroke-width="0.12">15</text>
<text x="308.1" y="450" font-size="6.0" font-weight="bold" text-anchor="middle" fill="#222"  stroke="#222" stroke-width="0.12">20</text>
<text x="326.15" y="450" font-size="6.0" font-weight="bold" text-anchor="middle" fill="#222"  stroke="#222" stroke-width="0.12">25</text>
<text x="273.08" y="459.2" font-size="6.6" font-weight="bold" text-anchor="middle" fill="#111"  stroke="#111" stroke-width="0.12">Days</text>
<text transform="translate(188.5,402.8) rotate(-90)" font-size="7" font-weight="bold" text-anchor="middle" fill="#222" stroke="#222" stroke-width="0.12">Tumor volume <tspan font-size="5.3" font-weight="normal" stroke-width="0.2">(mm</tspan><tspan dy="-2.1" font-size="3.9">3</tspan><tspan dy="2.1" font-size="5.3" font-weight="normal" stroke-width="0.2">)</tspan></text>
<text x="277.78" y="349.2" font-size="6.5" font-weight="bold" text-anchor="middle" fill="#111"  stroke="#111" stroke-width="0.12">Treatment</text>
<polygon points="239.43,353.5 241.03,353.5 241.03,355 242.63,355 240.23,360.3 237.83,355 239.43,355" fill="#111" />
<polygon points="264.34,353.5 265.94,353.5 265.94,355 267.54,355 265.14,360.3 262.74,355 264.34,355" fill="#111" />
<polygon points="289.25,353.5 290.85,353.5 290.85,355 292.45,355 290.05,360.3 287.65,355 289.25,355" fill="#111" />
<polygon points="314.88,353.5 316.48,353.5 316.48,355 318.08,355 315.68,360.3 313.28,355 314.88,355" fill="#111" />
<text x="236.5" y="416.6" font-size="5.6" font-weight="normal" text-anchor="middle" fill="#555"  stroke="#555" stroke-width="0.22">PBMCs</text>
<line x1="236" y1="420" x2="236" y2="425.5" stroke="#111" stroke-width="0.9" />
<polygon points="233.7,424.3 238.3,424.3 236,430" fill="#111" />
<polyline points="214.24,440.2 235.9,437.32 253.95,431.92 264.78,418.6 279.22,395.56 282.83,395.02 290.05,389.98 300.88,387.46 308.1,363.7" fill="none" stroke="#aaaaaa" stroke-width="0.8" stroke-linejoin="round" />
<polyline points="214.24,440.2 235.9,437.68 253.95,433 264.78,421.3 279.22,403.84 282.83,402.4 290.05,398.8 300.88,399.99 308.1,367.48" fill="none" stroke="#aaaaaa" stroke-width="0.8" stroke-linejoin="round" />
<polyline points="214.24,440.2 235.9,438.04 253.95,434.08 264.78,425.08 279.22,408.7 282.83,404.2 290.05,400.96 300.88,392.5 308.1,386.2 315.32,377.92" fill="none" stroke="#aaaaaa" stroke-width="0.8" stroke-linejoin="round" />
<polyline points="214.24,440.2 235.9,438.22 253.95,435.52 264.78,429.4 279.22,417.52 282.83,415 290.05,402.4 300.88,393.4 308.1,383.68" fill="none" stroke="#aaaaaa" stroke-width="0.8" stroke-linejoin="round" />
<polyline points="214.24,440.2 235.9,438.4 253.95,436.96 264.78,434.98 279.22,422.2 282.83,421.3 290.05,404.2 300.88,399.99 308.1,388" fill="none" stroke="#aaaaaa" stroke-width="0.8" stroke-linejoin="round" />
<line x1="213.04" y1="440.2" x2="215.44" y2="440.2" stroke="#999" stroke-width="0.7" />
<line x1="214.24" y1="439" x2="214.24" y2="441.4" stroke="#999" stroke-width="0.7" />
<line x1="234.7" y1="437.32" x2="237.1" y2="437.32" stroke="#999" stroke-width="0.7" />
<line x1="235.9" y1="436.12" x2="235.9" y2="438.52" stroke="#999" stroke-width="0.7" />
<line x1="252.75" y1="431.92" x2="255.15" y2="431.92" stroke="#999" stroke-width="0.7" />
<line x1="253.95" y1="430.72" x2="253.95" y2="433.12" stroke="#999" stroke-width="0.7" />
<line x1="263.58" y1="418.6" x2="265.98" y2="418.6" stroke="#999" stroke-width="0.7" />
<line x1="264.78" y1="417.4" x2="264.78" y2="419.8" stroke="#999" stroke-width="0.7" />
<line x1="278.02" y1="395.56" x2="280.42" y2="395.56" stroke="#999" stroke-width="0.7" />
<line x1="279.22" y1="394.36" x2="279.22" y2="396.76" stroke="#999" stroke-width="0.7" />
<line x1="281.63" y1="395.02" x2="284.03" y2="395.02" stroke="#999" stroke-width="0.7" />
<line x1="282.83" y1="393.82" x2="282.83" y2="396.22" stroke="#999" stroke-width="0.7" />
<line x1="288.85" y1="389.98" x2="291.25" y2="389.98" stroke="#999" stroke-width="0.7" />
<line x1="290.05" y1="388.78" x2="290.05" y2="391.18" stroke="#999" stroke-width="0.7" />
<line x1="299.68" y1="387.46" x2="302.08" y2="387.46" stroke="#999" stroke-width="0.7" />
<line x1="300.88" y1="386.26" x2="300.88" y2="388.66" stroke="#999" stroke-width="0.7" />
<line x1="306.9" y1="363.7" x2="309.3" y2="363.7" stroke="#999" stroke-width="0.7" />
<line x1="308.1" y1="362.5" x2="308.1" y2="364.9" stroke="#999" stroke-width="0.7" />
<line x1="213.04" y1="440.2" x2="215.44" y2="440.2" stroke="#999" stroke-width="0.7" />
<line x1="214.24" y1="439" x2="214.24" y2="441.4" stroke="#999" stroke-width="0.7" />
<line x1="234.7" y1="437.68" x2="237.1" y2="437.68" stroke="#999" stroke-width="0.7" />
<line x1="235.9" y1="436.48" x2="235.9" y2="438.88" stroke="#999" stroke-width="0.7" />
<line x1="252.75" y1="433" x2="255.15" y2="433" stroke="#999" stroke-width="0.7" />
<line x1="253.95" y1="431.8" x2="253.95" y2="434.2" stroke="#999" stroke-width="0.7" />
<line x1="263.58" y1="421.3" x2="265.98" y2="421.3" stroke="#999" stroke-width="0.7" />
<line x1="264.78" y1="420.1" x2="264.78" y2="422.5" stroke="#999" stroke-width="0.7" />
<line x1="278.02" y1="403.84" x2="280.42" y2="403.84" stroke="#999" stroke-width="0.7" />
<line x1="279.22" y1="402.64" x2="279.22" y2="405.04" stroke="#999" stroke-width="0.7" />
<line x1="281.63" y1="402.4" x2="284.03" y2="402.4" stroke="#999" stroke-width="0.7" />
<line x1="282.83" y1="401.2" x2="282.83" y2="403.6" stroke="#999" stroke-width="0.7" />
<line x1="288.85" y1="398.8" x2="291.25" y2="398.8" stroke="#999" stroke-width="0.7" />
<line x1="290.05" y1="397.6" x2="290.05" y2="400" stroke="#999" stroke-width="0.7" />
<line x1="299.68" y1="399.99" x2="302.08" y2="399.99" stroke="#999" stroke-width="0.7" />
<line x1="300.88" y1="398.79" x2="300.88" y2="401.19" stroke="#999" stroke-width="0.7" />
<line x1="306.9" y1="367.48" x2="309.3" y2="367.48" stroke="#999" stroke-width="0.7" />
<line x1="308.1" y1="366.28" x2="308.1" y2="368.68" stroke="#999" stroke-width="0.7" />
<line x1="213.04" y1="440.2" x2="215.44" y2="440.2" stroke="#999" stroke-width="0.7" />
<line x1="214.24" y1="439" x2="214.24" y2="441.4" stroke="#999" stroke-width="0.7" />
<line x1="234.7" y1="438.04" x2="237.1" y2="438.04" stroke="#999" stroke-width="0.7" />
<line x1="235.9" y1="436.84" x2="235.9" y2="439.24" stroke="#999" stroke-width="0.7" />
<line x1="252.75" y1="434.08" x2="255.15" y2="434.08" stroke="#999" stroke-width="0.7" />
<line x1="253.95" y1="432.88" x2="253.95" y2="435.28" stroke="#999" stroke-width="0.7" />
<line x1="263.58" y1="425.08" x2="265.98" y2="425.08" stroke="#999" stroke-width="0.7" />
<line x1="264.78" y1="423.88" x2="264.78" y2="426.28" stroke="#999" stroke-width="0.7" />
<line x1="278.02" y1="408.7" x2="280.42" y2="408.7" stroke="#999" stroke-width="0.7" />
<line x1="279.22" y1="407.5" x2="279.22" y2="409.9" stroke="#999" stroke-width="0.7" />
<line x1="281.63" y1="404.2" x2="284.03" y2="404.2" stroke="#999" stroke-width="0.7" />
<line x1="282.83" y1="403" x2="282.83" y2="405.4" stroke="#999" stroke-width="0.7" />
<line x1="288.85" y1="400.96" x2="291.25" y2="400.96" stroke="#999" stroke-width="0.7" />
<line x1="290.05" y1="399.76" x2="290.05" y2="402.16" stroke="#999" stroke-width="0.7" />
<line x1="299.68" y1="392.5" x2="302.08" y2="392.5" stroke="#999" stroke-width="0.7" />
<line x1="300.88" y1="391.3" x2="300.88" y2="393.7" stroke="#999" stroke-width="0.7" />
<line x1="306.9" y1="386.2" x2="309.3" y2="386.2" stroke="#999" stroke-width="0.7" />
<line x1="308.1" y1="385" x2="308.1" y2="387.4" stroke="#999" stroke-width="0.7" />
<line x1="314.12" y1="377.92" x2="316.52" y2="377.92" stroke="#999" stroke-width="0.7" />
<line x1="315.32" y1="376.72" x2="315.32" y2="379.12" stroke="#999" stroke-width="0.7" />
<line x1="213.04" y1="440.2" x2="215.44" y2="440.2" stroke="#999" stroke-width="0.7" />
<line x1="214.24" y1="439" x2="214.24" y2="441.4" stroke="#999" stroke-width="0.7" />
<line x1="234.7" y1="438.22" x2="237.1" y2="438.22" stroke="#999" stroke-width="0.7" />
<line x1="235.9" y1="437.02" x2="235.9" y2="439.42" stroke="#999" stroke-width="0.7" />
<line x1="252.75" y1="435.52" x2="255.15" y2="435.52" stroke="#999" stroke-width="0.7" />
<line x1="253.95" y1="434.32" x2="253.95" y2="436.72" stroke="#999" stroke-width="0.7" />
<line x1="263.58" y1="429.4" x2="265.98" y2="429.4" stroke="#999" stroke-width="0.7" />
<line x1="264.78" y1="428.2" x2="264.78" y2="430.6" stroke="#999" stroke-width="0.7" />
<line x1="278.02" y1="417.52" x2="280.42" y2="417.52" stroke="#999" stroke-width="0.7" />
<line x1="279.22" y1="416.32" x2="279.22" y2="418.72" stroke="#999" stroke-width="0.7" />
<line x1="281.63" y1="415" x2="284.03" y2="415" stroke="#999" stroke-width="0.7" />
<line x1="282.83" y1="413.8" x2="282.83" y2="416.2" stroke="#999" stroke-width="0.7" />
<line x1="288.85" y1="402.4" x2="291.25" y2="402.4" stroke="#999" stroke-width="0.7" />
<line x1="290.05" y1="401.2" x2="290.05" y2="403.6" stroke="#999" stroke-width="0.7" />
<line x1="299.68" y1="393.4" x2="302.08" y2="393.4" stroke="#999" stroke-width="0.7" />
<line x1="300.88" y1="392.2" x2="300.88" y2="394.6" stroke="#999" stroke-width="0.7" />
<line x1="306.9" y1="383.68" x2="309.3" y2="383.68" stroke="#999" stroke-width="0.7" />
<line x1="308.1" y1="382.48" x2="308.1" y2="384.88" stroke="#999" stroke-width="0.7" />
<line x1="213.04" y1="440.2" x2="215.44" y2="440.2" stroke="#999" stroke-width="0.7" />
<line x1="214.24" y1="439" x2="214.24" y2="441.4" stroke="#999" stroke-width="0.7" />
<line x1="234.7" y1="438.4" x2="237.1" y2="438.4" stroke="#999" stroke-width="0.7" />
<line x1="235.9" y1="437.2" x2="235.9" y2="439.6" stroke="#999" stroke-width="0.7" />
<line x1="252.75" y1="436.96" x2="255.15" y2="436.96" stroke="#999" stroke-width="0.7" />
<line x1="253.95" y1="435.76" x2="253.95" y2="438.16" stroke="#999" stroke-width="0.7" />
<line x1="263.58" y1="434.98" x2="265.98" y2="434.98" stroke="#999" stroke-width="0.7" />
<line x1="264.78" y1="433.78" x2="264.78" y2="436.18" stroke="#999" stroke-width="0.7" />
<line x1="278.02" y1="422.2" x2="280.42" y2="422.2" stroke="#999" stroke-width="0.7" />
<line x1="279.22" y1="421" x2="279.22" y2="423.4" stroke="#999" stroke-width="0.7" />
<line x1="281.63" y1="421.3" x2="284.03" y2="421.3" stroke="#999" stroke-width="0.7" />
<line x1="282.83" y1="420.1" x2="282.83" y2="422.5" stroke="#999" stroke-width="0.7" />
<line x1="288.85" y1="404.2" x2="291.25" y2="404.2" stroke="#999" stroke-width="0.7" />
<line x1="290.05" y1="403" x2="290.05" y2="405.4" stroke="#999" stroke-width="0.7" />
<line x1="299.68" y1="399.99" x2="302.08" y2="399.99" stroke="#999" stroke-width="0.7" />
<line x1="300.88" y1="398.79" x2="300.88" y2="401.19" stroke="#999" stroke-width="0.7" />
<line x1="306.9" y1="388" x2="309.3" y2="388" stroke="#999" stroke-width="0.7" />
<line x1="308.1" y1="386.8" x2="308.1" y2="389.2" stroke="#999" stroke-width="0.7" />
<polyline points="214.24,440.2 235.9,436.96 253.95,423.64 264.78,416.8 279.22,397.36 282.83,386.92 290.05,364.96" fill="none" stroke="#4b56ac" stroke-width="0.85" stroke-linejoin="round" />
<polyline points="214.24,440.2 235.9,437.32 253.95,427.96 264.78,420.4 279.22,401.68 282.83,398.44 290.05,375.4" fill="none" stroke="#4b56ac" stroke-width="0.85" stroke-linejoin="round" />
<polyline points="214.24,440.2 235.9,437.68 253.95,431.02 264.78,425.8 279.22,406 282.83,398.44 290.05,383.68" fill="none" stroke="#4b56ac" stroke-width="0.85" stroke-linejoin="round" />
<polyline points="214.24,440.2 235.9,438.04 253.95,433 264.78,429.94 279.22,404.2 282.83,397 290.05,391.24 300.88,386.92 308.1,391.96 315.32,377.2" fill="none" stroke="#4b56ac" stroke-width="0.85" stroke-linejoin="round" />
<polyline points="214.24,440.2 235.9,438.4 253.95,435.16 264.78,434.8 279.22,426.88 282.83,426.88 290.05,416.44 300.88,406.72 308.1,390.88 315.32,377.2" fill="none" stroke="#4b56ac" stroke-width="0.85" stroke-linejoin="round" />
<polygon points="214.24,438 216.34,441.7 212.14,441.7" fill="#7c86c6" stroke="#3c48a0" stroke-width="0.6"/>
<polygon points="235.9,434.76 238,438.46 233.8,438.46" fill="#7c86c6" stroke="#3c48a0" stroke-width="0.6"/>
<polygon points="253.95,421.44 256.05,425.14 251.85,425.14" fill="#7c86c6" stroke="#3c48a0" stroke-width="0.6"/>
<polygon points="264.78,414.6 266.88,418.3 262.68,418.3" fill="#7c86c6" stroke="#3c48a0" stroke-width="0.6"/>
<polygon points="279.22,395.16 281.32,398.86 277.12,398.86" fill="#7c86c6" stroke="#3c48a0" stroke-width="0.6"/>
<polygon points="282.83,384.72 284.93,388.42 280.73,388.42" fill="#7c86c6" stroke="#3c48a0" stroke-width="0.6"/>
<polygon points="290.05,362.76 292.15,366.46 287.95,366.46" fill="#7c86c6" stroke="#3c48a0" stroke-width="0.6"/>
<polygon points="214.24,438 216.34,441.7 212.14,441.7" fill="#7c86c6" stroke="#3c48a0" stroke-width="0.6"/>
<polygon points="235.9,435.12 238,438.82 233.8,438.82" fill="#7c86c6" stroke="#3c48a0" stroke-width="0.6"/>
<polygon points="253.95,425.76 256.05,429.46 251.85,429.46" fill="#7c86c6" stroke="#3c48a0" stroke-width="0.6"/>
<polygon points="264.78,418.2 266.88,421.9 262.68,421.9" fill="#7c86c6" stroke="#3c48a0" stroke-width="0.6"/>
<polygon points="279.22,399.48 281.32,403.18 277.12,403.18" fill="#7c86c6" stroke="#3c48a0" stroke-width="0.6"/>
<polygon points="282.83,396.24 284.93,399.94 280.73,399.94" fill="#7c86c6" stroke="#3c48a0" stroke-width="0.6"/>
<polygon points="290.05,373.2 292.15,376.9 287.95,376.9" fill="#7c86c6" stroke="#3c48a0" stroke-width="0.6"/>
<polygon points="214.24,438 216.34,441.7 212.14,441.7" fill="#7c86c6" stroke="#3c48a0" stroke-width="0.6"/>
<polygon points="235.9,435.48 238,439.18 233.8,439.18" fill="#7c86c6" stroke="#3c48a0" stroke-width="0.6"/>
<polygon points="253.95,428.82 256.05,432.52 251.85,432.52" fill="#7c86c6" stroke="#3c48a0" stroke-width="0.6"/>
<polygon points="264.78,423.6 266.88,427.3 262.68,427.3" fill="#7c86c6" stroke="#3c48a0" stroke-width="0.6"/>
<polygon points="279.22,403.8 281.32,407.5 277.12,407.5" fill="#7c86c6" stroke="#3c48a0" stroke-width="0.6"/>
<polygon points="282.83,396.24 284.93,399.94 280.73,399.94" fill="#7c86c6" stroke="#3c48a0" stroke-width="0.6"/>
<polygon points="290.05,381.48 292.15,385.18 287.95,385.18" fill="#7c86c6" stroke="#3c48a0" stroke-width="0.6"/>
<polygon points="214.24,438 216.34,441.7 212.14,441.7" fill="#7c86c6" stroke="#3c48a0" stroke-width="0.6"/>
<polygon points="235.9,435.84 238,439.54 233.8,439.54" fill="#7c86c6" stroke="#3c48a0" stroke-width="0.6"/>
<polygon points="253.95,430.8 256.05,434.5 251.85,434.5" fill="#7c86c6" stroke="#3c48a0" stroke-width="0.6"/>
<polygon points="264.78,427.74 266.88,431.44 262.68,431.44" fill="#7c86c6" stroke="#3c48a0" stroke-width="0.6"/>
<polygon points="279.22,402 281.32,405.7 277.12,405.7" fill="#7c86c6" stroke="#3c48a0" stroke-width="0.6"/>
<polygon points="282.83,394.8 284.93,398.5 280.73,398.5" fill="#7c86c6" stroke="#3c48a0" stroke-width="0.6"/>
<polygon points="290.05,389.04 292.15,392.74 287.95,392.74" fill="#7c86c6" stroke="#3c48a0" stroke-width="0.6"/>
<polygon points="300.88,384.72 302.98,388.42 298.78,388.42" fill="#7c86c6" stroke="#3c48a0" stroke-width="0.6"/>
<polygon points="308.1,389.76 310.2,393.46 306,393.46" fill="#7c86c6" stroke="#3c48a0" stroke-width="0.6"/>
<polygon points="315.32,375 317.42,378.7 313.22,378.7" fill="#7c86c6" stroke="#3c48a0" stroke-width="0.6"/>
<polygon points="214.24,438 216.34,441.7 212.14,441.7" fill="#7c86c6" stroke="#3c48a0" stroke-width="0.6"/>
<polygon points="235.9,436.2 238,439.9 233.8,439.9" fill="#7c86c6" stroke="#3c48a0" stroke-width="0.6"/>
<polygon points="253.95,432.96 256.05,436.66 251.85,436.66" fill="#7c86c6" stroke="#3c48a0" stroke-width="0.6"/>
<polygon points="264.78,432.6 266.88,436.3 262.68,436.3" fill="#7c86c6" stroke="#3c48a0" stroke-width="0.6"/>
<polygon points="279.22,424.68 281.32,428.38 277.12,428.38" fill="#7c86c6" stroke="#3c48a0" stroke-width="0.6"/>
<polygon points="282.83,424.68 284.93,428.38 280.73,428.38" fill="#7c86c6" stroke="#3c48a0" stroke-width="0.6"/>
<polygon points="290.05,414.24 292.15,417.94 287.95,417.94" fill="#7c86c6" stroke="#3c48a0" stroke-width="0.6"/>
<polygon points="300.88,404.52 302.98,408.22 298.78,408.22" fill="#7c86c6" stroke="#3c48a0" stroke-width="0.6"/>
<polygon points="308.1,388.68 310.2,392.38 306,392.38" fill="#7c86c6" stroke="#3c48a0" stroke-width="0.6"/>
<polygon points="315.32,375 317.42,378.7 313.22,378.7" fill="#7c86c6" stroke="#3c48a0" stroke-width="0.6"/>
<line x1="214.5" y1="475.6" x2="234" y2="475.6" stroke="#aaaaaa" stroke-width="0.9" />
<line x1="223.3" y1="475.6" x2="225.7" y2="475.6" stroke="#999" stroke-width="0.7" />
<line x1="224.5" y1="474.4" x2="224.5" y2="476.8" stroke="#999" stroke-width="0.7" />
<text x="238.5" y="477.1" font-size="6.3" font-weight="bold" text-anchor="start" fill="#222"  stroke="#222" stroke-width="0.12">Vehicle, q7d</text>
<line x1="214.5" y1="487" x2="234" y2="487" stroke="#4b56ac" stroke-width="0.9" />
<polygon points="224.5,484.8 226.6,488.5 222.4,488.5" fill="#7c86c6" stroke="#3c48a0" stroke-width="0.6"/>
<text x="238.5" y="488.5" font-size="6.3" font-weight="bold" text-anchor="start" fill="#222"  stroke="#222" stroke-width="0.12">B7-H6/CD3 ITE, 0.5 mg/kg, q7d</text>
<line x1="394.7" y1="361" x2="394.7" y2="440.2" stroke="#111" stroke-width="1.0" />
<line x1="394.2" y1="440.2" x2="513.87" y2="440.2" stroke="#111" stroke-width="1.0" />
<line x1="392.2" y1="440.2" x2="394.7" y2="440.2" stroke="#111" stroke-width="0.8" />
<text x="390.4" y="442.3" font-size="5.9" font-weight="bold" text-anchor="end" fill="#222"  stroke="#222" stroke-width="0.12">0</text>
<line x1="392.2" y1="422.2" x2="394.7" y2="422.2" stroke="#111" stroke-width="0.8" />
<text x="390.4" y="424.3" font-size="5.9" font-weight="bold" text-anchor="end" fill="#222"  stroke="#222" stroke-width="0.12">500</text>
<line x1="392.2" y1="404.2" x2="394.7" y2="404.2" stroke="#111" stroke-width="0.8" />
<text x="390.4" y="406.3" font-size="5.9" font-weight="bold" text-anchor="end" fill="#222"  stroke="#222" stroke-width="0.12">1,000</text>
<line x1="392.2" y1="386.2" x2="394.7" y2="386.2" stroke="#111" stroke-width="0.8" />
<text x="390.4" y="388.3" font-size="5.9" font-weight="bold" text-anchor="end" fill="#222"  stroke="#222" stroke-width="0.12">1,500</text>
<line x1="392.2" y1="368.2" x2="394.7" y2="368.2" stroke="#111" stroke-width="0.8" />
<text x="390.4" y="370.3" font-size="5.9" font-weight="bold" text-anchor="end" fill="#222"  stroke="#222" stroke-width="0.12">2,000</text>
<line x1="394.74" y1="440.2" x2="394.74" y2="441.6" stroke="#111" stroke-width="0.7" />
<line x1="398.35" y1="440.2" x2="398.35" y2="442.7" stroke="#111" stroke-width="0.8" />
<line x1="401.96" y1="440.2" x2="401.96" y2="441.6" stroke="#111" stroke-width="0.7" />
<line x1="405.57" y1="440.2" x2="405.57" y2="441.6" stroke="#111" stroke-width="0.7" />
<line x1="409.18" y1="440.2" x2="409.18" y2="441.6" stroke="#111" stroke-width="0.7" />
<line x1="412.79" y1="440.2" x2="412.79" y2="441.6" stroke="#111" stroke-width="0.7" />
<line x1="416.4" y1="440.2" x2="416.4" y2="442.7" stroke="#111" stroke-width="0.8" />
<line x1="420.01" y1="440.2" x2="420.01" y2="441.6" stroke="#111" stroke-width="0.7" />
<line x1="423.62" y1="440.2" x2="423.62" y2="441.6" stroke="#111" stroke-width="0.7" />
<line x1="427.23" y1="440.2" x2="427.23" y2="441.6" stroke="#111" stroke-width="0.7" />
<line x1="430.84" y1="440.2" x2="430.84" y2="441.6" stroke="#111" stroke-width="0.7" />
<line x1="434.45" y1="440.2" x2="434.45" y2="442.7" stroke="#111" stroke-width="0.8" />
<line x1="438.06" y1="440.2" x2="438.06" y2="441.6" stroke="#111" stroke-width="0.7" />
<line x1="441.67" y1="440.2" x2="441.67" y2="441.6" stroke="#111" stroke-width="0.7" />
<line x1="445.28" y1="440.2" x2="445.28" y2="441.6" stroke="#111" stroke-width="0.7" />
<line x1="448.89" y1="440.2" x2="448.89" y2="441.6" stroke="#111" stroke-width="0.7" />
<line x1="452.5" y1="440.2" x2="452.5" y2="442.7" stroke="#111" stroke-width="0.8" />
<line x1="456.11" y1="440.2" x2="456.11" y2="441.6" stroke="#111" stroke-width="0.7" />
<line x1="459.72" y1="440.2" x2="459.72" y2="441.6" stroke="#111" stroke-width="0.7" />
<line x1="463.33" y1="440.2" x2="463.33" y2="441.6" stroke="#111" stroke-width="0.7" />
<line x1="466.94" y1="440.2" x2="466.94" y2="441.6" stroke="#111" stroke-width="0.7" />
<line x1="470.55" y1="440.2" x2="470.55" y2="442.7" stroke="#111" stroke-width="0.8" />
<line x1="474.16" y1="440.2" x2="474.16" y2="441.6" stroke="#111" stroke-width="0.7" />
<line x1="477.77" y1="440.2" x2="477.77" y2="441.6" stroke="#111" stroke-width="0.7" />
<line x1="481.38" y1="440.2" x2="481.38" y2="441.6" stroke="#111" stroke-width="0.7" />
<line x1="484.99" y1="440.2" x2="484.99" y2="441.6" stroke="#111" stroke-width="0.7" />
<line x1="488.6" y1="440.2" x2="488.6" y2="442.7" stroke="#111" stroke-width="0.8" />
<line x1="492.21" y1="440.2" x2="492.21" y2="441.6" stroke="#111" stroke-width="0.7" />
<line x1="495.82" y1="440.2" x2="495.82" y2="441.6" stroke="#111" stroke-width="0.7" />
<line x1="499.43" y1="440.2" x2="499.43" y2="441.6" stroke="#111" stroke-width="0.7" />
<line x1="503.04" y1="440.2" x2="503.04" y2="441.6" stroke="#111" stroke-width="0.7" />
<line x1="506.65" y1="440.2" x2="506.65" y2="442.7" stroke="#111" stroke-width="0.8" />
<line x1="510.26" y1="440.2" x2="510.26" y2="441.6" stroke="#111" stroke-width="0.7" />
<line x1="513.87" y1="440.2" x2="513.87" y2="441.6" stroke="#111" stroke-width="0.7" />
<text x="397.75" y="450" font-size="6.0" font-weight="bold" text-anchor="middle" fill="#222"  stroke="#222" stroke-width="0.12">−5</text>
<text x="416.4" y="450" font-size="6.0" font-weight="bold" text-anchor="middle" fill="#222"  stroke="#222" stroke-width="0.12">0</text>
<text x="434.45" y="450" font-size="6.0" font-weight="bold" text-anchor="middle" fill="#222"  stroke="#222" stroke-width="0.12">5</text>
<text x="452.5" y="450" font-size="6.0" font-weight="bold" text-anchor="middle" fill="#222"  stroke="#222" stroke-width="0.12">10</text>
<text x="470.55" y="450" font-size="6.0" font-weight="bold" text-anchor="middle" fill="#222"  stroke="#222" stroke-width="0.12">15</text>
<text x="488.6" y="450" font-size="6.0" font-weight="bold" text-anchor="middle" fill="#222"  stroke="#222" stroke-width="0.12">20</text>
<text x="506.65" y="450" font-size="6.0" font-weight="bold" text-anchor="middle" fill="#222"  stroke="#222" stroke-width="0.12">25</text>
<text x="453.58" y="459.2" font-size="6.6" font-weight="bold" text-anchor="middle" fill="#111"  stroke="#111" stroke-width="0.12">Days</text>
<text transform="translate(369,402.8) rotate(-90)" font-size="7" font-weight="bold" text-anchor="middle" fill="#222" stroke="#222" stroke-width="0.12">Tumor volume <tspan font-size="5.3" font-weight="normal" stroke-width="0.2">(mm</tspan><tspan dy="-2.1" font-size="3.9">3</tspan><tspan dy="2.1" font-size="5.3" font-weight="normal" stroke-width="0.2">)</tspan></text>
<text x="458.28" y="349.2" font-size="6.5" font-weight="bold" text-anchor="middle" fill="#111"  stroke="#111" stroke-width="0.12">Treatment</text>
<polygon points="419.93,353.5 421.53,353.5 421.53,355 423.13,355 420.73,360.3 418.33,355 419.93,355" fill="#111" />
<polygon points="444.84,353.5 446.44,353.5 446.44,355 448.04,355 445.64,360.3 443.24,355 444.84,355" fill="#111" />
<polygon points="469.75,353.5 471.35,353.5 471.35,355 472.95,355 470.55,360.3 468.15,355 469.75,355" fill="#111" />
<polygon points="495.38,353.5 496.98,353.5 496.98,355 498.58,355 496.18,360.3 493.78,355 495.38,355" fill="#111" />
<text x="417" y="416.6" font-size="5.6" font-weight="normal" text-anchor="middle" fill="#555"  stroke="#555" stroke-width="0.22">PBMCs</text>
<line x1="416.5" y1="420" x2="416.5" y2="425.5" stroke="#111" stroke-width="0.9" />
<polygon points="414.2,424.3 418.8,424.3 416.5,430" fill="#111" />
<polyline points="394.74,440.2 416.4,437.32 434.45,431.92 445.28,418.6 459.72,395.56 463.33,395.02 470.55,389.98 481.38,387.46 488.6,363.7" fill="none" stroke="#aaaaaa" stroke-width="0.8" stroke-linejoin="round" />
<polyline points="394.74,440.2 416.4,437.68 434.45,433 445.28,421.3 459.72,403.84 463.33,402.4 470.55,398.8 481.38,399.99 488.6,367.48" fill="none" stroke="#aaaaaa" stroke-width="0.8" stroke-linejoin="round" />
<polyline points="394.74,440.2 416.4,438.04 434.45,434.08 445.28,425.08 459.72,408.7 463.33,404.2 470.55,400.96 481.38,392.5 488.6,386.2 495.82,377.92" fill="none" stroke="#aaaaaa" stroke-width="0.8" stroke-linejoin="round" />
<polyline points="394.74,440.2 416.4,438.22 434.45,435.52 445.28,429.4 459.72,417.52 463.33,415 470.55,402.4 481.38,393.4 488.6,383.68" fill="none" stroke="#aaaaaa" stroke-width="0.8" stroke-linejoin="round" />
<polyline points="394.74,440.2 416.4,438.4 434.45,436.96 445.28,434.98 459.72,422.2 463.33,421.3 470.55,404.2 481.38,399.99 488.6,388" fill="none" stroke="#aaaaaa" stroke-width="0.8" stroke-linejoin="round" />
<line x1="393.54" y1="440.2" x2="395.94" y2="440.2" stroke="#999" stroke-width="0.7" />
<line x1="394.74" y1="439" x2="394.74" y2="441.4" stroke="#999" stroke-width="0.7" />
<line x1="415.2" y1="437.32" x2="417.6" y2="437.32" stroke="#999" stroke-width="0.7" />
<line x1="416.4" y1="436.12" x2="416.4" y2="438.52" stroke="#999" stroke-width="0.7" />
<line x1="433.25" y1="431.92" x2="435.65" y2="431.92" stroke="#999" stroke-width="0.7" />
<line x1="434.45" y1="430.72" x2="434.45" y2="433.12" stroke="#999" stroke-width="0.7" />
<line x1="444.08" y1="418.6" x2="446.48" y2="418.6" stroke="#999" stroke-width="0.7" />
<line x1="445.28" y1="417.4" x2="445.28" y2="419.8" stroke="#999" stroke-width="0.7" />
<line x1="458.52" y1="395.56" x2="460.92" y2="395.56" stroke="#999" stroke-width="0.7" />
<line x1="459.72" y1="394.36" x2="459.72" y2="396.76" stroke="#999" stroke-width="0.7" />
<line x1="462.13" y1="395.02" x2="464.53" y2="395.02" stroke="#999" stroke-width="0.7" />
<line x1="463.33" y1="393.82" x2="463.33" y2="396.22" stroke="#999" stroke-width="0.7" />
<line x1="469.35" y1="389.98" x2="471.75" y2="389.98" stroke="#999" stroke-width="0.7" />
<line x1="470.55" y1="388.78" x2="470.55" y2="391.18" stroke="#999" stroke-width="0.7" />
<line x1="480.18" y1="387.46" x2="482.58" y2="387.46" stroke="#999" stroke-width="0.7" />
<line x1="481.38" y1="386.26" x2="481.38" y2="388.66" stroke="#999" stroke-width="0.7" />
<line x1="487.4" y1="363.7" x2="489.8" y2="363.7" stroke="#999" stroke-width="0.7" />
<line x1="488.6" y1="362.5" x2="488.6" y2="364.9" stroke="#999" stroke-width="0.7" />
<line x1="393.54" y1="440.2" x2="395.94" y2="440.2" stroke="#999" stroke-width="0.7" />
<line x1="394.74" y1="439" x2="394.74" y2="441.4" stroke="#999" stroke-width="0.7" />
<line x1="415.2" y1="437.68" x2="417.6" y2="437.68" stroke="#999" stroke-width="0.7" />
<line x1="416.4" y1="436.48" x2="416.4" y2="438.88" stroke="#999" stroke-width="0.7" />
<line x1="433.25" y1="433" x2="435.65" y2="433" stroke="#999" stroke-width="0.7" />
<line x1="434.45" y1="431.8" x2="434.45" y2="434.2" stroke="#999" stroke-width="0.7" />
<line x1="444.08" y1="421.3" x2="446.48" y2="421.3" stroke="#999" stroke-width="0.7" />
<line x1="445.28" y1="420.1" x2="445.28" y2="422.5" stroke="#999" stroke-width="0.7" />
<line x1="458.52" y1="403.84" x2="460.92" y2="403.84" stroke="#999" stroke-width="0.7" />
<line x1="459.72" y1="402.64" x2="459.72" y2="405.04" stroke="#999" stroke-width="0.7" />
<line x1="462.13" y1="402.4" x2="464.53" y2="402.4" stroke="#999" stroke-width="0.7" />
<line x1="463.33" y1="401.2" x2="463.33" y2="403.6" stroke="#999" stroke-width="0.7" />
<line x1="469.35" y1="398.8" x2="471.75" y2="398.8" stroke="#999" stroke-width="0.7" />
<line x1="470.55" y1="397.6" x2="470.55" y2="400" stroke="#999" stroke-width="0.7" />
<line x1="480.18" y1="399.99" x2="482.58" y2="399.99" stroke="#999" stroke-width="0.7" />
<line x1="481.38" y1="398.79" x2="481.38" y2="401.19" stroke="#999" stroke-width="0.7" />
<line x1="487.4" y1="367.48" x2="489.8" y2="367.48" stroke="#999" stroke-width="0.7" />
<line x1="488.6" y1="366.28" x2="488.6" y2="368.68" stroke="#999" stroke-width="0.7" />
<line x1="393.54" y1="440.2" x2="395.94" y2="440.2" stroke="#999" stroke-width="0.7" />
<line x1="394.74" y1="439" x2="394.74" y2="441.4" stroke="#999" stroke-width="0.7" />
<line x1="415.2" y1="438.04" x2="417.6" y2="438.04" stroke="#999" stroke-width="0.7" />
<line x1="416.4" y1="436.84" x2="416.4" y2="439.24" stroke="#999" stroke-width="0.7" />
<line x1="433.25" y1="434.08" x2="435.65" y2="434.08" stroke="#999" stroke-width="0.7" />
<line x1="434.45" y1="432.88" x2="434.45" y2="435.28" stroke="#999" stroke-width="0.7" />
<line x1="444.08" y1="425.08" x2="446.48" y2="425.08" stroke="#999" stroke-width="0.7" />
<line x1="445.28" y1="423.88" x2="445.28" y2="426.28" stroke="#999" stroke-width="0.7" />
<line x1="458.52" y1="408.7" x2="460.92" y2="408.7" stroke="#999" stroke-width="0.7" />
<line x1="459.72" y1="407.5" x2="459.72" y2="409.9" stroke="#999" stroke-width="0.7" />
<line x1="462.13" y1="404.2" x2="464.53" y2="404.2" stroke="#999" stroke-width="0.7" />
<line x1="463.33" y1="403" x2="463.33" y2="405.4" stroke="#999" stroke-width="0.7" />
<line x1="469.35" y1="400.96" x2="471.75" y2="400.96" stroke="#999" stroke-width="0.7" />
<line x1="470.55" y1="399.76" x2="470.55" y2="402.16" stroke="#999" stroke-width="0.7" />
<line x1="480.18" y1="392.5" x2="482.58" y2="392.5" stroke="#999" stroke-width="0.7" />
<line x1="481.38" y1="391.3" x2="481.38" y2="393.7" stroke="#999" stroke-width="0.7" />
<line x1="487.4" y1="386.2" x2="489.8" y2="386.2" stroke="#999" stroke-width="0.7" />
<line x1="488.6" y1="385" x2="488.6" y2="387.4" stroke="#999" stroke-width="0.7" />
<line x1="494.62" y1="377.92" x2="497.02" y2="377.92" stroke="#999" stroke-width="0.7" />
<line x1="495.82" y1="376.72" x2="495.82" y2="379.12" stroke="#999" stroke-width="0.7" />
<line x1="393.54" y1="440.2" x2="395.94" y2="440.2" stroke="#999" stroke-width="0.7" />
<line x1="394.74" y1="439" x2="394.74" y2="441.4" stroke="#999" stroke-width="0.7" />
<line x1="415.2" y1="438.22" x2="417.6" y2="438.22" stroke="#999" stroke-width="0.7" />
<line x1="416.4" y1="437.02" x2="416.4" y2="439.42" stroke="#999" stroke-width="0.7" />
<line x1="433.25" y1="435.52" x2="435.65" y2="435.52" stroke="#999" stroke-width="0.7" />
<line x1="434.45" y1="434.32" x2="434.45" y2="436.72" stroke="#999" stroke-width="0.7" />
<line x1="444.08" y1="429.4" x2="446.48" y2="429.4" stroke="#999" stroke-width="0.7" />
<line x1="445.28" y1="428.2" x2="445.28" y2="430.6" stroke="#999" stroke-width="0.7" />
<line x1="458.52" y1="417.52" x2="460.92" y2="417.52" stroke="#999" stroke-width="0.7" />
<line x1="459.72" y1="416.32" x2="459.72" y2="418.72" stroke="#999" stroke-width="0.7" />
<line x1="462.13" y1="415" x2="464.53" y2="415" stroke="#999" stroke-width="0.7" />
<line x1="463.33" y1="413.8" x2="463.33" y2="416.2" stroke="#999" stroke-width="0.7" />
<line x1="469.35" y1="402.4" x2="471.75" y2="402.4" stroke="#999" stroke-width="0.7" />
<line x1="470.55" y1="401.2" x2="470.55" y2="403.6" stroke="#999" stroke-width="0.7" />
<line x1="480.18" y1="393.4" x2="482.58" y2="393.4" stroke="#999" stroke-width="0.7" />
<line x1="481.38" y1="392.2" x2="481.38" y2="394.6" stroke="#999" stroke-width="0.7" />
<line x1="487.4" y1="383.68" x2="489.8" y2="383.68" stroke="#999" stroke-width="0.7" />
<line x1="488.6" y1="382.48" x2="488.6" y2="384.88" stroke="#999" stroke-width="0.7" />
<line x1="393.54" y1="440.2" x2="395.94" y2="440.2" stroke="#999" stroke-width="0.7" />
<line x1="394.74" y1="439" x2="394.74" y2="441.4" stroke="#999" stroke-width="0.7" />
<line x1="415.2" y1="438.4" x2="417.6" y2="438.4" stroke="#999" stroke-width="0.7" />
<line x1="416.4" y1="437.2" x2="416.4" y2="439.6" stroke="#999" stroke-width="0.7" />
<line x1="433.25" y1="436.96" x2="435.65" y2="436.96" stroke="#999" stroke-width="0.7" />
<line x1="434.45" y1="435.76" x2="434.45" y2="438.16" stroke="#999" stroke-width="0.7" />
<line x1="444.08" y1="434.98" x2="446.48" y2="434.98" stroke="#999" stroke-width="0.7" />
<line x1="445.28" y1="433.78" x2="445.28" y2="436.18" stroke="#999" stroke-width="0.7" />
<line x1="458.52" y1="422.2" x2="460.92" y2="422.2" stroke="#999" stroke-width="0.7" />
<line x1="459.72" y1="421" x2="459.72" y2="423.4" stroke="#999" stroke-width="0.7" />
<line x1="462.13" y1="421.3" x2="464.53" y2="421.3" stroke="#999" stroke-width="0.7" />
<line x1="463.33" y1="420.1" x2="463.33" y2="422.5" stroke="#999" stroke-width="0.7" />
<line x1="469.35" y1="404.2" x2="471.75" y2="404.2" stroke="#999" stroke-width="0.7" />
<line x1="470.55" y1="403" x2="470.55" y2="405.4" stroke="#999" stroke-width="0.7" />
<line x1="480.18" y1="399.99" x2="482.58" y2="399.99" stroke="#999" stroke-width="0.7" />
<line x1="481.38" y1="398.79" x2="481.38" y2="401.19" stroke="#999" stroke-width="0.7" />
<line x1="487.4" y1="388" x2="489.8" y2="388" stroke="#999" stroke-width="0.7" />
<line x1="488.6" y1="386.8" x2="488.6" y2="389.2" stroke="#999" stroke-width="0.7" />
<polyline points="394.74,440.2 416.4,438.04 434.45,427.1 445.28,412.12 459.72,400.6 463.33,416.44 470.55,418.82 481.38,429.8 488.6,431.2 495.82,430.48 506.65,438.04 513.87,438.4" fill="none" stroke="#f2a862" stroke-width="0.9" stroke-linejoin="round" />
<polyline points="394.74,440.2 416.4,438.22 434.45,431.2 445.28,422.92 459.72,414.82 463.33,420.04 470.55,432.71 481.38,438.76 488.6,439.12 495.82,438.76 506.65,439.12 513.87,439.12" fill="none" stroke="#f2a862" stroke-width="0.9" stroke-linejoin="round" />
<polyline points="394.74,440.2 416.4,438.4 434.45,433.61 445.28,425.19 459.72,417.7 463.33,429.22 470.55,436.1 481.38,439.12 488.6,439.48 495.82,439.12 506.65,439.48 513.87,439.48" fill="none" stroke="#f2a862" stroke-width="0.9" stroke-linejoin="round" />
<polyline points="394.74,440.2 416.4,438.58 434.45,435.59 445.28,430.41 459.72,424 463.33,432.1 470.55,438.04 481.38,439.48 488.6,439.48 495.82,439.48 506.65,439.48 513.87,439.48" fill="none" stroke="#f2a862" stroke-width="0.9" stroke-linejoin="round" />
<polyline points="394.74,440.2 416.4,438.76 434.45,436.24 445.28,429.4 459.72,420.04 463.33,425.8 470.55,435.88 481.38,439.12 488.6,439.3 495.82,439.3 506.65,439.3 513.87,439.3" fill="none" stroke="#f2a862" stroke-width="0.9" stroke-linejoin="round" />
<rect x="393.54" y="439" width="2.4" height="2.4" fill="#f0902e" stroke="#f0902e" stroke-width="0.3"/>
<rect x="415.2" y="436.84" width="2.4" height="2.4" fill="#f0902e" stroke="#f0902e" stroke-width="0.3"/>
<rect x="433.25" y="425.9" width="2.4" height="2.4" fill="#f0902e" stroke="#f0902e" stroke-width="0.3"/>
<rect x="444.08" y="410.92" width="2.4" height="2.4" fill="#f0902e" stroke="#f0902e" stroke-width="0.3"/>
<rect x="458.52" y="399.4" width="2.4" height="2.4" fill="#f0902e" stroke="#f0902e" stroke-width="0.3"/>
<rect x="462.13" y="415.24" width="2.4" height="2.4" fill="#f0902e" stroke="#f0902e" stroke-width="0.3"/>
<rect x="469.35" y="417.62" width="2.4" height="2.4" fill="#f0902e" stroke="#f0902e" stroke-width="0.3"/>
<rect x="480.18" y="428.6" width="2.4" height="2.4" fill="#f0902e" stroke="#f0902e" stroke-width="0.3"/>
<rect x="487.4" y="430" width="2.4" height="2.4" fill="#f0902e" stroke="#f0902e" stroke-width="0.3"/>
<rect x="494.62" y="429.28" width="2.4" height="2.4" fill="#f0902e" stroke="#f0902e" stroke-width="0.3"/>
<rect x="505.45" y="436.84" width="2.4" height="2.4" fill="#f0902e" stroke="#f0902e" stroke-width="0.3"/>
<rect x="512.67" y="437.2" width="2.4" height="2.4" fill="#f0902e" stroke="#f0902e" stroke-width="0.3"/>
<rect x="393.54" y="439" width="2.4" height="2.4" fill="#f0902e" stroke="#f0902e" stroke-width="0.3"/>
<rect x="415.2" y="437.02" width="2.4" height="2.4" fill="#f0902e" stroke="#f0902e" stroke-width="0.3"/>
<rect x="433.25" y="430" width="2.4" height="2.4" fill="#f0902e" stroke="#f0902e" stroke-width="0.3"/>
<rect x="444.08" y="421.72" width="2.4" height="2.4" fill="#f0902e" stroke="#f0902e" stroke-width="0.3"/>
<rect x="458.52" y="413.62" width="2.4" height="2.4" fill="#f0902e" stroke="#f0902e" stroke-width="0.3"/>
<rect x="462.13" y="418.84" width="2.4" height="2.4" fill="#f0902e" stroke="#f0902e" stroke-width="0.3"/>
<rect x="469.35" y="431.51" width="2.4" height="2.4" fill="#f0902e" stroke="#f0902e" stroke-width="0.3"/>
<rect x="480.18" y="437.56" width="2.4" height="2.4" fill="#f0902e" stroke="#f0902e" stroke-width="0.3"/>
<rect x="487.4" y="437.92" width="2.4" height="2.4" fill="#f0902e" stroke="#f0902e" stroke-width="0.3"/>
<rect x="494.62" y="437.56" width="2.4" height="2.4" fill="#f0902e" stroke="#f0902e" stroke-width="0.3"/>
<rect x="505.45" y="437.92" width="2.4" height="2.4" fill="#f0902e" stroke="#f0902e" stroke-width="0.3"/>
<rect x="512.67" y="437.92" width="2.4" height="2.4" fill="#f0902e" stroke="#f0902e" stroke-width="0.3"/>
<rect x="393.54" y="439" width="2.4" height="2.4" fill="#f0902e" stroke="#f0902e" stroke-width="0.3"/>
<rect x="415.2" y="437.2" width="2.4" height="2.4" fill="#f0902e" stroke="#f0902e" stroke-width="0.3"/>
<rect x="433.25" y="432.41" width="2.4" height="2.4" fill="#f0902e" stroke="#f0902e" stroke-width="0.3"/>
<rect x="444.08" y="423.99" width="2.4" height="2.4" fill="#f0902e" stroke="#f0902e" stroke-width="0.3"/>
<rect x="458.52" y="416.5" width="2.4" height="2.4" fill="#f0902e" stroke="#f0902e" stroke-width="0.3"/>
<rect x="462.13" y="428.02" width="2.4" height="2.4" fill="#f0902e" stroke="#f0902e" stroke-width="0.3"/>
<rect x="469.35" y="434.9" width="2.4" height="2.4" fill="#f0902e" stroke="#f0902e" stroke-width="0.3"/>
<rect x="480.18" y="437.92" width="2.4" height="2.4" fill="#f0902e" stroke="#f0902e" stroke-width="0.3"/>
<rect x="487.4" y="438.28" width="2.4" height="2.4" fill="#f0902e" stroke="#f0902e" stroke-width="0.3"/>
<rect x="494.62" y="437.92" width="2.4" height="2.4" fill="#f0902e" stroke="#f0902e" stroke-width="0.3"/>
<rect x="505.45" y="438.28" width="2.4" height="2.4" fill="#f0902e" stroke="#f0902e" stroke-width="0.3"/>
<rect x="512.67" y="438.28" width="2.4" height="2.4" fill="#f0902e" stroke="#f0902e" stroke-width="0.3"/>
<rect x="393.54" y="439" width="2.4" height="2.4" fill="#f0902e" stroke="#f0902e" stroke-width="0.3"/>
<rect x="415.2" y="437.38" width="2.4" height="2.4" fill="#f0902e" stroke="#f0902e" stroke-width="0.3"/>
<rect x="433.25" y="434.39" width="2.4" height="2.4" fill="#f0902e" stroke="#f0902e" stroke-width="0.3"/>
<rect x="444.08" y="429.21" width="2.4" height="2.4" fill="#f0902e" stroke="#f0902e" stroke-width="0.3"/>
<rect x="458.52" y="422.8" width="2.4" height="2.4" fill="#f0902e" stroke="#f0902e" stroke-width="0.3"/>
<rect x="462.13" y="430.9" width="2.4" height="2.4" fill="#f0902e" stroke="#f0902e" stroke-width="0.3"/>
<rect x="469.35" y="436.84" width="2.4" height="2.4" fill="#f0902e" stroke="#f0902e" stroke-width="0.3"/>
<rect x="480.18" y="438.28" width="2.4" height="2.4" fill="#f0902e" stroke="#f0902e" stroke-width="0.3"/>
<rect x="487.4" y="438.28" width="2.4" height="2.4" fill="#f0902e" stroke="#f0902e" stroke-width="0.3"/>
<rect x="494.62" y="438.28" width="2.4" height="2.4" fill="#f0902e" stroke="#f0902e" stroke-width="0.3"/>
<rect x="505.45" y="438.28" width="2.4" height="2.4" fill="#f0902e" stroke="#f0902e" stroke-width="0.3"/>
<rect x="512.67" y="438.28" width="2.4" height="2.4" fill="#f0902e" stroke="#f0902e" stroke-width="0.3"/>
<rect x="393.54" y="439" width="2.4" height="2.4" fill="#f0902e" stroke="#f0902e" stroke-width="0.3"/>
<rect x="415.2" y="437.56" width="2.4" height="2.4" fill="#f0902e" stroke="#f0902e" stroke-width="0.3"/>
<rect x="433.25" y="435.04" width="2.4" height="2.4" fill="#f0902e" stroke="#f0902e" stroke-width="0.3"/>
<rect x="444.08" y="428.2" width="2.4" height="2.4" fill="#f0902e" stroke="#f0902e" stroke-width="0.3"/>
<rect x="458.52" y="418.84" width="2.4" height="2.4" fill="#f0902e" stroke="#f0902e" stroke-width="0.3"/>
<rect x="462.13" y="424.6" width="2.4" height="2.4" fill="#f0902e" stroke="#f0902e" stroke-width="0.3"/>
<rect x="469.35" y="434.68" width="2.4" height="2.4" fill="#f0902e" stroke="#f0902e" stroke-width="0.3"/>
<rect x="480.18" y="437.92" width="2.4" height="2.4" fill="#f0902e" stroke="#f0902e" stroke-width="0.3"/>
<rect x="487.4" y="438.1" width="2.4" height="2.4" fill="#f0902e" stroke="#f0902e" stroke-width="0.3"/>
<rect x="494.62" y="438.1" width="2.4" height="2.4" fill="#f0902e" stroke="#f0902e" stroke-width="0.3"/>
<rect x="505.45" y="438.1" width="2.4" height="2.4" fill="#f0902e" stroke="#f0902e" stroke-width="0.3"/>
<rect x="512.67" y="438.1" width="2.4" height="2.4" fill="#f0902e" stroke="#f0902e" stroke-width="0.3"/>
<line x1="397" y1="475.6" x2="416.5" y2="475.6" stroke="#aaaaaa" stroke-width="0.9" />
<line x1="405.8" y1="475.6" x2="408.2" y2="475.6" stroke="#999" stroke-width="0.7" />
<line x1="407" y1="474.4" x2="407" y2="476.8" stroke="#999" stroke-width="0.7" />
<text x="421" y="477.1" font-size="6.3" font-weight="bold" text-anchor="start" fill="#222"  stroke="#222" stroke-width="0.12">Vehicle, q7d</text>
<line x1="397" y1="490.2" x2="416.5" y2="490.2" stroke="#f2a862" stroke-width="0.9" />
<rect x="405.8" y="489" width="2.4" height="2.4" fill="#f0902e" stroke="#f0902e" stroke-width="0.3"/>
<text x="421" y="487.9" font-size="6.3" font-weight="bold" text-anchor="start" fill="#222"  stroke="#222" stroke-width="0.12">B7-H6/CD3 ITE, 0.5 mg/kg, q7d +</text>
<text x="421" y="495.5" font-size="6.3" font-weight="bold" text-anchor="start" fill="#222"  stroke="#222" stroke-width="0.12">anti-PD-1, 10 mg/kg, q7d</text>
</svg>
</body></html>
